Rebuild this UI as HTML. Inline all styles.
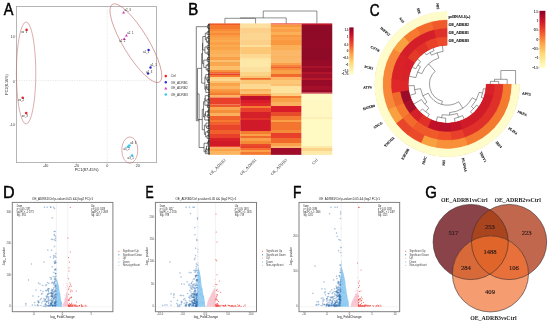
<!DOCTYPE html>
<html><head><meta charset="utf-8"><style>
html,body{margin:0;padding:0;background:#fff;}
svg{display:block;will-change:transform;filter:blur(0.3px);}
</style></head><body>
<svg width="550" height="324" viewBox="0 0 550 324">
<rect width="550" height="324" fill="#fff"/>
<text x="0" y="0" font-size="16.6" font-family='"Liberation Sans", sans-serif' fill="#000" stroke="#000" stroke-width="0.5" transform="translate(3.85 14.80) scale(0.87 1)">A</text>
<line x1="16.5" y1="80.5" x2="156.5" y2="80.5" stroke="#d0d0d0" stroke-width="0.5" stroke-dasharray="1.2,1.2"/>
<line x1="107.2" y1="6.5" x2="107.2" y2="162.6" stroke="#d0d0d0" stroke-width="0.5" stroke-dasharray="1.2,1.2"/>
<rect x="16.5" y="6.5" width="140.0" height="156.1" fill="none" stroke="#a4a4a4" stroke-width="0.8"/>
<line x1="15.3" y1="36.1" x2="16.5" y2="36.1" stroke="#999" stroke-width="0.4"/>
<text x="14.90" y="38.10" font-size="3.7" font-family='"Liberation Sans", sans-serif' text-anchor="end" fill="#444" font-weight="normal">10</text>
<line x1="15.3" y1="80.5" x2="16.5" y2="80.5" stroke="#999" stroke-width="0.4"/>
<text x="14.90" y="82.50" font-size="3.7" font-family='"Liberation Sans", sans-serif' text-anchor="end" fill="#444" font-weight="normal">0</text>
<line x1="15.3" y1="124.3" x2="16.5" y2="124.3" stroke="#999" stroke-width="0.4"/>
<text x="14.90" y="126.30" font-size="3.7" font-family='"Liberation Sans", sans-serif' text-anchor="end" fill="#444" font-weight="normal">-10</text>
<line x1="45.6" y1="162.6" x2="45.6" y2="163.79999999999998" stroke="#999" stroke-width="0.4"/>
<text x="45.60" y="167.00" font-size="3.7" font-family='"Liberation Sans", sans-serif' text-anchor="middle" fill="#333" font-weight="normal">-40</text>
<line x1="76.4" y1="162.6" x2="76.4" y2="163.79999999999998" stroke="#999" stroke-width="0.4"/>
<text x="76.40" y="167.00" font-size="3.7" font-family='"Liberation Sans", sans-serif' text-anchor="middle" fill="#333" font-weight="normal">-20</text>
<line x1="107.2" y1="162.6" x2="107.2" y2="163.79999999999998" stroke="#999" stroke-width="0.4"/>
<text x="107.20" y="167.00" font-size="3.7" font-family='"Liberation Sans", sans-serif' text-anchor="middle" fill="#333" font-weight="normal">0</text>
<line x1="137.8" y1="162.6" x2="137.8" y2="163.79999999999998" stroke="#999" stroke-width="0.4"/>
<text x="137.80" y="167.00" font-size="3.7" font-family='"Liberation Sans", sans-serif' text-anchor="middle" fill="#333" font-weight="normal">20</text>
<text x="86.70" y="171.40" font-size="4.0" font-family='"Liberation Sans", sans-serif' text-anchor="middle" fill="#222" font-weight="normal">PC1(87.45%)</text>
<text x="8.30" y="84.50" font-size="3.8" font-family='"Liberation Sans", sans-serif' text-anchor="middle" fill="#222" font-weight="normal" transform="rotate(-90 8.3 84.5)">PC2(8.16%)</text>
<ellipse cx="26.1" cy="73" rx="9.7" ry="51" fill="none" stroke="#bf6a6a" stroke-width="0.55"/>
<ellipse cx="0" cy="0" rx="45.5" ry="12.5" fill="none" stroke="#bf6a6a" stroke-width="0.55" transform="translate(135.9 43.2) rotate(58.7)"/>
<ellipse cx="129.8" cy="150.1" rx="8" ry="13.2" fill="none" stroke="#bf6a6a" stroke-width="0.55"/>
<circle cx="26.6" cy="29.9" r="1.3" fill="#f0262a"/>
<text x="21.30" y="33.00" font-size="2.8" font-family='"Liberation Sans", sans-serif' text-anchor="start" fill="#222" font-weight="normal">ov_1</text>
<circle cx="22.7" cy="97.7" r="1.3" fill="#f0262a"/>
<text x="18.10" y="101.20" font-size="2.8" font-family='"Liberation Sans", sans-serif' text-anchor="start" fill="#222" font-weight="normal">ov_2</text>
<circle cx="26.2" cy="113.1" r="1.3" fill="#f0262a"/>
<text x="21.70" y="116.60" font-size="2.8" font-family='"Liberation Sans", sans-serif' text-anchor="start" fill="#222" font-weight="normal">ov_3</text>
<path d="M123.6 10.9 L125.1 13.6 L122.1 13.6 Z" fill="#d43ab8"/>
<text x="124.50" y="11.30" font-size="2.8" font-family='"Liberation Sans", sans-serif' text-anchor="start" fill="#222" font-weight="normal">a2_3</text>
<path d="M126.4 33.9 L127.9 36.6 L124.9 36.6 Z" fill="#d43ab8"/>
<text x="127.20" y="34.20" font-size="2.8" font-family='"Liberation Sans", sans-serif' text-anchor="start" fill="#222" font-weight="normal">a2_1</text>
<path d="M124.2 37.3 L125.7 40.0 L122.7 40.0 Z" fill="#d43ab8"/>
<text x="119.20" y="42.00" font-size="2.8" font-family='"Liberation Sans", sans-serif' text-anchor="start" fill="#222" font-weight="normal">a2_2</text>
<circle cx="148.6" cy="50" r="1.2" fill="#2a2ad8"/>
<text x="143.00" y="52.50" font-size="2.8" font-family='"Liberation Sans", sans-serif' text-anchor="start" fill="#222" font-weight="normal">a1_2</text>
<circle cx="150.5" cy="67.5" r="1.2" fill="#2a2ad8"/>
<text x="150.50" y="66.00" font-size="2.8" font-family='"Liberation Sans", sans-serif' text-anchor="start" fill="#222" font-weight="normal">a1_1</text>
<circle cx="148" cy="73.6" r="1.2" fill="#2a2ad8"/>
<text x="146.00" y="72.50" font-size="2.8" font-family='"Liberation Sans", sans-serif' text-anchor="start" fill="#222" font-weight="normal">a1_3</text>
<circle cx="129.4" cy="145.5" r="1.25" fill="#30c8f0"/>
<text x="130.20" y="143.60" font-size="2.8" font-family='"Liberation Sans", sans-serif' text-anchor="start" fill="#222" font-weight="normal">a3_3</text>
<circle cx="128" cy="146.7" r="1.25" fill="#30c8f0"/>
<text x="123.50" y="149.50" font-size="2.8" font-family='"Liberation Sans", sans-serif' text-anchor="start" fill="#222" font-weight="normal">a3_2</text>
<circle cx="132" cy="155.6" r="1.25" fill="#30c8f0"/>
<text x="127.60" y="159.00" font-size="2.8" font-family='"Liberation Sans", sans-serif' text-anchor="start" fill="#222" font-weight="normal">a3_1</text>
<circle cx="165.8" cy="76.1" r="1.3" fill="#f0262a"/>
<circle cx="165.8" cy="82.3" r="1.2" fill="#2a2ad8"/>
<path d="M165.8 86.80000000000001 L167.3 89.5 L164.3 89.5 Z" fill="#d43ab8"/>
<circle cx="165.8" cy="94.4" r="1.25" fill="#30c8f0"/>
<text x="170.70" y="77.30" font-size="3.2" font-family='"Liberation Sans", sans-serif' text-anchor="start" fill="#333" font-weight="normal">Ctrl</text>
<text x="170.70" y="83.50" font-size="3.2" font-family='"Liberation Sans", sans-serif' text-anchor="start" fill="#333" font-weight="normal">OE_ADRB1</text>
<text x="170.70" y="89.40" font-size="3.2" font-family='"Liberation Sans", sans-serif' text-anchor="start" fill="#333" font-weight="normal">OE_ADRB2</text>
<text x="170.70" y="95.60" font-size="3.2" font-family='"Liberation Sans", sans-serif' text-anchor="start" fill="#333" font-weight="normal">OE_ADRB3</text>
<text x="0" y="0" font-size="16.6" font-family='"Liberation Sans", sans-serif' fill="#000" stroke="#000" stroke-width="0.5" transform="translate(188.20 15.30) scale(0.9 1)">B</text>
<rect x="209.60" y="23.40" width="30.70" height="1.65" fill="#f05a28"/>
<rect x="209.60" y="25.00" width="30.70" height="4.05" fill="#f57a30"/>
<rect x="209.60" y="29.00" width="30.70" height="2.05" fill="#f88a38"/>
<rect x="209.60" y="31.00" width="30.70" height="2.05" fill="#f99a42"/>
<rect x="209.60" y="33.00" width="30.70" height="2.05" fill="#f88a38"/>
<rect x="209.60" y="35.00" width="30.70" height="2.05" fill="#f99a42"/>
<rect x="209.60" y="37.00" width="30.70" height="3.05" fill="#f9a448"/>
<rect x="209.60" y="40.00" width="30.70" height="2.05" fill="#fbac50"/>
<rect x="209.60" y="42.00" width="30.70" height="3.05" fill="#f9a048"/>
<rect x="209.60" y="45.00" width="30.70" height="2.05" fill="#fbac50"/>
<rect x="209.60" y="47.00" width="30.70" height="3.05" fill="#f9a448"/>
<rect x="209.60" y="50.00" width="30.70" height="4.05" fill="#fbb058"/>
<rect x="209.60" y="54.00" width="30.70" height="3.05" fill="#fbb460"/>
<rect x="209.60" y="57.00" width="30.70" height="3.05" fill="#f9a048"/>
<rect x="209.60" y="60.00" width="30.70" height="2.05" fill="#fbc070"/>
<rect x="209.60" y="62.00" width="30.70" height="4.05" fill="#f9a850"/>
<rect x="209.60" y="66.00" width="30.70" height="4.05" fill="#fcbf6c"/>
<rect x="209.60" y="70.00" width="30.70" height="2.05" fill="#f7903c"/>
<rect x="209.60" y="72.00" width="30.70" height="1.55" fill="#f06a2a"/>
<rect x="209.60" y="73.50" width="30.70" height="1.55" fill="#e8402a"/>
<rect x="209.60" y="75.00" width="30.70" height="2.05" fill="#f5782e"/>
<rect x="209.60" y="77.00" width="30.70" height="2.05" fill="#fbd080"/>
<rect x="209.60" y="79.00" width="30.70" height="2.05" fill="#fdd890"/>
<rect x="209.60" y="81.00" width="30.70" height="2.05" fill="#fbc070"/>
<rect x="209.60" y="83.00" width="30.70" height="3.05" fill="#f9a448"/>
<rect x="209.60" y="86.00" width="30.70" height="3.05" fill="#fbb460"/>
<rect x="209.60" y="89.00" width="30.70" height="2.05" fill="#f99a45"/>
<rect x="209.60" y="91.00" width="30.70" height="2.05" fill="#f8903a"/>
<rect x="209.60" y="93.00" width="30.70" height="2.05" fill="#f47c32"/>
<rect x="209.60" y="95.00" width="30.70" height="2.55" fill="#fbb464"/>
<rect x="209.60" y="97.50" width="30.70" height="7.05" fill="#e8402a"/>
<rect x="209.60" y="104.50" width="30.70" height="2.55" fill="#ee5a2c"/>
<rect x="209.60" y="107.00" width="30.70" height="3.05" fill="#f9a550"/>
<rect x="209.60" y="110.00" width="30.70" height="3.05" fill="#f5903a"/>
<rect x="209.60" y="113.00" width="30.70" height="3.05" fill="#fbb060"/>
<rect x="209.60" y="116.00" width="30.70" height="4.05" fill="#f0602a"/>
<rect x="209.60" y="120.00" width="30.70" height="2.05" fill="#f57a30"/>
<rect x="209.60" y="122.00" width="30.70" height="3.05" fill="#f06030"/>
<rect x="209.60" y="125.00" width="30.70" height="5.05" fill="#e8452a"/>
<rect x="209.60" y="130.00" width="30.70" height="4.05" fill="#f0602c"/>
<rect x="209.60" y="134.00" width="30.70" height="4.05" fill="#e8402a"/>
<rect x="209.60" y="138.00" width="30.70" height="3.05" fill="#d82028"/>
<rect x="209.60" y="141.00" width="30.70" height="5.05" fill="#d01a28"/>
<rect x="209.60" y="146.00" width="30.70" height="1.55" fill="#e84a2c"/>
<rect x="209.60" y="147.50" width="30.70" height="1.55" fill="#fbb060"/>
<rect x="209.60" y="149.00" width="30.70" height="2.05" fill="#f9a048"/>
<rect x="209.60" y="151.00" width="30.70" height="3.85" fill="#fbb460"/>
<rect x="240.25" y="23.40" width="30.70" height="4.65" fill="#fde0a0"/>
<rect x="240.25" y="28.00" width="30.70" height="5.05" fill="#fcd08a"/>
<rect x="240.25" y="33.00" width="30.70" height="7.05" fill="#fcd690"/>
<rect x="240.25" y="40.00" width="30.70" height="5.05" fill="#fcd088"/>
<rect x="240.25" y="45.00" width="30.70" height="2.05" fill="#fde09c"/>
<rect x="240.25" y="47.00" width="30.70" height="7.05" fill="#fcc878"/>
<rect x="240.25" y="54.00" width="30.70" height="4.05" fill="#fdd890"/>
<rect x="240.25" y="58.00" width="30.70" height="2.05" fill="#fde4a0"/>
<rect x="240.25" y="60.00" width="30.70" height="7.05" fill="#fde8a8"/>
<rect x="240.25" y="67.00" width="30.70" height="5.05" fill="#fce0a0"/>
<rect x="240.25" y="72.00" width="30.70" height="4.05" fill="#fcd488"/>
<rect x="240.25" y="76.00" width="30.70" height="2.05" fill="#fbc070"/>
<rect x="240.25" y="78.00" width="30.70" height="1.05" fill="#f26a2a"/>
<rect x="240.25" y="79.00" width="30.70" height="1.05" fill="#f48040"/>
<rect x="240.25" y="80.00" width="30.70" height="4.05" fill="#fbc878"/>
<rect x="240.25" y="84.00" width="30.70" height="5.05" fill="#fcd890"/>
<rect x="240.25" y="89.00" width="30.70" height="2.05" fill="#fbb460"/>
<rect x="240.25" y="91.00" width="30.70" height="3.05" fill="#fbc070"/>
<rect x="240.25" y="94.00" width="30.70" height="2.05" fill="#f47c32"/>
<rect x="240.25" y="96.00" width="30.70" height="4.05" fill="#c0102a"/>
<rect x="240.25" y="100.00" width="30.70" height="3.05" fill="#d81c2a"/>
<rect x="240.25" y="103.00" width="30.70" height="3.05" fill="#e0282a"/>
<rect x="240.25" y="106.00" width="30.70" height="2.05" fill="#f47c32"/>
<rect x="240.25" y="108.00" width="30.70" height="4.05" fill="#e8402a"/>
<rect x="240.25" y="112.00" width="30.70" height="6.05" fill="#d42028"/>
<rect x="240.25" y="118.00" width="30.70" height="2.05" fill="#e03028"/>
<rect x="240.25" y="120.00" width="30.70" height="11.05" fill="#d01a2a"/>
<rect x="240.25" y="131.00" width="30.70" height="3.05" fill="#f47c30"/>
<rect x="240.25" y="134.00" width="30.70" height="2.05" fill="#f9a048"/>
<rect x="240.25" y="136.00" width="30.70" height="2.05" fill="#f06a2c"/>
<rect x="240.25" y="138.00" width="30.70" height="3.05" fill="#f9a048"/>
<rect x="240.25" y="141.00" width="30.70" height="3.05" fill="#f58a36"/>
<rect x="240.25" y="144.00" width="30.70" height="2.05" fill="#e84a2a"/>
<rect x="240.25" y="146.00" width="30.70" height="2.05" fill="#e8402a"/>
<rect x="240.25" y="148.00" width="30.70" height="2.05" fill="#f47030"/>
<rect x="240.25" y="150.00" width="30.70" height="2.05" fill="#fba048"/>
<rect x="240.25" y="152.00" width="30.70" height="2.85" fill="#f47830"/>
<rect x="270.90" y="23.40" width="30.70" height="1.15" fill="#e8302a"/>
<rect x="270.90" y="24.50" width="30.70" height="2.55" fill="#f8963e"/>
<rect x="270.90" y="27.00" width="30.70" height="2.05" fill="#fbaa50"/>
<rect x="270.90" y="29.00" width="30.70" height="3.05" fill="#f9a048"/>
<rect x="270.90" y="32.00" width="30.70" height="3.05" fill="#fbb058"/>
<rect x="270.90" y="35.00" width="30.70" height="2.05" fill="#f9983f"/>
<rect x="270.90" y="37.00" width="30.70" height="3.05" fill="#fba048"/>
<rect x="270.90" y="40.00" width="30.70" height="5.05" fill="#f9983f"/>
<rect x="270.90" y="45.00" width="30.70" height="5.05" fill="#fbb058"/>
<rect x="270.90" y="50.00" width="30.70" height="6.05" fill="#fbb868"/>
<rect x="270.90" y="56.00" width="30.70" height="2.05" fill="#fbb460"/>
<rect x="270.90" y="58.00" width="30.70" height="5.05" fill="#fbb868"/>
<rect x="270.90" y="63.00" width="30.70" height="2.05" fill="#f9a048"/>
<rect x="270.90" y="65.00" width="30.70" height="2.05" fill="#f58040"/>
<rect x="270.90" y="67.00" width="30.70" height="1.05" fill="#f06030"/>
<rect x="270.90" y="68.00" width="30.70" height="2.05" fill="#f68a3a"/>
<rect x="270.90" y="70.00" width="30.70" height="4.05" fill="#f8a048"/>
<rect x="270.90" y="74.00" width="30.70" height="1.05" fill="#f06a2a"/>
<rect x="270.90" y="75.00" width="30.70" height="2.05" fill="#f26a30"/>
<rect x="270.90" y="77.00" width="30.70" height="3.05" fill="#fbb464"/>
<rect x="270.90" y="80.00" width="30.70" height="4.05" fill="#fcc878"/>
<rect x="270.90" y="84.00" width="30.70" height="2.05" fill="#fcc070"/>
<rect x="270.90" y="86.00" width="30.70" height="7.05" fill="#fde39e"/>
<rect x="270.90" y="93.00" width="30.70" height="3.05" fill="#fcd080"/>
<rect x="270.90" y="96.00" width="30.70" height="2.05" fill="#f57a32"/>
<rect x="270.90" y="98.00" width="30.70" height="4.05" fill="#f8a048"/>
<rect x="270.90" y="102.00" width="30.70" height="4.05" fill="#fbb060"/>
<rect x="270.90" y="106.00" width="30.70" height="6.05" fill="#d81c2a"/>
<rect x="270.90" y="112.00" width="30.70" height="4.05" fill="#e84a2c"/>
<rect x="270.90" y="116.00" width="30.70" height="4.05" fill="#f47c32"/>
<rect x="270.90" y="120.00" width="30.70" height="2.05" fill="#f9a048"/>
<rect x="270.90" y="122.00" width="30.70" height="8.05" fill="#f47530"/>
<rect x="270.90" y="130.00" width="30.70" height="3.05" fill="#f38a3a"/>
<rect x="270.90" y="133.00" width="30.70" height="5.05" fill="#e8402a"/>
<rect x="270.90" y="138.00" width="30.70" height="5.05" fill="#f06a2c"/>
<rect x="270.90" y="143.00" width="30.70" height="3.05" fill="#f9a048"/>
<rect x="270.90" y="146.00" width="30.70" height="2.05" fill="#fcb870"/>
<rect x="270.90" y="148.00" width="30.70" height="6.85" fill="#a00d2b"/>
<rect x="301.55" y="23.40" width="30.70" height="1.65" fill="#c41528"/>
<rect x="301.55" y="25.00" width="30.70" height="15.05" fill="#8e0a27"/>
<rect x="301.55" y="40.00" width="30.70" height="8.05" fill="#920a28"/>
<rect x="301.55" y="48.00" width="30.70" height="12.05" fill="#8e0a27"/>
<rect x="301.55" y="60.00" width="30.70" height="6.05" fill="#960b28"/>
<rect x="301.55" y="66.00" width="30.70" height="2.05" fill="#a8122b"/>
<rect x="301.55" y="68.00" width="30.70" height="4.05" fill="#9a0b28"/>
<rect x="301.55" y="72.00" width="30.70" height="2.05" fill="#b0152c"/>
<rect x="301.55" y="74.00" width="30.70" height="4.05" fill="#a0102a"/>
<rect x="301.55" y="78.00" width="30.70" height="2.05" fill="#b8182c"/>
<rect x="301.55" y="80.00" width="30.70" height="6.05" fill="#980b28"/>
<rect x="301.55" y="86.00" width="30.70" height="4.05" fill="#a50f2a"/>
<rect x="301.55" y="90.00" width="30.70" height="2.55" fill="#980b28"/>
<rect x="301.55" y="92.50" width="30.70" height="1.25" fill="#c41a2c"/>
<rect x="301.55" y="93.70" width="30.70" height="6.35" fill="#fffbc8"/>
<rect x="301.55" y="100.00" width="30.70" height="16.55" fill="#fff8c2"/>
<rect x="301.55" y="116.50" width="30.70" height="2.55" fill="#fdf0b4"/>
<rect x="301.55" y="119.00" width="30.70" height="27.05" fill="#fff9c4"/>
<rect x="301.55" y="146.00" width="30.70" height="2.05" fill="#fde9a8"/>
<rect x="301.55" y="148.00" width="30.70" height="3.05" fill="#fcd48c"/>
<rect x="301.55" y="151.00" width="30.70" height="3.85" fill="#fde9a8"/>
<path d="M224.92 23.4 V18.3 H255.57 V23.4 M240.25 18.3 V17.9 M240.25 17.9 H286.23 V23.4 M263.24 17.9 V11 H316.88 V23.4" fill="none" stroke="#333" stroke-width="0.55"/>
<path d="M209.60 23.95 H209.02 V25.04 H209.60 M209.02 24.49 H208.47 V26.14 H209.60 M209.60 28.33 H209.14 V29.42 H209.60 M209.60 27.23 H208.43 V28.88 H209.14 M208.47 25.32 H207.45 V28.05 H208.43 M209.60 30.52 H209.05 V31.61 H209.60 M209.05 31.06 H208.16 V32.71 H209.60 M209.60 33.80 H209.14 V34.90 H209.60 M208.16 31.89 H207.06 V34.35 H209.14 M209.60 35.99 H208.95 V37.09 H209.60 M209.60 38.18 H209.10 V39.28 H209.60 M208.95 36.54 H207.80 V38.73 H209.10 M209.60 40.37 H209.01 V41.47 H209.60 M209.60 42.56 H209.10 V43.66 H209.60 M209.01 40.92 H207.73 V43.11 H209.10 M207.80 37.64 H206.37 V42.02 H207.73 M207.06 33.12 H205.31 V39.83 H206.37 M209.60 44.75 H209.07 V45.85 H209.60 M209.60 46.94 H209.09 V48.04 H209.60 M209.60 49.13 H208.94 V50.23 H209.60 M209.09 47.49 H207.69 V49.68 H208.94 M209.07 45.30 H207.21 V48.58 H207.69 M209.60 51.32 H209.05 V52.42 H209.60 M209.60 54.61 H209.03 V55.70 H209.60 M209.60 53.51 H208.63 V55.16 H209.03 M209.05 51.87 H207.24 V54.33 H208.63 M207.21 46.94 H204.95 V53.10 H207.24 M205.31 36.47 H202.84 V50.02 H204.95 M209.60 56.80 H209.01 V57.89 H209.60 M209.60 58.99 H209.04 V60.08 H209.60 M209.01 57.34 H207.61 V59.53 H209.04 M209.60 61.18 H208.99 V62.27 H209.60 M207.61 58.44 H207.26 V61.72 H208.99 M209.60 63.37 H208.91 V64.46 H209.60 M209.60 65.56 H209.05 V66.65 H209.60 M208.91 63.92 H207.74 V66.11 H209.05 M209.60 67.75 H209.11 V68.84 H209.60 M209.60 69.94 H208.96 V71.03 H209.60 M208.96 70.48 H208.59 V72.13 H209.60 M209.11 68.30 H207.63 V71.31 H208.59 M207.74 65.01 H206.13 V69.80 H207.63 M207.26 60.08 H203.73 V67.41 H206.13 M202.84 43.25 H202.49 V63.74 H203.73 M209.60 73.22 H208.94 V74.32 H209.60 M208.94 73.77 H208.51 V75.41 H209.60 M209.60 76.51 H208.93 V77.60 H209.60 M209.60 78.70 H209.10 V79.79 H209.60 M209.10 79.25 H208.54 V80.89 H209.60 M209.60 81.98 H209.00 V83.08 H209.60 M208.54 80.07 H207.61 V82.53 H209.00 M208.93 77.05 H207.23 V81.30 H207.61 M208.51 74.59 H205.82 V79.18 H207.23 M209.60 84.17 H208.92 V85.27 H209.60 M209.60 86.36 H209.00 V87.46 H209.60 M209.60 89.65 H208.93 V90.74 H209.60 M209.60 88.55 H208.26 V90.20 H208.93 M209.00 86.91 H207.04 V89.37 H208.26 M208.92 84.72 H206.23 V88.14 H207.04 M209.60 91.84 H209.12 V92.93 H209.60 M206.23 86.43 H205.76 V92.39 H209.12 M205.82 76.88 H204.86 V89.41 H205.76 M202.49 53.50 H201.66 V83.15 H204.86 M209.60 94.03 H209.12 V95.12 H209.60 M209.60 96.22 H209.06 V97.31 H209.60 M209.12 94.58 H208.21 V96.77 H209.06 M209.60 99.50 H209.06 V100.60 H209.60 M209.60 98.41 H208.47 V100.05 H209.06 M209.60 101.69 H209.12 V102.79 H209.60 M208.47 99.23 H207.07 V102.24 H209.12 M208.21 95.67 H205.21 V100.73 H207.07 M209.60 104.98 H209.06 V106.07 H209.60 M209.60 107.17 H209.08 V108.26 H209.60 M209.06 105.53 H207.62 V107.71 H209.08 M209.60 103.88 H207.27 V106.62 H207.62 M205.21 98.20 H204.86 V105.25 H207.27 M209.60 109.36 H208.91 V110.45 H209.60 M208.91 109.91 H208.22 V111.55 H209.60 M208.22 110.73 H207.72 V112.64 H209.60 M209.60 114.83 H209.11 V115.93 H209.60 M209.60 113.74 H208.26 V115.38 H209.11 M209.60 117.02 H209.07 V118.12 H209.60 M208.26 114.56 H207.65 V117.57 H209.07 M207.72 111.68 H205.49 V116.06 H207.65 M209.60 120.31 H208.95 V121.40 H209.60 M209.60 119.21 H208.24 V120.86 H208.95 M205.49 113.87 H204.73 V120.03 H208.24 M204.86 101.73 H203.56 V116.95 H204.73 M209.60 122.50 H209.14 V123.59 H209.60 M209.60 124.69 H208.92 V125.78 H209.60 M208.92 125.23 H208.43 V126.88 H209.60 M209.60 127.97 H208.92 V129.07 H209.60 M208.43 126.06 H206.94 V128.52 H208.92 M209.14 123.05 H206.03 V127.29 H206.94 M209.60 130.16 H209.10 V131.26 H209.60 M209.60 132.35 H209.00 V133.45 H209.60 M209.10 130.71 H207.57 V132.90 H209.00 M209.60 135.64 H209.13 V136.73 H209.60 M209.60 134.54 H208.32 V136.19 H209.13 M209.60 137.83 H208.93 V138.92 H209.60 M208.32 135.36 H207.13 V138.38 H208.93 M207.57 131.81 H205.58 V136.87 H207.13 M206.03 125.17 H204.38 V134.34 H205.58 M203.56 109.34 H202.25 V129.75 H204.38 M201.66 68.32 H197.50 V119.55 H202.25 M209.60 141.11 H208.97 V142.21 H209.60 M209.60 140.02 H208.57 V141.66 H208.97 M208.57 140.84 H208.13 V143.30 H209.60 M208.13 142.07 H207.72 V144.40 H209.60 M209.60 145.49 H208.91 V146.59 H209.60 M209.60 148.78 H209.01 V149.87 H209.60 M209.60 147.68 H208.59 V149.32 H209.01 M208.59 148.50 H208.22 V150.97 H209.60 M208.91 146.04 H206.46 V149.74 H208.22 M206.46 147.89 H206.11 V152.06 H209.60 M209.60 153.16 H209.04 V154.25 H209.60 M206.11 149.98 H205.40 V153.71 H209.04 M207.72 143.23 H204.06 V151.84 H205.40 M197.50 93.93 H199.10 V147.54 H204.06 M207.45 26.68 H196.30 V120.74 H199.10" fill="none" stroke="#000" stroke-width="0.5"/>
<rect x="208.30" y="23.70" width="1.3" height="130.80" fill="#1a1a1a" opacity="0.75"/>
<text x="226.12" y="160.20" font-size="4.2" font-family='"Liberation Serif", serif' text-anchor="end" fill="#333" font-weight="normal" transform="rotate(-45 226.12499999999997 160.2)">OE_ADRB2</text>
<text x="256.77" y="160.20" font-size="4.2" font-family='"Liberation Serif", serif' text-anchor="end" fill="#333" font-weight="normal" transform="rotate(-45 256.775 160.2)">OE_ADRB1</text>
<text x="287.43" y="160.20" font-size="4.2" font-family='"Liberation Serif", serif' text-anchor="end" fill="#333" font-weight="normal" transform="rotate(-45 287.425 160.2)">OE_ADRB3</text>
<text x="318.07" y="160.20" font-size="4.2" font-family='"Liberation Serif", serif' text-anchor="end" fill="#333" font-weight="normal" transform="rotate(-45 318.075 160.2)">Ctrl</text>
<defs><linearGradient id="gB" x1="0" y1="1" x2="0" y2="0"><stop offset="0" stop-color="#ffffcc"/><stop offset="0.25" stop-color="#fed976"/><stop offset="0.45" stop-color="#fd9d43"/><stop offset="0.65" stop-color="#f04a2a"/><stop offset="0.82" stop-color="#d0142a"/><stop offset="1" stop-color="#8a0026"/></linearGradient></defs>
<rect x="349.3" y="27.4" width="4.3" height="47.1" fill="url(#gB)"/>
<text x="348.40" y="31.10" font-size="3.2" font-family='"Liberation Serif", serif' text-anchor="end" fill="#111" font-weight="normal" stroke="#111" stroke-width="0.08">1.5</text>
<line x1="348.6" y1="30" x2="349.3" y2="30" stroke="#555" stroke-width="0.3"/>
<text x="348.40" y="38.30" font-size="3.2" font-family='"Liberation Serif", serif' text-anchor="end" fill="#111" font-weight="normal" stroke="#111" stroke-width="0.08">1</text>
<line x1="348.6" y1="37.2" x2="349.3" y2="37.2" stroke="#555" stroke-width="0.3"/>
<text x="348.40" y="45.50" font-size="3.2" font-family='"Liberation Serif", serif' text-anchor="end" fill="#111" font-weight="normal" stroke="#111" stroke-width="0.08">0.5</text>
<line x1="348.6" y1="44.4" x2="349.3" y2="44.4" stroke="#555" stroke-width="0.3"/>
<text x="348.40" y="52.10" font-size="3.2" font-family='"Liberation Serif", serif' text-anchor="end" fill="#111" font-weight="normal" stroke="#111" stroke-width="0.08">0</text>
<line x1="348.6" y1="51" x2="349.3" y2="51" stroke="#555" stroke-width="0.3"/>
<text x="348.40" y="58.90" font-size="3.2" font-family='"Liberation Serif", serif' text-anchor="end" fill="#111" font-weight="normal" stroke="#111" stroke-width="0.08">-0.5</text>
<line x1="348.6" y1="57.8" x2="349.3" y2="57.8" stroke="#555" stroke-width="0.3"/>
<text x="348.40" y="65.70" font-size="3.2" font-family='"Liberation Serif", serif' text-anchor="end" fill="#111" font-weight="normal" stroke="#111" stroke-width="0.08">-1</text>
<line x1="348.6" y1="64.6" x2="349.3" y2="64.6" stroke="#555" stroke-width="0.3"/>
<text x="348.40" y="71.80" font-size="3.2" font-family='"Liberation Serif", serif' text-anchor="end" fill="#111" font-weight="normal" stroke="#111" stroke-width="0.08">-1.5</text>
<line x1="348.6" y1="70.7" x2="349.3" y2="70.7" stroke="#555" stroke-width="0.3"/>
<text x="348.40" y="75.40" font-size="3.2" font-family='"Liberation Serif", serif' text-anchor="end" fill="#111" font-weight="normal" stroke="#111" stroke-width="0.08">-1.75</text>
<line x1="348.6" y1="74.3" x2="349.3" y2="74.3" stroke="#555" stroke-width="0.3"/>
<text x="0" y="0" font-size="16.6" font-family='"Liberation Sans", sans-serif' fill="#000" stroke="#000" stroke-width="0.5" transform="translate(369.70 15.50) scale(0.82 1)">C</text>
<path d="M446.82 11.80 A72.39999999999999 72.39999999999999 0 1 0 519.60 84.58 L486.30 84.40 A39.1 39.1 0 1 1 447.00 45.10 Z" fill="#e8602c"/>
<path d="M446.95 11.75 A72.44999999999999 72.44999999999999 0 1 0 519.65 84.45 L511.52 84.42 A64.32000000000001 64.32000000000001 0 1 1 446.98 19.88 Z" fill="#fffccc"/>
<path d="M446.98 20.18 A64.02 64.02 0 1 0 511.22 84.42 L503.10 84.40 A55.9 55.9 0 1 1 447.00 28.30 Z" fill="#f68a38"/>
<path d="M447.01 28.60 A55.6 55.6 0 1 0 502.80 84.39 L494.67 84.37 A47.47 47.47 0 1 1 447.03 36.73 Z" fill="#e23a2a"/>
<path d="M447.04 37.03 A47.17 47.17 0 1 0 494.37 84.36 L486.25 84.34 A39.05 39.05 0 1 1 447.06 45.15 Z" fill="#d82a28"/>
<path d="M447.20 11.60 A72.6 72.6 0 0 0 429.19 13.87 L431.28 22.04 A64.17 64.17 0 0 1 447.20 20.03 Z" fill="#fffccc" stroke="#fffccc" stroke-width="0.3"/>
<path d="M429.56 13.78 A72.6 72.6 0 0 0 412.48 20.44 L416.51 27.84 A64.17 64.17 0 0 1 431.61 21.95 Z" fill="#fffccc" stroke="#fffccc" stroke-width="0.3"/>
<path d="M412.81 20.26 A72.6 72.6 0 0 0 397.89 30.92 L403.62 37.10 A64.17 64.17 0 0 1 416.81 27.68 Z" fill="#fffccc" stroke="#fffccc" stroke-width="0.3"/>
<path d="M398.17 30.66 A72.6 72.6 0 0 0 386.32 44.65 L393.39 49.24 A64.17 64.17 0 0 1 403.86 36.87 Z" fill="#fffccc" stroke="#fffccc" stroke-width="0.3"/>
<path d="M386.53 44.33 A72.6 72.6 0 0 0 378.47 60.81 L386.45 63.52 A64.17 64.17 0 0 1 393.57 48.96 Z" fill="#fffccc" stroke="#fffccc" stroke-width="0.3"/>
<path d="M378.60 60.45 A72.6 72.6 0 0 0 374.83 78.39 L383.24 79.07 A64.17 64.17 0 0 1 386.56 63.21 Z" fill="#fffccc" stroke="#fffccc" stroke-width="0.3"/>
<path d="M374.86 78.02 A72.6 72.6 0 0 0 375.62 96.34 L383.93 94.93 A64.17 64.17 0 0 1 383.26 78.73 Z" fill="#fffccc" stroke="#fffccc" stroke-width="0.3"/>
<path d="M375.56 95.96 A72.6 72.6 0 0 0 380.79 113.54 L388.50 110.13 A64.17 64.17 0 0 1 383.88 94.60 Z" fill="#fffccc" stroke="#fffccc" stroke-width="0.3"/>
<path d="M380.64 113.19 A72.6 72.6 0 0 0 390.03 128.94 L396.66 123.75 A64.17 64.17 0 0 1 388.37 109.82 Z" fill="#fffccc" stroke="#fffccc" stroke-width="0.3"/>
<path d="M389.79 128.64 A72.6 72.6 0 0 0 402.76 141.61 L407.92 134.94 A64.17 64.17 0 0 1 396.46 123.48 Z" fill="#fffccc" stroke="#fffccc" stroke-width="0.3"/>
<path d="M402.46 141.37 A72.6 72.6 0 0 0 418.21 150.76 L421.58 143.03 A64.17 64.17 0 0 1 407.65 134.74 Z" fill="#fffccc" stroke="#fffccc" stroke-width="0.3"/>
<path d="M417.86 150.61 A72.6 72.6 0 0 0 435.44 155.84 L436.80 147.52 A64.17 64.17 0 0 1 421.27 142.90 Z" fill="#fffccc" stroke="#fffccc" stroke-width="0.3"/>
<path d="M435.06 155.78 A72.6 72.6 0 0 0 453.38 156.54 L452.67 148.14 A64.17 64.17 0 0 1 436.47 147.47 Z" fill="#fffccc" stroke="#fffccc" stroke-width="0.3"/>
<path d="M453.01 156.57 A72.6 72.6 0 0 0 470.95 152.80 L468.19 144.84 A64.17 64.17 0 0 1 452.33 148.16 Z" fill="#fffccc" stroke="#fffccc" stroke-width="0.3"/>
<path d="M470.59 152.93 A72.6 72.6 0 0 0 487.07 144.87 L482.44 137.83 A64.17 64.17 0 0 1 467.88 144.95 Z" fill="#fffccc" stroke="#fffccc" stroke-width="0.3"/>
<path d="M486.75 145.08 A72.6 72.6 0 0 0 500.74 133.23 L494.53 127.54 A64.17 64.17 0 0 1 482.16 138.01 Z" fill="#fffccc" stroke="#fffccc" stroke-width="0.3"/>
<path d="M500.48 133.51 A72.6 72.6 0 0 0 511.14 118.59 L503.72 114.59 A64.17 64.17 0 0 1 494.30 127.78 Z" fill="#fffccc" stroke="#fffccc" stroke-width="0.3"/>
<path d="M510.96 118.92 A72.6 72.6 0 0 0 517.62 101.84 L509.45 99.79 A64.17 64.17 0 0 1 503.56 114.89 Z" fill="#fffccc" stroke="#fffccc" stroke-width="0.3"/>
<path d="M517.53 102.21 A72.6 72.6 0 0 0 519.80 84.20 L511.37 84.20 A64.17 64.17 0 0 1 509.36 100.12 Z" fill="#fffccc" stroke="#fffccc" stroke-width="0.3"/>
<path d="M447.20 20.03 A64.17 64.17 0 0 0 431.28 22.04 L433.37 30.19 A55.75 55.75 0 0 1 447.20 28.45 Z" fill="#f05a2a" stroke="#f05a2a" stroke-width="0.3"/>
<path d="M431.61 21.95 A64.17 64.17 0 0 0 416.51 27.84 L420.54 35.24 A55.75 55.75 0 0 1 433.66 30.12 Z" fill="#f36a2c" stroke="#f36a2c" stroke-width="0.3"/>
<path d="M416.81 27.68 A64.17 64.17 0 0 0 403.62 37.10 L409.33 43.28 A55.75 55.75 0 0 1 420.79 35.10 Z" fill="#f57a30" stroke="#f57a30" stroke-width="0.3"/>
<path d="M403.86 36.87 A64.17 64.17 0 0 0 393.39 49.24 L400.45 53.83 A55.75 55.75 0 0 1 409.55 43.08 Z" fill="#f9a040" stroke="#f9a040" stroke-width="0.3"/>
<path d="M393.57 48.96 A64.17 64.17 0 0 0 386.45 63.52 L394.42 66.24 A55.75 55.75 0 0 1 400.61 53.59 Z" fill="#f7883a" stroke="#f7883a" stroke-width="0.3"/>
<path d="M386.56 63.21 A64.17 64.17 0 0 0 383.24 79.07 L391.63 79.74 A55.75 55.75 0 0 1 394.52 65.96 Z" fill="#f7883a" stroke="#f7883a" stroke-width="0.3"/>
<path d="M383.26 78.73 A64.17 64.17 0 0 0 383.93 94.93 L392.23 93.52 A55.75 55.75 0 0 1 391.65 79.45 Z" fill="#f7883a" stroke="#f7883a" stroke-width="0.3"/>
<path d="M383.88 94.60 A64.17 64.17 0 0 0 388.50 110.13 L396.20 106.73 A55.75 55.75 0 0 1 392.19 93.23 Z" fill="#f7883a" stroke="#f7883a" stroke-width="0.3"/>
<path d="M388.37 109.82 A64.17 64.17 0 0 0 396.66 123.75 L403.30 118.56 A55.75 55.75 0 0 1 396.09 106.46 Z" fill="#f9a040" stroke="#f9a040" stroke-width="0.3"/>
<path d="M396.46 123.48 A64.17 64.17 0 0 0 407.92 134.94 L413.07 128.28 A55.75 55.75 0 0 1 403.12 118.33 Z" fill="#e8452a" stroke="#e8452a" stroke-width="0.3"/>
<path d="M407.65 134.74 A64.17 64.17 0 0 0 421.58 143.03 L424.94 135.31 A55.75 55.75 0 0 1 412.84 128.10 Z" fill="#ea4a2a" stroke="#ea4a2a" stroke-width="0.3"/>
<path d="M421.27 142.90 A64.17 64.17 0 0 0 436.80 147.52 L438.17 139.21 A55.75 55.75 0 0 1 424.67 135.20 Z" fill="#f9a040" stroke="#f9a040" stroke-width="0.3"/>
<path d="M436.47 147.47 A64.17 64.17 0 0 0 452.67 148.14 L451.95 139.75 A55.75 55.75 0 0 1 437.88 139.17 Z" fill="#f8903a" stroke="#f8903a" stroke-width="0.3"/>
<path d="M452.33 148.16 A64.17 64.17 0 0 0 468.19 144.84 L465.44 136.88 A55.75 55.75 0 0 1 451.66 139.77 Z" fill="#f8903a" stroke="#f8903a" stroke-width="0.3"/>
<path d="M467.88 144.95 A64.17 64.17 0 0 0 482.44 137.83 L477.81 130.79 A55.75 55.75 0 0 1 465.16 136.98 Z" fill="#f47a30" stroke="#f47a30" stroke-width="0.3"/>
<path d="M482.16 138.01 A64.17 64.17 0 0 0 494.53 127.54 L488.32 121.85 A55.75 55.75 0 0 1 477.57 130.95 Z" fill="#f47a30" stroke="#f47a30" stroke-width="0.3"/>
<path d="M494.30 127.78 A64.17 64.17 0 0 0 503.72 114.59 L496.30 110.61 A55.75 55.75 0 0 1 488.12 122.07 Z" fill="#f47a30" stroke="#f47a30" stroke-width="0.3"/>
<path d="M503.56 114.89 A64.17 64.17 0 0 0 509.45 99.79 L501.28 97.74 A55.75 55.75 0 0 1 496.16 110.86 Z" fill="#f47a30" stroke="#f47a30" stroke-width="0.3"/>
<path d="M509.36 100.12 A64.17 64.17 0 0 0 511.37 84.20 L502.95 84.20 A55.75 55.75 0 0 1 501.21 98.03 Z" fill="#f47a30" stroke="#f47a30" stroke-width="0.3"/>
<path d="M447.20 28.45 A55.75 55.75 0 0 0 433.37 30.19 L435.46 38.36 A47.32 47.32 0 0 1 447.20 36.88 Z" fill="#e0302a" stroke="#e0302a" stroke-width="0.3"/>
<path d="M433.66 30.12 A55.75 55.75 0 0 0 420.54 35.24 L424.57 42.64 A47.32 47.32 0 0 1 435.70 38.30 Z" fill="#d41e2a" stroke="#d41e2a" stroke-width="0.3"/>
<path d="M420.79 35.10 A55.75 55.75 0 0 0 409.33 43.28 L415.06 49.47 A47.32 47.32 0 0 1 424.79 42.52 Z" fill="#d41e2a" stroke="#d41e2a" stroke-width="0.3"/>
<path d="M409.55 43.08 A55.75 55.75 0 0 0 400.45 53.83 L407.52 58.42 A47.32 47.32 0 0 1 415.24 49.30 Z" fill="#d41e2a" stroke="#d41e2a" stroke-width="0.3"/>
<path d="M400.61 53.59 A55.75 55.75 0 0 0 394.42 66.24 L402.40 68.95 A47.32 47.32 0 0 1 407.65 58.21 Z" fill="#d82228" stroke="#d82228" stroke-width="0.3"/>
<path d="M394.52 65.96 A55.75 55.75 0 0 0 391.63 79.74 L400.03 80.42 A47.32 47.32 0 0 1 402.48 68.72 Z" fill="#d82228" stroke="#d82228" stroke-width="0.3"/>
<path d="M391.65 79.45 A55.75 55.75 0 0 0 392.23 93.52 L400.55 92.11 A47.32 47.32 0 0 1 400.05 80.17 Z" fill="#e0282a" stroke="#e0282a" stroke-width="0.3"/>
<path d="M392.19 93.23 A55.75 55.75 0 0 0 396.20 106.73 L403.92 103.32 A47.32 47.32 0 0 1 400.51 91.87 Z" fill="#f06a2c" stroke="#f06a2c" stroke-width="0.3"/>
<path d="M396.09 106.46 A55.75 55.75 0 0 0 403.30 118.56 L409.93 113.36 A47.32 47.32 0 0 1 403.82 103.09 Z" fill="#f57a30" stroke="#f57a30" stroke-width="0.3"/>
<path d="M403.12 118.33 A55.75 55.75 0 0 0 413.07 128.28 L418.23 121.62 A47.32 47.32 0 0 1 409.78 113.17 Z" fill="#f26a2c" stroke="#f26a2c" stroke-width="0.3"/>
<path d="M412.84 128.10 A55.75 55.75 0 0 0 424.94 135.31 L428.31 127.58 A47.32 47.32 0 0 1 418.04 121.47 Z" fill="#f05a2a" stroke="#f05a2a" stroke-width="0.3"/>
<path d="M424.67 135.20 A55.75 55.75 0 0 0 438.17 139.21 L439.53 130.89 A47.32 47.32 0 0 1 428.08 127.48 Z" fill="#f05a2a" stroke="#f05a2a" stroke-width="0.3"/>
<path d="M437.88 139.17 A55.75 55.75 0 0 0 451.95 139.75 L451.23 131.35 A47.32 47.32 0 0 1 439.29 130.85 Z" fill="#f05028" stroke="#f05028" stroke-width="0.3"/>
<path d="M451.66 139.77 A55.75 55.75 0 0 0 465.44 136.88 L462.68 128.92 A47.32 47.32 0 0 1 450.98 131.37 Z" fill="#e8402a" stroke="#e8402a" stroke-width="0.3"/>
<path d="M465.16 136.98 A55.75 55.75 0 0 0 477.81 130.79 L473.19 123.75 A47.32 47.32 0 0 1 462.45 129.00 Z" fill="#e0302a" stroke="#e0302a" stroke-width="0.3"/>
<path d="M477.57 130.95 A55.75 55.75 0 0 0 488.32 121.85 L482.10 116.16 A47.32 47.32 0 0 1 472.98 123.88 Z" fill="#e0302a" stroke="#e0302a" stroke-width="0.3"/>
<path d="M488.12 122.07 A55.75 55.75 0 0 0 496.30 110.61 L488.88 106.61 A47.32 47.32 0 0 1 481.93 116.34 Z" fill="#e0302a" stroke="#e0302a" stroke-width="0.3"/>
<path d="M496.16 110.86 A55.75 55.75 0 0 0 501.28 97.74 L493.10 95.70 A47.32 47.32 0 0 1 488.76 106.83 Z" fill="#e0302a" stroke="#e0302a" stroke-width="0.3"/>
<path d="M501.21 98.03 A55.75 55.75 0 0 0 502.95 84.20 L494.52 84.20 A47.32 47.32 0 0 1 493.04 95.94 Z" fill="#e0302a" stroke="#e0302a" stroke-width="0.3"/>
<path d="M447.20 36.88 A47.32 47.32 0 0 0 435.46 38.36 L437.55 46.52 A38.9 38.9 0 0 1 447.20 45.30 Z" fill="#ec4a2a" stroke="#ec4a2a" stroke-width="0.3"/>
<path d="M435.70 38.30 A47.32 47.32 0 0 0 424.57 42.64 L428.60 50.04 A38.9 38.9 0 0 1 437.75 46.47 Z" fill="#e8402a" stroke="#e8402a" stroke-width="0.3"/>
<path d="M424.79 42.52 A47.32 47.32 0 0 0 415.06 49.47 L420.78 55.65 A38.9 38.9 0 0 1 428.78 49.94 Z" fill="#e03028" stroke="#e03028" stroke-width="0.3"/>
<path d="M415.24 49.30 A47.32 47.32 0 0 0 407.52 58.42 L414.58 63.01 A38.9 38.9 0 0 1 420.93 55.51 Z" fill="#e43a28" stroke="#e43a28" stroke-width="0.3"/>
<path d="M407.65 58.21 A47.32 47.32 0 0 0 402.40 68.95 L410.37 71.67 A38.9 38.9 0 0 1 414.69 62.84 Z" fill="#d81e2a" stroke="#d81e2a" stroke-width="0.3"/>
<path d="M402.48 68.72 A47.32 47.32 0 0 0 400.03 80.42 L408.42 81.09 A38.9 38.9 0 0 1 410.44 71.47 Z" fill="#d82428" stroke="#d82428" stroke-width="0.3"/>
<path d="M400.05 80.17 A47.32 47.32 0 0 0 400.55 92.11 L408.85 90.70 A38.9 38.9 0 0 1 408.44 80.89 Z" fill="#dc2628" stroke="#dc2628" stroke-width="0.3"/>
<path d="M400.51 91.87 A47.32 47.32 0 0 0 403.92 103.32 L411.62 99.92 A38.9 38.9 0 0 1 408.81 90.50 Z" fill="#9c0c2a" stroke="#9c0c2a" stroke-width="0.3"/>
<path d="M403.82 103.09 A47.32 47.32 0 0 0 409.93 113.36 L416.57 108.17 A38.9 38.9 0 0 1 411.54 99.73 Z" fill="#a80f2b" stroke="#a80f2b" stroke-width="0.3"/>
<path d="M409.78 113.17 A47.32 47.32 0 0 0 418.23 121.62 L423.39 114.96 A38.9 38.9 0 0 1 416.44 108.01 Z" fill="#d42028" stroke="#d42028" stroke-width="0.3"/>
<path d="M418.04 121.47 A47.32 47.32 0 0 0 428.31 127.58 L431.67 119.86 A38.9 38.9 0 0 1 423.23 114.83 Z" fill="#e03028" stroke="#e03028" stroke-width="0.3"/>
<path d="M428.08 127.48 A47.32 47.32 0 0 0 439.53 130.89 L440.90 122.59 A38.9 38.9 0 0 1 431.48 119.78 Z" fill="#c0102a" stroke="#c0102a" stroke-width="0.3"/>
<path d="M439.29 130.85 A47.32 47.32 0 0 0 451.23 131.35 L450.51 122.96 A38.9 38.9 0 0 1 440.70 122.55 Z" fill="#b80f2a" stroke="#b80f2a" stroke-width="0.3"/>
<path d="M450.98 131.37 A47.32 47.32 0 0 0 462.68 128.92 L459.93 120.96 A38.9 38.9 0 0 1 450.31 122.98 Z" fill="#c41428" stroke="#c41428" stroke-width="0.3"/>
<path d="M462.45 129.00 A47.32 47.32 0 0 0 473.19 123.75 L468.56 116.71 A38.9 38.9 0 0 1 459.73 121.03 Z" fill="#d01c28" stroke="#d01c28" stroke-width="0.3"/>
<path d="M472.98 123.88 A47.32 47.32 0 0 0 482.10 116.16 L475.89 110.47 A38.9 38.9 0 0 1 468.39 116.82 Z" fill="#d01c28" stroke="#d01c28" stroke-width="0.3"/>
<path d="M481.93 116.34 A47.32 47.32 0 0 0 488.88 106.61 L481.46 102.62 A38.9 38.9 0 0 1 475.75 110.62 Z" fill="#d01c28" stroke="#d01c28" stroke-width="0.3"/>
<path d="M488.76 106.83 A47.32 47.32 0 0 0 493.10 95.70 L484.93 93.65 A38.9 38.9 0 0 1 481.36 102.80 Z" fill="#d01c28" stroke="#d01c28" stroke-width="0.3"/>
<path d="M493.04 95.94 A47.32 47.32 0 0 0 494.52 84.20 L486.10 84.20 A38.9 38.9 0 0 1 484.88 93.85 Z" fill="#d82028" stroke="#d82028" stroke-width="0.3"/>
<text x="448.40" y="17.50" font-size="3.9" font-family='"Liberation Serif", serif' text-anchor="start" fill="#111" font-weight="bold" stroke="#111" stroke-width="0.12">pcDNA3.1(+)</text>
<text x="448.40" y="25.60" font-size="3.9" font-family='"Liberation Serif", serif' text-anchor="start" fill="#111" font-weight="bold" stroke="#111" stroke-width="0.12">OE_ADRB2</text>
<text x="448.40" y="34.00" font-size="3.9" font-family='"Liberation Serif", serif' text-anchor="start" fill="#111" font-weight="bold" stroke="#111" stroke-width="0.12">OE_ADRB1</text>
<text x="448.40" y="42.40" font-size="3.9" font-family='"Liberation Serif", serif' text-anchor="start" fill="#111" font-weight="bold" stroke="#111" stroke-width="0.12">OE_ADRB3</text>
<text x="437.86" y="9.28" font-size="3.5" font-family='"Liberation Serif", serif' text-anchor="end" fill="#111" font-weight="bold" transform="rotate(82.89473684210527 437.86120633916426 9.279796229853105)" dominant-baseline="central" stroke="#111" stroke-width="0.1">NIS</text>
<text x="419.76" y="13.86" font-size="3.5" font-family='"Liberation Serif", serif' text-anchor="end" fill="#111" font-weight="bold" transform="rotate(68.68421052631577 419.7551482224308 13.864872852128443)" dominant-baseline="central" stroke="#111" stroke-width="0.1">SIK</text>
<text x="403.33" y="22.75" font-size="3.5" font-family='"Liberation Serif", serif' text-anchor="end" fill="#111" font-weight="bold" transform="rotate(54.473684210526315 403.32870043715366 22.75442184610028)" dominant-baseline="central" stroke="#111" stroke-width="0.1">NIS</text>
<text x="389.59" y="35.40" font-size="3.5" font-family='"Liberation Serif", serif' text-anchor="end" fill="#111" font-weight="bold" transform="rotate(40.26315789473685 389.5871528509146 35.40440754149896)" dominant-baseline="central" stroke="#111" stroke-width="0.1">INPP5J</text>
<text x="379.37" y="51.04" font-size="3.5" font-family='"Liberation Serif", serif' text-anchor="end" fill="#111" font-weight="bold" transform="rotate(26.05263157894737 379.3714808671556 51.040657542023546)" dominant-baseline="central" stroke="#111" stroke-width="0.1">CYTB</text>
<text x="373.31" y="68.71" font-size="3.5" font-family='"Liberation Serif", serif' text-anchor="end" fill="#111" font-weight="bold" transform="rotate(11.84210526315789 373.3068781777847 68.70624166422962)" dominant-baseline="central" stroke="#111" stroke-width="0.1">PCK1</text>
<text x="371.76" y="87.32" font-size="3.5" font-family='"Liberation Serif", serif' text-anchor="end" fill="#111" font-weight="bold" transform="rotate(357.63157894736844 371.76449524175877 87.32003555578541)" dominant-baseline="central" stroke="#111" stroke-width="0.1">ATP6</text>
<text x="374.84" y="105.74" font-size="3.5" font-family='"Liberation Serif", serif' text-anchor="end" fill="#111" font-weight="bold" transform="rotate(343.42105263157896 374.8387250744019 105.74288493080746)" dominant-baseline="central" stroke="#111" stroke-width="0.1">HOXB8</text>
<text x="382.34" y="122.85" font-size="3.5" font-family='"Liberation Serif", serif' text-anchor="end" fill="#111" font-weight="bold" transform="rotate(329.2105263157895 382.3414264450737 122.8473212062649)" dominant-baseline="central" stroke="#111" stroke-width="0.1">SNCG</text>
<text x="393.81" y="137.59" font-size="3.5" font-family='"Liberation Serif", serif' text-anchor="end" fill="#111" font-weight="bold" transform="rotate(315.0 393.8134380204157 137.58656197958433)" dominant-baseline="central" stroke="#111" stroke-width="0.1">TMOD2</text>
<text x="408.55" y="149.06" font-size="3.5" font-family='"Liberation Serif", serif' text-anchor="end" fill="#111" font-weight="bold" transform="rotate(300.7894736842105 408.55267879373514 149.05857355492634)" dominant-baseline="central" stroke="#111" stroke-width="0.1">KIF26B</text>
<text x="425.66" y="156.56" font-size="3.5" font-family='"Liberation Serif", serif' text-anchor="end" fill="#111" font-weight="bold" transform="rotate(286.57894736842104 425.6571150691925 156.56127492559807)" dominant-baseline="central" stroke="#111" stroke-width="0.1">NMC</text>
<text x="444.08" y="159.64" font-size="3.5" font-family='"Liberation Serif", serif' text-anchor="end" fill="#111" font-weight="bold" transform="rotate(272.36842105263156 444.0799644442146 159.6355047582412)" dominant-baseline="central" stroke="#111" stroke-width="0.1">NIS</text>
<text x="462.69" y="158.09" font-size="3.5" font-family='"Liberation Serif", serif' text-anchor="start" fill="#111" font-weight="bold" transform="rotate(78.15789473684211 462.6937583357704 158.09312182221527)" dominant-baseline="central" stroke="#111" stroke-width="0.1">PLXNA4</text>
<text x="480.36" y="152.03" font-size="3.5" font-family='"Liberation Serif", serif' text-anchor="start" fill="#111" font-weight="bold" transform="rotate(63.947368421052644 480.3593424579764 152.0285191328444)" dominant-baseline="central" stroke="#111" stroke-width="0.1">TRPV1</text>
<text x="496.00" y="141.81" font-size="3.5" font-family='"Liberation Serif", serif' text-anchor="start" fill="#111" font-weight="bold" transform="rotate(49.73684210526314 495.99559245850105 141.8128471490854)" dominant-baseline="central" stroke="#111" stroke-width="0.1">IRF4</text>
<text x="508.65" y="128.07" font-size="3.5" font-family='"Liberation Serif", serif' text-anchor="start" fill="#111" font-weight="bold" transform="rotate(35.52631578947368 508.6455781538997 128.07129956284632)" dominant-baseline="central" stroke="#111" stroke-width="0.1">PLIN4</text>
<text x="517.54" y="111.64" font-size="3.5" font-family='"Liberation Serif", serif' text-anchor="start" fill="#111" font-weight="bold" transform="rotate(21.315789473684205 517.5351271478715 111.64485177756914)" dominant-baseline="central" stroke="#111" stroke-width="0.1">NREA</text>
<text x="522.12" y="93.54" font-size="3.5" font-family='"Liberation Serif", serif' text-anchor="start" fill="#111" font-weight="bold" transform="rotate(7.105263157894741 522.1202037701469 93.53879366083575)" dominant-baseline="central" stroke="#111" stroke-width="0.1">APC5</text>
<path d="M434.11 50.66 L433.06 47.96 M426.28 54.90 L424.60 52.54 M434.11 50.66 A36.0 36.0 0 0 0 426.28 54.90 M443.12 51.45 L442.39 45.60 M431.49 55.18 L430.07 52.54 M443.12 51.45 A33.0 33.0 0 0 0 431.49 55.18 M420.49 61.58 L417.52 59.06 M415.76 68.83 L412.25 67.12 M420.49 61.58 A35.0 35.0 0 0 0 415.76 68.83 M420.41 66.70 L417.90 65.06 M415.88 77.63 L409.13 76.22 M420.41 66.70 A32.0 32.0 0 0 0 415.88 77.63 M438.81 58.01 L437.13 52.77 M421.79 73.68 L417.64 71.95 M438.81 58.01 A27.5 27.5 0 0 0 421.79 73.68 M414.23 85.56 L408.33 85.81 M415.57 93.62 L409.92 95.30 M414.23 85.56 A33.0 33.0 0 0 0 415.57 93.62 M422.45 108.95 L419.69 111.71 M429.28 114.27 L427.29 117.62 M422.45 108.95 A35.0 35.0 0 0 0 429.28 114.27 M421.43 99.56 L413.78 104.11 M428.77 107.87 L425.70 111.82 M421.43 99.56 A30.0 30.0 0 0 0 428.77 107.87 M420.57 88.64 L414.65 89.63 M426.96 102.07 L424.71 104.06 M420.57 88.64 A27.0 27.0 0 0 0 426.96 102.07 M437.50 116.79 L436.10 121.48 M445.79 118.17 L445.59 123.07 M437.50 116.79 A34.0 34.0 0 0 0 445.79 118.17 M454.38 118.46 L455.18 122.27 M462.57 115.64 L464.28 119.15 M454.38 118.46 A35.0 35.0 0 0 0 462.57 115.64 M442.10 114.78 L441.60 117.74 M457.27 113.52 L458.56 117.30 M442.10 114.78 A31.0 31.0 0 0 0 457.27 113.52 M470.47 111.67 L472.34 113.88 M476.50 105.12 L478.86 106.80 M470.47 111.67 A36.0 36.0 0 0 0 476.50 105.12 M481.20 97.47 L483.44 98.34 M483.42 88.71 L485.80 89.01 M481.20 97.47 A36.5 36.5 0 0 0 483.42 88.71 M471.48 106.55 L473.69 108.58 M479.19 92.30 L482.58 93.16 M471.48 106.55 A33.0 33.0 0 0 0 479.19 92.30 M449.55 112.60 L449.76 115.09 M472.27 97.76 L476.22 99.91 M449.55 112.60 A28.5 28.5 0 0 0 472.27 97.76 M428.24 93.23 L422.82 95.81 M458.69 101.78 L462.79 108.06 M428.24 93.23 A21.0 21.0 0 0 0 458.69 101.78 M435.21 71.18 L428.57 63.97 M442.41 101.24 L441.52 104.42 M435.21 71.18 A17.7 17.7 0 0 0 442.41 101.24" fill="none" stroke="#222" stroke-width="0.45"/>
<path d="M498.74 84.2 V81.4 H490.31 V84.2 M494.52 81.4 V79.3 H507.16 V84.2 M500.84 79.3 V70.5 H515.59 V84.2" fill="none" stroke="#222" stroke-width="0.45"/>
<defs><linearGradient id="gC" x1="0" y1="1" x2="0" y2="0"><stop offset="0" stop-color="#ffffcc"/><stop offset="0.25" stop-color="#fed976"/><stop offset="0.45" stop-color="#fd9d43"/><stop offset="0.65" stop-color="#f04a2a"/><stop offset="0.82" stop-color="#d0142a"/><stop offset="1" stop-color="#8a0026"/></linearGradient></defs>
<rect x="539.5" y="10.8" width="5.9" height="57.2" fill="url(#gC)"/>
<text x="538.20" y="13.10" font-size="3.6" font-family='"Liberation Serif", serif' text-anchor="end" fill="#111" font-weight="normal" stroke="#111" stroke-width="0.08">1.5</text>
<line x1="538.5" y1="11.9" x2="539.5" y2="11.9" stroke="#555" stroke-width="0.3"/>
<text x="538.20" y="21.70" font-size="3.6" font-family='"Liberation Serif", serif' text-anchor="end" fill="#111" font-weight="normal" stroke="#111" stroke-width="0.08">1</text>
<line x1="538.5" y1="20.5" x2="539.5" y2="20.5" stroke="#555" stroke-width="0.3"/>
<text x="538.20" y="31.40" font-size="3.6" font-family='"Liberation Serif", serif' text-anchor="end" fill="#111" font-weight="normal" stroke="#111" stroke-width="0.08">0.5</text>
<line x1="538.5" y1="30.2" x2="539.5" y2="30.2" stroke="#555" stroke-width="0.3"/>
<text x="538.20" y="40.70" font-size="3.6" font-family='"Liberation Serif", serif' text-anchor="end" fill="#111" font-weight="normal" stroke="#111" stroke-width="0.08">0</text>
<line x1="538.5" y1="39.5" x2="539.5" y2="39.5" stroke="#555" stroke-width="0.3"/>
<text x="538.20" y="49.80" font-size="3.6" font-family='"Liberation Serif", serif' text-anchor="end" fill="#111" font-weight="normal" stroke="#111" stroke-width="0.08">-0.5</text>
<line x1="538.5" y1="48.6" x2="539.5" y2="48.6" stroke="#555" stroke-width="0.3"/>
<text x="538.20" y="59.10" font-size="3.6" font-family='"Liberation Serif", serif' text-anchor="end" fill="#111" font-weight="normal" stroke="#111" stroke-width="0.08">-1</text>
<line x1="538.5" y1="57.9" x2="539.5" y2="57.9" stroke="#555" stroke-width="0.3"/>
<text x="538.20" y="68.60" font-size="3.6" font-family='"Liberation Serif", serif' text-anchor="end" fill="#111" font-weight="normal" stroke="#111" stroke-width="0.08">-1.5</text>
<line x1="538.5" y1="67.4" x2="539.5" y2="67.4" stroke="#555" stroke-width="0.3"/>
<text x="0" y="0" font-size="16.6" font-family='"Liberation Sans", sans-serif' fill="#000" stroke="#000" stroke-width="0.5" transform="translate(3.10 197.50) scale(0.97 1)">D</text>
<text x="62.60" y="199.50" font-size="3.6" font-family='"Liberation Sans", sans-serif' text-anchor="middle" fill="#1a1a1a" font-weight="normal" textLength="61" lengthAdjust="spacingAndGlyphs">OE_ADRB1/Ctrl p-value&lt;0.05 &amp;&amp; |log2 FC|&gt;1</text>
<rect x="12.3" y="202.4" width="100.60000000000001" height="109.29999999999998" fill="none" stroke="#7a7a7a" stroke-width="0.95"/>
<line x1="56.4" y1="202.9" x2="56.4" y2="306.4" stroke="#d8d8d8" stroke-width="0.35"/>
<line x1="67.8" y1="202.9" x2="67.8" y2="306.4" stroke="#d8d8d8" stroke-width="0.35"/>
<line x1="12.8" y1="306.79999999999995" x2="112.4" y2="306.79999999999995" stroke="#e2e2e2" stroke-width="0.4"/>
<path d="M62.00 306.70 L55.50 306.70 L55.95 292.20 L56.70 278.00 L57.50 280.84 L58.21 283.68 L59.06 286.52 L59.22 289.36 L59.75 292.20 L60.29 295.04 L60.43 297.88 L61.14 300.72 L61.68 303.56 L62.23 306.40 Z" fill="#7cc0f0" opacity="0.78"/>
<path d="M62.80 306.70 L68.10 306.70 L67.95 298.70 L67.50 291.00 L66.41 292.54 L65.99 294.08 L65.75 295.62 L65.52 297.16 L64.89 298.70 L64.20 300.24 L64.30 301.78 L63.33 303.32 L62.79 304.86 L62.62 306.40 Z" fill="#f7b4c2" opacity="0.72"/>
<circle cx="56.73" cy="295.37" r="0.45" fill="#7cc0f0"/>
<circle cx="59.99" cy="298.99" r="0.45" fill="#7cc0f0"/>
<circle cx="61.96" cy="304.81" r="0.45" fill="#7cc0f0"/>
<circle cx="61.32" cy="302.12" r="0.45" fill="#7cc0f0"/>
<circle cx="56.94" cy="294.14" r="0.45" fill="#7cc0f0"/>
<circle cx="56.43" cy="288.62" r="0.45" fill="#7cc0f0"/>
<circle cx="57.32" cy="301.01" r="0.45" fill="#7cc0f0"/>
<circle cx="57.80" cy="305.43" r="0.45" fill="#7cc0f0"/>
<circle cx="57.45" cy="289.27" r="0.45" fill="#7cc0f0"/>
<circle cx="60.87" cy="303.12" r="0.45" fill="#7cc0f0"/>
<circle cx="57.06" cy="284.22" r="0.45" fill="#7cc0f0"/>
<circle cx="60.00" cy="303.72" r="0.45" fill="#7cc0f0"/>
<circle cx="59.82" cy="294.24" r="0.45" fill="#7cc0f0"/>
<circle cx="61.67" cy="303.06" r="0.45" fill="#7cc0f0"/>
<circle cx="57.42" cy="293.24" r="0.45" fill="#7cc0f0"/>
<circle cx="56.78" cy="285.73" r="0.45" fill="#7cc0f0"/>
<circle cx="60.76" cy="304.95" r="0.45" fill="#7cc0f0"/>
<circle cx="58.31" cy="300.62" r="0.45" fill="#7cc0f0"/>
<circle cx="60.37" cy="297.59" r="0.45" fill="#7cc0f0"/>
<circle cx="59.21" cy="293.72" r="0.45" fill="#7cc0f0"/>
<circle cx="59.80" cy="295.68" r="0.45" fill="#7cc0f0"/>
<circle cx="59.22" cy="306.36" r="0.45" fill="#7cc0f0"/>
<circle cx="56.60" cy="290.80" r="0.45" fill="#7cc0f0"/>
<circle cx="59.92" cy="304.46" r="0.45" fill="#7cc0f0"/>
<circle cx="56.88" cy="304.19" r="0.45" fill="#7cc0f0"/>
<circle cx="57.54" cy="294.21" r="0.45" fill="#7cc0f0"/>
<circle cx="56.47" cy="280.75" r="0.45" fill="#7cc0f0"/>
<circle cx="57.57" cy="300.51" r="0.45" fill="#7cc0f0"/>
<circle cx="60.44" cy="301.98" r="0.45" fill="#7cc0f0"/>
<circle cx="57.34" cy="303.14" r="0.45" fill="#7cc0f0"/>
<circle cx="56.91" cy="290.55" r="0.45" fill="#7cc0f0"/>
<circle cx="59.83" cy="300.21" r="0.45" fill="#7cc0f0"/>
<circle cx="56.72" cy="291.14" r="0.45" fill="#7cc0f0"/>
<circle cx="57.46" cy="289.95" r="0.45" fill="#7cc0f0"/>
<circle cx="61.64" cy="303.54" r="0.45" fill="#7cc0f0"/>
<circle cx="59.17" cy="294.35" r="0.45" fill="#7cc0f0"/>
<circle cx="57.18" cy="295.56" r="0.45" fill="#7cc0f0"/>
<circle cx="56.52" cy="275.78" r="0.45" fill="#7cc0f0"/>
<circle cx="56.71" cy="292.75" r="0.45" fill="#7cc0f0"/>
<circle cx="58.63" cy="288.66" r="0.45" fill="#7cc0f0"/>
<circle cx="60.58" cy="303.64" r="0.45" fill="#7cc0f0"/>
<circle cx="57.56" cy="294.65" r="0.45" fill="#7cc0f0"/>
<circle cx="56.91" cy="304.65" r="0.45" fill="#7cc0f0"/>
<circle cx="59.18" cy="300.56" r="0.45" fill="#7cc0f0"/>
<circle cx="58.56" cy="305.47" r="0.45" fill="#7cc0f0"/>
<circle cx="57.09" cy="285.24" r="0.45" fill="#7cc0f0"/>
<circle cx="57.74" cy="289.03" r="0.45" fill="#7cc0f0"/>
<circle cx="60.76" cy="301.84" r="0.45" fill="#7cc0f0"/>
<circle cx="61.14" cy="302.70" r="0.45" fill="#7cc0f0"/>
<circle cx="59.88" cy="298.16" r="0.45" fill="#7cc0f0"/>
<circle cx="60.83" cy="306.37" r="0.45" fill="#7cc0f0"/>
<circle cx="60.03" cy="296.27" r="0.45" fill="#7cc0f0"/>
<circle cx="59.35" cy="293.80" r="0.45" fill="#7cc0f0"/>
<circle cx="56.58" cy="270.28" r="0.45" fill="#7cc0f0"/>
<circle cx="56.58" cy="299.96" r="0.45" fill="#7cc0f0"/>
<circle cx="61.47" cy="302.94" r="0.45" fill="#7cc0f0"/>
<circle cx="57.85" cy="304.62" r="0.45" fill="#7cc0f0"/>
<circle cx="57.11" cy="282.07" r="0.45" fill="#7cc0f0"/>
<circle cx="57.06" cy="295.70" r="0.45" fill="#7cc0f0"/>
<circle cx="59.59" cy="298.98" r="0.45" fill="#7cc0f0"/>
<circle cx="67.66" cy="301.79" r="0.45" fill="#f7b4c2"/>
<circle cx="66.77" cy="300.46" r="0.45" fill="#f7b4c2"/>
<circle cx="67.52" cy="299.78" r="0.45" fill="#f7b4c2"/>
<circle cx="65.88" cy="287.50" r="0.45" fill="#f7b4c2"/>
<circle cx="67.59" cy="286.28" r="0.45" fill="#f7b4c2"/>
<circle cx="66.32" cy="299.77" r="0.45" fill="#f7b4c2"/>
<circle cx="67.55" cy="304.05" r="0.45" fill="#f7b4c2"/>
<circle cx="67.50" cy="276.16" r="0.45" fill="#f7b4c2"/>
<circle cx="64.87" cy="295.62" r="0.45" fill="#f7b4c2"/>
<circle cx="67.57" cy="286.87" r="0.45" fill="#f7b4c2"/>
<circle cx="67.58" cy="284.10" r="0.45" fill="#f7b4c2"/>
<circle cx="63.62" cy="284.11" r="0.45" fill="#f7b4c2"/>
<circle cx="67.11" cy="290.89" r="0.45" fill="#f7b4c2"/>
<circle cx="65.23" cy="303.97" r="0.45" fill="#f7b4c2"/>
<circle cx="65.93" cy="304.65" r="0.45" fill="#f7b4c2"/>
<circle cx="65.23" cy="298.14" r="0.45" fill="#f7b4c2"/>
<circle cx="66.34" cy="293.82" r="0.45" fill="#f7b4c2"/>
<circle cx="66.38" cy="283.62" r="0.45" fill="#f7b4c2"/>
<circle cx="66.74" cy="285.14" r="0.45" fill="#f7b4c2"/>
<circle cx="66.62" cy="294.58" r="0.45" fill="#f7b4c2"/>
<circle cx="66.97" cy="296.78" r="0.45" fill="#f7b4c2"/>
<circle cx="66.98" cy="289.91" r="0.45" fill="#f7b4c2"/>
<circle cx="66.97" cy="289.06" r="0.45" fill="#f7b4c2"/>
<circle cx="67.70" cy="277.90" r="0.45" fill="#f7b4c2"/>
<circle cx="66.62" cy="304.52" r="0.45" fill="#f7b4c2"/>
<circle cx="51.72" cy="289.33" r="0.45" fill="none" stroke="#336fae" stroke-width="0.32"/>
<circle cx="43.88" cy="298.60" r="0.45" fill="none" stroke="#336fae" stroke-width="0.32"/>
<circle cx="45.18" cy="304.71" r="0.45" fill="none" stroke="#336fae" stroke-width="0.32"/>
<circle cx="48.71" cy="305.42" r="0.45" fill="none" stroke="#336fae" stroke-width="0.32"/>
<circle cx="54.31" cy="297.67" r="0.45" fill="none" stroke="#336fae" stroke-width="0.32"/>
<circle cx="52.41" cy="290.94" r="0.45" fill="none" stroke="#336fae" stroke-width="0.32"/>
<circle cx="41.35" cy="293.98" r="0.45" fill="none" stroke="#336fae" stroke-width="0.32"/>
<circle cx="55.92" cy="302.14" r="0.45" fill="none" stroke="#336fae" stroke-width="0.32"/>
<circle cx="47.87" cy="301.36" r="0.45" fill="none" stroke="#336fae" stroke-width="0.32"/>
<circle cx="54.61" cy="302.99" r="0.45" fill="none" stroke="#336fae" stroke-width="0.32"/>
<circle cx="53.28" cy="276.52" r="0.45" fill="none" stroke="#336fae" stroke-width="0.32"/>
<circle cx="41.23" cy="298.57" r="0.45" fill="none" stroke="#336fae" stroke-width="0.32"/>
<circle cx="48.24" cy="300.89" r="0.45" fill="none" stroke="#336fae" stroke-width="0.32"/>
<circle cx="51.78" cy="303.06" r="0.45" fill="none" stroke="#336fae" stroke-width="0.32"/>
<circle cx="45.70" cy="285.47" r="0.45" fill="none" stroke="#336fae" stroke-width="0.32"/>
<circle cx="54.51" cy="279.48" r="0.45" fill="none" stroke="#336fae" stroke-width="0.32"/>
<circle cx="53.73" cy="294.95" r="0.45" fill="none" stroke="#336fae" stroke-width="0.32"/>
<circle cx="50.74" cy="303.98" r="0.45" fill="none" stroke="#336fae" stroke-width="0.32"/>
<circle cx="48.85" cy="283.30" r="0.45" fill="none" stroke="#336fae" stroke-width="0.32"/>
<circle cx="40.67" cy="290.40" r="0.45" fill="none" stroke="#336fae" stroke-width="0.32"/>
<circle cx="54.66" cy="301.78" r="0.45" fill="none" stroke="#336fae" stroke-width="0.32"/>
<circle cx="53.87" cy="298.37" r="0.45" fill="none" stroke="#336fae" stroke-width="0.32"/>
<circle cx="52.02" cy="302.81" r="0.45" fill="none" stroke="#336fae" stroke-width="0.32"/>
<circle cx="52.11" cy="293.61" r="0.45" fill="none" stroke="#336fae" stroke-width="0.32"/>
<circle cx="42.99" cy="301.10" r="0.45" fill="none" stroke="#336fae" stroke-width="0.32"/>
<circle cx="55.10" cy="255.96" r="0.45" fill="none" stroke="#336fae" stroke-width="0.32"/>
<circle cx="55.75" cy="304.84" r="0.45" fill="none" stroke="#336fae" stroke-width="0.32"/>
<circle cx="55.86" cy="280.23" r="0.45" fill="none" stroke="#336fae" stroke-width="0.32"/>
<circle cx="51.66" cy="290.51" r="0.45" fill="none" stroke="#336fae" stroke-width="0.32"/>
<circle cx="44.80" cy="301.22" r="0.45" fill="none" stroke="#336fae" stroke-width="0.32"/>
<circle cx="54.84" cy="305.56" r="0.45" fill="none" stroke="#336fae" stroke-width="0.32"/>
<circle cx="55.83" cy="298.28" r="0.45" fill="none" stroke="#336fae" stroke-width="0.32"/>
<circle cx="54.95" cy="283.85" r="0.45" fill="none" stroke="#336fae" stroke-width="0.32"/>
<circle cx="55.63" cy="303.92" r="0.45" fill="none" stroke="#336fae" stroke-width="0.32"/>
<circle cx="52.63" cy="293.50" r="0.45" fill="none" stroke="#336fae" stroke-width="0.32"/>
<circle cx="49.94" cy="293.47" r="0.45" fill="none" stroke="#336fae" stroke-width="0.32"/>
<circle cx="42.71" cy="285.38" r="0.45" fill="none" stroke="#336fae" stroke-width="0.32"/>
<circle cx="54.82" cy="291.50" r="0.45" fill="none" stroke="#336fae" stroke-width="0.32"/>
<circle cx="54.72" cy="297.81" r="0.45" fill="none" stroke="#336fae" stroke-width="0.32"/>
<circle cx="50.90" cy="305.67" r="0.45" fill="none" stroke="#336fae" stroke-width="0.32"/>
<circle cx="54.99" cy="290.27" r="0.45" fill="none" stroke="#336fae" stroke-width="0.32"/>
<circle cx="52.92" cy="301.86" r="0.45" fill="none" stroke="#336fae" stroke-width="0.32"/>
<circle cx="52.16" cy="290.98" r="0.45" fill="none" stroke="#336fae" stroke-width="0.32"/>
<circle cx="47.83" cy="293.98" r="0.45" fill="none" stroke="#336fae" stroke-width="0.32"/>
<circle cx="45.26" cy="299.60" r="0.45" fill="none" stroke="#336fae" stroke-width="0.32"/>
<circle cx="55.77" cy="276.45" r="0.45" fill="none" stroke="#336fae" stroke-width="0.32"/>
<circle cx="53.77" cy="272.36" r="0.45" fill="none" stroke="#336fae" stroke-width="0.32"/>
<circle cx="51.36" cy="304.07" r="0.45" fill="none" stroke="#336fae" stroke-width="0.32"/>
<circle cx="42.23" cy="293.62" r="0.45" fill="none" stroke="#336fae" stroke-width="0.32"/>
<circle cx="50.19" cy="299.94" r="0.45" fill="none" stroke="#336fae" stroke-width="0.32"/>
<circle cx="51.07" cy="279.58" r="0.45" fill="none" stroke="#336fae" stroke-width="0.32"/>
<circle cx="55.07" cy="270.00" r="0.45" fill="none" stroke="#336fae" stroke-width="0.32"/>
<circle cx="54.73" cy="292.74" r="0.45" fill="none" stroke="#336fae" stroke-width="0.32"/>
<circle cx="47.42" cy="289.93" r="0.45" fill="none" stroke="#336fae" stroke-width="0.32"/>
<circle cx="48.90" cy="293.08" r="0.45" fill="none" stroke="#336fae" stroke-width="0.32"/>
<circle cx="38.86" cy="302.83" r="0.45" fill="none" stroke="#336fae" stroke-width="0.32"/>
<circle cx="50.32" cy="256.98" r="0.45" fill="none" stroke="#336fae" stroke-width="0.32"/>
<circle cx="46.28" cy="296.25" r="0.45" fill="none" stroke="#336fae" stroke-width="0.32"/>
<circle cx="38.90" cy="301.01" r="0.45" fill="none" stroke="#336fae" stroke-width="0.32"/>
<circle cx="54.50" cy="281.79" r="0.45" fill="none" stroke="#336fae" stroke-width="0.32"/>
<circle cx="51.47" cy="304.73" r="0.45" fill="none" stroke="#336fae" stroke-width="0.32"/>
<circle cx="47.02" cy="295.89" r="0.45" fill="none" stroke="#336fae" stroke-width="0.32"/>
<circle cx="55.81" cy="297.51" r="0.45" fill="none" stroke="#336fae" stroke-width="0.32"/>
<circle cx="55.72" cy="285.26" r="0.45" fill="none" stroke="#336fae" stroke-width="0.32"/>
<circle cx="55.19" cy="285.85" r="0.45" fill="none" stroke="#336fae" stroke-width="0.32"/>
<circle cx="45.06" cy="300.74" r="0.45" fill="none" stroke="#336fae" stroke-width="0.32"/>
<circle cx="54.77" cy="303.92" r="0.45" fill="none" stroke="#336fae" stroke-width="0.32"/>
<circle cx="47.88" cy="296.79" r="0.45" fill="none" stroke="#336fae" stroke-width="0.32"/>
<circle cx="51.62" cy="283.08" r="0.45" fill="none" stroke="#336fae" stroke-width="0.32"/>
<circle cx="54.98" cy="269.67" r="0.45" fill="none" stroke="#336fae" stroke-width="0.32"/>
<circle cx="55.87" cy="268.86" r="0.45" fill="none" stroke="#336fae" stroke-width="0.32"/>
<circle cx="50.45" cy="302.70" r="0.45" fill="none" stroke="#336fae" stroke-width="0.32"/>
<circle cx="46.60" cy="301.55" r="0.45" fill="none" stroke="#336fae" stroke-width="0.32"/>
<circle cx="51.83" cy="293.17" r="0.45" fill="none" stroke="#336fae" stroke-width="0.32"/>
<circle cx="52.97" cy="282.79" r="0.45" fill="none" stroke="#336fae" stroke-width="0.32"/>
<circle cx="52.58" cy="301.17" r="0.45" fill="none" stroke="#336fae" stroke-width="0.32"/>
<circle cx="47.53" cy="282.66" r="0.45" fill="none" stroke="#336fae" stroke-width="0.32"/>
<circle cx="41.81" cy="302.90" r="0.45" fill="none" stroke="#336fae" stroke-width="0.32"/>
<circle cx="54.89" cy="262.95" r="0.45" fill="none" stroke="#336fae" stroke-width="0.32"/>
<circle cx="54.65" cy="295.25" r="0.45" fill="none" stroke="#336fae" stroke-width="0.32"/>
<circle cx="51.65" cy="296.28" r="0.45" fill="none" stroke="#336fae" stroke-width="0.32"/>
<circle cx="55.84" cy="294.27" r="0.45" fill="none" stroke="#336fae" stroke-width="0.32"/>
<circle cx="54.91" cy="262.56" r="0.45" fill="none" stroke="#336fae" stroke-width="0.32"/>
<circle cx="45.00" cy="299.45" r="0.45" fill="none" stroke="#336fae" stroke-width="0.32"/>
<circle cx="51.89" cy="295.54" r="0.45" fill="none" stroke="#336fae" stroke-width="0.32"/>
<circle cx="55.64" cy="291.24" r="0.45" fill="none" stroke="#336fae" stroke-width="0.32"/>
<circle cx="52.69" cy="296.21" r="0.45" fill="none" stroke="#336fae" stroke-width="0.32"/>
<circle cx="52.15" cy="266.82" r="0.45" fill="none" stroke="#336fae" stroke-width="0.32"/>
<circle cx="51.34" cy="301.91" r="0.45" fill="none" stroke="#336fae" stroke-width="0.32"/>
<circle cx="51.63" cy="304.12" r="0.45" fill="none" stroke="#336fae" stroke-width="0.32"/>
<circle cx="46.60" cy="284.83" r="0.45" fill="none" stroke="#336fae" stroke-width="0.32"/>
<circle cx="53.52" cy="297.77" r="0.45" fill="none" stroke="#336fae" stroke-width="0.32"/>
<circle cx="48.78" cy="303.16" r="0.45" fill="none" stroke="#336fae" stroke-width="0.32"/>
<circle cx="55.73" cy="273.64" r="0.45" fill="none" stroke="#336fae" stroke-width="0.32"/>
<circle cx="55.90" cy="287.06" r="0.45" fill="none" stroke="#336fae" stroke-width="0.32"/>
<circle cx="54.07" cy="303.12" r="0.45" fill="none" stroke="#336fae" stroke-width="0.32"/>
<circle cx="53.94" cy="291.40" r="0.45" fill="none" stroke="#336fae" stroke-width="0.32"/>
<circle cx="49.25" cy="300.36" r="0.45" fill="none" stroke="#336fae" stroke-width="0.32"/>
<circle cx="45.84" cy="304.43" r="0.45" fill="none" stroke="#336fae" stroke-width="0.32"/>
<circle cx="50.50" cy="304.18" r="0.45" fill="none" stroke="#336fae" stroke-width="0.32"/>
<circle cx="54.39" cy="302.22" r="0.45" fill="none" stroke="#336fae" stroke-width="0.32"/>
<circle cx="52.41" cy="296.43" r="0.45" fill="none" stroke="#336fae" stroke-width="0.32"/>
<circle cx="52.32" cy="299.96" r="0.45" fill="none" stroke="#336fae" stroke-width="0.32"/>
<circle cx="54.91" cy="296.45" r="0.45" fill="none" stroke="#336fae" stroke-width="0.32"/>
<circle cx="48.55" cy="302.97" r="0.45" fill="none" stroke="#336fae" stroke-width="0.32"/>
<circle cx="51.75" cy="293.18" r="0.45" fill="none" stroke="#336fae" stroke-width="0.32"/>
<circle cx="52.62" cy="282.17" r="0.45" fill="none" stroke="#336fae" stroke-width="0.32"/>
<circle cx="55.08" cy="281.70" r="0.45" fill="none" stroke="#336fae" stroke-width="0.32"/>
<circle cx="47.91" cy="289.06" r="0.45" fill="none" stroke="#336fae" stroke-width="0.32"/>
<circle cx="55.02" cy="276.91" r="0.45" fill="none" stroke="#336fae" stroke-width="0.32"/>
<circle cx="37.76" cy="301.11" r="0.45" fill="none" stroke="#336fae" stroke-width="0.32"/>
<circle cx="55.58" cy="278.70" r="0.45" fill="none" stroke="#336fae" stroke-width="0.32"/>
<circle cx="46.45" cy="302.41" r="0.45" fill="none" stroke="#336fae" stroke-width="0.32"/>
<circle cx="55.25" cy="302.07" r="0.45" fill="none" stroke="#336fae" stroke-width="0.32"/>
<circle cx="53.89" cy="283.67" r="0.45" fill="none" stroke="#336fae" stroke-width="0.32"/>
<circle cx="55.41" cy="286.45" r="0.45" fill="none" stroke="#336fae" stroke-width="0.32"/>
<circle cx="48.14" cy="299.41" r="0.45" fill="none" stroke="#336fae" stroke-width="0.32"/>
<circle cx="54.21" cy="305.58" r="0.45" fill="none" stroke="#336fae" stroke-width="0.32"/>
<circle cx="43.07" cy="291.58" r="0.45" fill="none" stroke="#336fae" stroke-width="0.32"/>
<circle cx="55.82" cy="262.97" r="0.45" fill="none" stroke="#336fae" stroke-width="0.32"/>
<circle cx="46.97" cy="297.06" r="0.45" fill="none" stroke="#336fae" stroke-width="0.32"/>
<circle cx="48.62" cy="297.14" r="0.45" fill="none" stroke="#336fae" stroke-width="0.32"/>
<circle cx="55.45" cy="303.20" r="0.45" fill="none" stroke="#336fae" stroke-width="0.32"/>
<circle cx="55.70" cy="304.41" r="0.45" fill="none" stroke="#336fae" stroke-width="0.32"/>
<circle cx="51.56" cy="295.85" r="0.45" fill="none" stroke="#336fae" stroke-width="0.32"/>
<circle cx="55.04" cy="295.37" r="0.45" fill="none" stroke="#336fae" stroke-width="0.32"/>
<circle cx="54.28" cy="303.27" r="0.45" fill="none" stroke="#336fae" stroke-width="0.32"/>
<circle cx="38.65" cy="283.06" r="0.45" fill="none" stroke="#336fae" stroke-width="0.32"/>
<circle cx="55.81" cy="273.36" r="0.45" fill="none" stroke="#336fae" stroke-width="0.32"/>
<circle cx="32.24" cy="305.01" r="0.45" fill="none" stroke="#336fae" stroke-width="0.32"/>
<circle cx="46.51" cy="298.11" r="0.45" fill="none" stroke="#336fae" stroke-width="0.32"/>
<circle cx="51.54" cy="300.89" r="0.45" fill="none" stroke="#336fae" stroke-width="0.32"/>
<circle cx="52.45" cy="296.82" r="0.45" fill="none" stroke="#336fae" stroke-width="0.32"/>
<circle cx="55.92" cy="294.41" r="0.45" fill="none" stroke="#336fae" stroke-width="0.32"/>
<circle cx="46.34" cy="290.83" r="0.45" fill="none" stroke="#336fae" stroke-width="0.32"/>
<circle cx="51.44" cy="303.32" r="0.45" fill="none" stroke="#336fae" stroke-width="0.32"/>
<circle cx="53.46" cy="289.13" r="0.45" fill="none" stroke="#336fae" stroke-width="0.32"/>
<circle cx="54.65" cy="303.11" r="0.45" fill="none" stroke="#336fae" stroke-width="0.32"/>
<circle cx="55.90" cy="296.89" r="0.45" fill="none" stroke="#336fae" stroke-width="0.32"/>
<circle cx="51.46" cy="278.07" r="0.45" fill="none" stroke="#336fae" stroke-width="0.32"/>
<circle cx="45.81" cy="290.68" r="0.45" fill="none" stroke="#336fae" stroke-width="0.32"/>
<circle cx="53.05" cy="293.49" r="0.45" fill="none" stroke="#336fae" stroke-width="0.32"/>
<circle cx="51.88" cy="294.45" r="0.45" fill="none" stroke="#336fae" stroke-width="0.32"/>
<circle cx="53.55" cy="255.51" r="0.45" fill="none" stroke="#336fae" stroke-width="0.32"/>
<circle cx="38.30" cy="302.10" r="0.45" fill="none" stroke="#336fae" stroke-width="0.32"/>
<circle cx="48.73" cy="288.88" r="0.45" fill="none" stroke="#336fae" stroke-width="0.32"/>
<circle cx="53.87" cy="284.90" r="0.45" fill="none" stroke="#336fae" stroke-width="0.32"/>
<circle cx="50.21" cy="277.67" r="0.45" fill="none" stroke="#336fae" stroke-width="0.32"/>
<circle cx="48.35" cy="291.08" r="0.45" fill="none" stroke="#336fae" stroke-width="0.32"/>
<circle cx="53.59" cy="287.83" r="0.45" fill="none" stroke="#336fae" stroke-width="0.32"/>
<circle cx="55.63" cy="289.90" r="0.45" fill="none" stroke="#336fae" stroke-width="0.32"/>
<circle cx="51.55" cy="300.62" r="0.45" fill="none" stroke="#336fae" stroke-width="0.32"/>
<circle cx="52.49" cy="305.67" r="0.45" fill="none" stroke="#336fae" stroke-width="0.32"/>
<circle cx="50.49" cy="293.18" r="0.45" fill="none" stroke="#336fae" stroke-width="0.32"/>
<circle cx="34.62" cy="302.53" r="0.45" fill="none" stroke="#336fae" stroke-width="0.32"/>
<circle cx="53.75" cy="292.20" r="0.45" fill="none" stroke="#336fae" stroke-width="0.32"/>
<circle cx="51.37" cy="292.43" r="0.45" fill="none" stroke="#336fae" stroke-width="0.32"/>
<circle cx="52.92" cy="296.36" r="0.45" fill="none" stroke="#336fae" stroke-width="0.32"/>
<circle cx="54.46" cy="208.58" r="0.45" fill="none" stroke="#336fae" stroke-width="0.32"/>
<circle cx="48.55" cy="290.82" r="0.45" fill="none" stroke="#336fae" stroke-width="0.32"/>
<circle cx="55.97" cy="257.24" r="0.45" fill="none" stroke="#336fae" stroke-width="0.32"/>
<circle cx="48.24" cy="293.95" r="0.45" fill="none" stroke="#336fae" stroke-width="0.32"/>
<circle cx="52.25" cy="302.12" r="0.45" fill="none" stroke="#336fae" stroke-width="0.32"/>
<circle cx="54.29" cy="305.16" r="0.45" fill="none" stroke="#336fae" stroke-width="0.32"/>
<circle cx="55.28" cy="299.96" r="0.45" fill="none" stroke="#336fae" stroke-width="0.32"/>
<circle cx="38.70" cy="302.22" r="0.45" fill="none" stroke="#336fae" stroke-width="0.32"/>
<circle cx="51.64" cy="295.90" r="0.45" fill="none" stroke="#336fae" stroke-width="0.32"/>
<circle cx="54.74" cy="263.45" r="0.45" fill="none" stroke="#336fae" stroke-width="0.32"/>
<circle cx="54.48" cy="239.84" r="0.45" fill="none" stroke="#336fae" stroke-width="0.32"/>
<circle cx="55.67" cy="285.24" r="0.45" fill="none" stroke="#336fae" stroke-width="0.32"/>
<circle cx="47.62" cy="294.51" r="0.45" fill="none" stroke="#336fae" stroke-width="0.32"/>
<circle cx="34.99" cy="305.23" r="0.45" fill="none" stroke="#336fae" stroke-width="0.32"/>
<circle cx="51.15" cy="303.64" r="0.45" fill="none" stroke="#336fae" stroke-width="0.32"/>
<circle cx="50.82" cy="303.50" r="0.45" fill="none" stroke="#336fae" stroke-width="0.32"/>
<circle cx="55.65" cy="294.09" r="0.45" fill="none" stroke="#336fae" stroke-width="0.32"/>
<circle cx="55.18" cy="269.77" r="0.45" fill="none" stroke="#336fae" stroke-width="0.32"/>
<circle cx="50.29" cy="296.52" r="0.45" fill="none" stroke="#336fae" stroke-width="0.32"/>
<circle cx="53.66" cy="300.16" r="0.45" fill="none" stroke="#336fae" stroke-width="0.32"/>
<circle cx="51.45" cy="292.60" r="0.45" fill="none" stroke="#336fae" stroke-width="0.32"/>
<circle cx="46.89" cy="301.67" r="0.45" fill="none" stroke="#336fae" stroke-width="0.32"/>
<circle cx="55.90" cy="301.45" r="0.45" fill="none" stroke="#336fae" stroke-width="0.32"/>
<circle cx="55.68" cy="302.31" r="0.45" fill="none" stroke="#336fae" stroke-width="0.32"/>
<circle cx="45.32" cy="303.69" r="0.45" fill="none" stroke="#336fae" stroke-width="0.32"/>
<circle cx="40.39" cy="299.67" r="0.45" fill="none" stroke="#336fae" stroke-width="0.32"/>
<circle cx="55.75" cy="288.69" r="0.45" fill="none" stroke="#336fae" stroke-width="0.32"/>
<circle cx="51.66" cy="250.13" r="0.45" fill="none" stroke="#336fae" stroke-width="0.32"/>
<circle cx="37.54" cy="304.85" r="0.45" fill="none" stroke="#336fae" stroke-width="0.32"/>
<circle cx="51.65" cy="298.84" r="0.45" fill="none" stroke="#336fae" stroke-width="0.32"/>
<circle cx="55.58" cy="260.93" r="0.45" fill="none" stroke="#336fae" stroke-width="0.32"/>
<circle cx="38.61" cy="296.61" r="0.45" fill="none" stroke="#336fae" stroke-width="0.32"/>
<circle cx="52.83" cy="289.89" r="0.45" fill="none" stroke="#336fae" stroke-width="0.32"/>
<circle cx="53.46" cy="258.00" r="0.45" fill="none" stroke="#336fae" stroke-width="0.32"/>
<circle cx="55.28" cy="294.33" r="0.45" fill="none" stroke="#336fae" stroke-width="0.32"/>
<circle cx="52.52" cy="293.66" r="0.45" fill="none" stroke="#336fae" stroke-width="0.32"/>
<circle cx="55.60" cy="302.98" r="0.45" fill="none" stroke="#336fae" stroke-width="0.32"/>
<circle cx="55.17" cy="296.49" r="0.45" fill="none" stroke="#336fae" stroke-width="0.32"/>
<circle cx="48.68" cy="298.55" r="0.45" fill="none" stroke="#336fae" stroke-width="0.32"/>
<circle cx="54.00" cy="298.26" r="0.45" fill="none" stroke="#336fae" stroke-width="0.32"/>
<circle cx="52.75" cy="294.98" r="0.45" fill="none" stroke="#336fae" stroke-width="0.32"/>
<circle cx="54.64" cy="235.39" r="0.45" fill="none" stroke="#336fae" stroke-width="0.32"/>
<circle cx="50.51" cy="206.92" r="0.45" fill="none" stroke="#336fae" stroke-width="0.32"/>
<circle cx="55.51" cy="240.65" r="0.45" fill="none" stroke="#336fae" stroke-width="0.32"/>
<circle cx="51.98" cy="297.92" r="0.45" fill="none" stroke="#336fae" stroke-width="0.32"/>
<circle cx="54.23" cy="234.61" r="0.45" fill="none" stroke="#336fae" stroke-width="0.32"/>
<circle cx="55.43" cy="279.71" r="0.45" fill="none" stroke="#336fae" stroke-width="0.32"/>
<circle cx="54.50" cy="246.42" r="0.45" fill="none" stroke="#336fae" stroke-width="0.32"/>
<circle cx="54.20" cy="256.86" r="0.45" fill="none" stroke="#336fae" stroke-width="0.32"/>
<circle cx="55.62" cy="238.37" r="0.45" fill="none" stroke="#336fae" stroke-width="0.32"/>
<circle cx="48.98" cy="288.76" r="0.45" fill="none" stroke="#336fae" stroke-width="0.32"/>
<circle cx="52.20" cy="217.91" r="0.45" fill="none" stroke="#336fae" stroke-width="0.32"/>
<circle cx="55.89" cy="301.86" r="0.45" fill="none" stroke="#336fae" stroke-width="0.32"/>
<circle cx="55.00" cy="287.06" r="0.45" fill="none" stroke="#336fae" stroke-width="0.32"/>
<circle cx="55.81" cy="253.40" r="0.45" fill="none" stroke="#336fae" stroke-width="0.32"/>
<circle cx="55.86" cy="262.17" r="0.45" fill="none" stroke="#336fae" stroke-width="0.32"/>
<circle cx="53.97" cy="299.48" r="0.45" fill="none" stroke="#336fae" stroke-width="0.32"/>
<circle cx="54.20" cy="261.23" r="0.45" fill="none" stroke="#336fae" stroke-width="0.32"/>
<circle cx="54.83" cy="278.48" r="0.45" fill="none" stroke="#336fae" stroke-width="0.32"/>
<circle cx="55.24" cy="291.59" r="0.45" fill="none" stroke="#336fae" stroke-width="0.32"/>
<circle cx="52.72" cy="239.39" r="0.45" fill="none" stroke="#336fae" stroke-width="0.32"/>
<circle cx="55.77" cy="300.13" r="0.45" fill="none" stroke="#336fae" stroke-width="0.32"/>
<circle cx="54.24" cy="231.54" r="0.45" fill="none" stroke="#336fae" stroke-width="0.32"/>
<circle cx="55.57" cy="236.51" r="0.45" fill="none" stroke="#336fae" stroke-width="0.32"/>
<circle cx="55.46" cy="273.79" r="0.45" fill="none" stroke="#336fae" stroke-width="0.32"/>
<circle cx="55.17" cy="231.45" r="0.45" fill="none" stroke="#336fae" stroke-width="0.32"/>
<circle cx="47.85" cy="250.01" r="0.45" fill="none" stroke="#336fae" stroke-width="0.32"/>
<circle cx="54.57" cy="282.62" r="0.45" fill="none" stroke="#336fae" stroke-width="0.32"/>
<circle cx="51.44" cy="239.24" r="0.45" fill="none" stroke="#336fae" stroke-width="0.32"/>
<circle cx="48.24" cy="306.02" r="0.41" fill="none" stroke="#336fae" stroke-width="0.32"/>
<circle cx="40.95" cy="305.35" r="0.41" fill="none" stroke="#336fae" stroke-width="0.32"/>
<circle cx="52.70" cy="306.22" r="0.41" fill="none" stroke="#336fae" stroke-width="0.32"/>
<circle cx="46.47" cy="305.99" r="0.41" fill="none" stroke="#336fae" stroke-width="0.32"/>
<circle cx="53.00" cy="305.70" r="0.41" fill="none" stroke="#336fae" stroke-width="0.32"/>
<circle cx="55.43" cy="306.05" r="0.41" fill="none" stroke="#336fae" stroke-width="0.32"/>
<circle cx="52.97" cy="305.11" r="0.41" fill="none" stroke="#336fae" stroke-width="0.32"/>
<circle cx="49.33" cy="306.02" r="0.41" fill="none" stroke="#336fae" stroke-width="0.32"/>
<circle cx="53.83" cy="305.03" r="0.41" fill="none" stroke="#336fae" stroke-width="0.32"/>
<circle cx="54.97" cy="305.91" r="0.41" fill="none" stroke="#336fae" stroke-width="0.32"/>
<circle cx="46.92" cy="305.27" r="0.41" fill="none" stroke="#336fae" stroke-width="0.32"/>
<circle cx="53.00" cy="306.07" r="0.41" fill="none" stroke="#336fae" stroke-width="0.32"/>
<circle cx="53.04" cy="305.27" r="0.41" fill="none" stroke="#336fae" stroke-width="0.32"/>
<circle cx="37.39" cy="305.35" r="0.41" fill="none" stroke="#336fae" stroke-width="0.32"/>
<circle cx="47.73" cy="305.90" r="0.41" fill="none" stroke="#336fae" stroke-width="0.32"/>
<circle cx="53.49" cy="305.67" r="0.41" fill="none" stroke="#336fae" stroke-width="0.32"/>
<circle cx="52.25" cy="305.57" r="0.41" fill="none" stroke="#336fae" stroke-width="0.32"/>
<circle cx="38.49" cy="305.64" r="0.41" fill="none" stroke="#336fae" stroke-width="0.32"/>
<circle cx="55.91" cy="305.55" r="0.41" fill="none" stroke="#336fae" stroke-width="0.32"/>
<circle cx="50.32" cy="305.76" r="0.41" fill="none" stroke="#336fae" stroke-width="0.32"/>
<circle cx="48.94" cy="305.86" r="0.41" fill="none" stroke="#336fae" stroke-width="0.32"/>
<circle cx="52.07" cy="305.31" r="0.41" fill="none" stroke="#336fae" stroke-width="0.32"/>
<circle cx="52.73" cy="305.33" r="0.41" fill="none" stroke="#336fae" stroke-width="0.32"/>
<circle cx="50.02" cy="305.41" r="0.41" fill="none" stroke="#336fae" stroke-width="0.32"/>
<circle cx="49.24" cy="305.04" r="0.41" fill="none" stroke="#336fae" stroke-width="0.32"/>
<circle cx="50.64" cy="305.90" r="0.41" fill="none" stroke="#336fae" stroke-width="0.32"/>
<circle cx="45.27" cy="306.25" r="0.41" fill="none" stroke="#336fae" stroke-width="0.32"/>
<circle cx="44.79" cy="306.08" r="0.41" fill="none" stroke="#336fae" stroke-width="0.32"/>
<circle cx="43.23" cy="306.13" r="0.41" fill="none" stroke="#336fae" stroke-width="0.32"/>
<circle cx="54.90" cy="306.09" r="0.41" fill="none" stroke="#336fae" stroke-width="0.32"/>
<circle cx="31.40" cy="264.00" r="0.45" fill="none" stroke="#336fae" stroke-width="0.32"/>
<circle cx="25.90" cy="303.50" r="0.45" fill="none" stroke="#336fae" stroke-width="0.32"/>
<circle cx="25.90" cy="305.00" r="0.45" fill="none" stroke="#336fae" stroke-width="0.32"/>
<circle cx="28.50" cy="280.00" r="0.45" fill="none" stroke="#336fae" stroke-width="0.32"/>
<circle cx="33.00" cy="296.00" r="0.45" fill="none" stroke="#336fae" stroke-width="0.32"/>
<circle cx="36.00" cy="290.00" r="0.45" fill="none" stroke="#336fae" stroke-width="0.32"/>
<circle cx="40.00" cy="284.00" r="0.45" fill="none" stroke="#336fae" stroke-width="0.32"/>
<circle cx="44.00" cy="262.00" r="0.45" fill="none" stroke="#336fae" stroke-width="0.32"/>
<circle cx="71.42" cy="297.08" r="0.5" fill="#f0443c"/>
<circle cx="68.42" cy="304.83" r="0.5" fill="#f0443c"/>
<circle cx="72.12" cy="291.08" r="0.5" fill="#f0443c"/>
<circle cx="70.75" cy="304.82" r="0.5" fill="#f0443c"/>
<circle cx="71.62" cy="304.09" r="0.5" fill="#f0443c"/>
<circle cx="68.74" cy="294.26" r="0.5" fill="#f0443c"/>
<circle cx="71.73" cy="303.06" r="0.5" fill="#f0443c"/>
<circle cx="71.25" cy="297.67" r="0.5" fill="#f0443c"/>
<circle cx="69.13" cy="300.27" r="0.5" fill="#f0443c"/>
<circle cx="69.09" cy="267.77" r="0.5" fill="#f0443c"/>
<circle cx="69.85" cy="298.30" r="0.5" fill="#f0443c"/>
<circle cx="70.35" cy="291.73" r="0.5" fill="#f0443c"/>
<circle cx="68.71" cy="278.63" r="0.5" fill="#f0443c"/>
<circle cx="69.77" cy="286.51" r="0.5" fill="#f0443c"/>
<circle cx="70.36" cy="284.63" r="0.5" fill="#f0443c"/>
<circle cx="71.28" cy="286.02" r="0.5" fill="#f0443c"/>
<circle cx="69.02" cy="270.91" r="0.5" fill="#f0443c"/>
<circle cx="70.81" cy="297.62" r="0.5" fill="#f0443c"/>
<circle cx="69.03" cy="287.94" r="0.5" fill="#f0443c"/>
<circle cx="68.55" cy="299.79" r="0.5" fill="#f0443c"/>
<circle cx="76.20" cy="290.90" r="0.5" fill="#f0443c"/>
<circle cx="68.62" cy="300.61" r="0.5" fill="#f0443c"/>
<circle cx="69.55" cy="303.28" r="0.5" fill="#f0443c"/>
<circle cx="76.49" cy="301.99" r="0.5" fill="#f0443c"/>
<circle cx="69.14" cy="305.13" r="0.5" fill="#f0443c"/>
<circle cx="70.83" cy="304.46" r="0.5" fill="#f0443c"/>
<circle cx="68.52" cy="289.31" r="0.5" fill="#f0443c"/>
<circle cx="69.77" cy="305.09" r="0.5" fill="#f0443c"/>
<circle cx="76.24" cy="306.22" r="0.45" fill="#f0443c"/>
<circle cx="68.75" cy="306.28" r="0.45" fill="#f0443c"/>
<circle cx="69.47" cy="306.28" r="0.45" fill="#f0443c"/>
<circle cx="79.36" cy="305.83" r="0.45" fill="#f0443c"/>
<circle cx="76.47" cy="306.32" r="0.45" fill="#f0443c"/>
<circle cx="70.69" cy="305.90" r="0.45" fill="#f0443c"/>
<circle cx="69.34" cy="306.37" r="0.45" fill="#f0443c"/>
<circle cx="75.46" cy="305.71" r="0.45" fill="#f0443c"/>
<circle cx="81.95" cy="305.78" r="0.45" fill="#f0443c"/>
<circle cx="83.89" cy="306.32" r="0.45" fill="#f0443c"/>
<circle cx="84.66" cy="305.85" r="0.45" fill="#f0443c"/>
<circle cx="85.91" cy="305.56" r="0.45" fill="#f0443c"/>
<circle cx="74.12" cy="306.35" r="0.45" fill="#f0443c"/>
<circle cx="85.63" cy="306.15" r="0.45" fill="#f0443c"/>
<circle cx="81.53" cy="305.67" r="0.45" fill="#f0443c"/>
<circle cx="74.79" cy="305.75" r="0.45" fill="#f0443c"/>
<circle cx="70.60" cy="305.23" r="0.45" fill="#f0443c"/>
<circle cx="70.11" cy="306.33" r="0.45" fill="#f0443c"/>
<circle cx="68.21" cy="305.64" r="0.45" fill="#f0443c"/>
<circle cx="81.41" cy="306.27" r="0.45" fill="#f0443c"/>
<circle cx="79.27" cy="306.03" r="0.45" fill="#f0443c"/>
<circle cx="69.18" cy="306.11" r="0.45" fill="#f0443c"/>
<circle cx="71.30" cy="306.30" r="0.45" fill="#f0443c"/>
<circle cx="74.79" cy="304.79" r="0.45" fill="#f0443c"/>
<circle cx="77.43" cy="305.77" r="0.45" fill="#f0443c"/>
<circle cx="75.18" cy="306.37" r="0.45" fill="#f0443c"/>
<circle cx="69.12" cy="306.39" r="0.45" fill="#f0443c"/>
<circle cx="82.07" cy="306.36" r="0.45" fill="#f0443c"/>
<circle cx="82.74" cy="306.25" r="0.45" fill="#f0443c"/>
<circle cx="70.54" cy="306.10" r="0.45" fill="#f0443c"/>
<circle cx="79.35" cy="305.65" r="0.45" fill="#f0443c"/>
<circle cx="73.85" cy="305.88" r="0.45" fill="#f0443c"/>
<circle cx="85.87" cy="305.05" r="0.45" fill="#f0443c"/>
<circle cx="71.02" cy="305.58" r="0.45" fill="#f0443c"/>
<circle cx="81.21" cy="304.85" r="0.45" fill="#f0443c"/>
<circle cx="68.61" cy="305.51" r="0.45" fill="#f0443c"/>
<circle cx="82.20" cy="306.14" r="0.45" fill="#f0443c"/>
<circle cx="74.99" cy="305.43" r="0.45" fill="#f0443c"/>
<circle cx="69.19" cy="306.06" r="0.45" fill="#f0443c"/>
<circle cx="71.13" cy="305.80" r="0.45" fill="#f0443c"/>
<circle cx="68.51" cy="306.09" r="0.45" fill="#f0443c"/>
<circle cx="79.31" cy="305.56" r="0.45" fill="#f0443c"/>
<circle cx="71.90" cy="306.25" r="0.45" fill="#f0443c"/>
<circle cx="72.49" cy="306.05" r="0.45" fill="#f0443c"/>
<circle cx="73.72" cy="304.93" r="0.45" fill="#f0443c"/>
<circle cx="77.83" cy="306.09" r="0.45" fill="#f0443c"/>
<circle cx="68.22" cy="305.50" r="0.45" fill="#f0443c"/>
<circle cx="70.10" cy="305.52" r="0.45" fill="#f0443c"/>
<circle cx="75.80" cy="306.29" r="0.45" fill="#f0443c"/>
<circle cx="86.95" cy="306.37" r="0.45" fill="#f0443c"/>
<circle cx="81.48" cy="306.10" r="0.45" fill="#f0443c"/>
<circle cx="70.83" cy="305.33" r="0.45" fill="#f0443c"/>
<circle cx="72.17" cy="305.75" r="0.45" fill="#f0443c"/>
<circle cx="71.54" cy="306.23" r="0.45" fill="#f0443c"/>
<circle cx="72.45" cy="306.09" r="0.45" fill="#f0443c"/>
<circle cx="69.65" cy="305.87" r="0.45" fill="#f0443c"/>
<circle cx="79.72" cy="305.48" r="0.45" fill="#f0443c"/>
<circle cx="75.77" cy="304.71" r="0.45" fill="#f0443c"/>
<circle cx="79.53" cy="305.66" r="0.45" fill="#f0443c"/>
<circle cx="68.62" cy="305.09" r="0.45" fill="#f0443c"/>
<circle cx="69.03" cy="305.40" r="0.45" fill="#f0443c"/>
<circle cx="79.14" cy="305.73" r="0.45" fill="#f0443c"/>
<circle cx="69.42" cy="305.15" r="0.45" fill="#f0443c"/>
<circle cx="76.43" cy="305.52" r="0.45" fill="#f0443c"/>
<circle cx="68.60" cy="306.33" r="0.45" fill="#f0443c"/>
<circle cx="68.87" cy="305.94" r="0.45" fill="#f0443c"/>
<circle cx="72.71" cy="304.78" r="0.45" fill="#f0443c"/>
<circle cx="73.07" cy="305.61" r="0.45" fill="#f0443c"/>
<circle cx="74.70" cy="305.58" r="0.45" fill="#f0443c"/>
<circle cx="82.06" cy="305.31" r="0.45" fill="#f0443c"/>
<circle cx="72.34" cy="306.00" r="0.45" fill="#f0443c"/>
<circle cx="68.22" cy="305.68" r="0.45" fill="#f0443c"/>
<circle cx="72.60" cy="305.70" r="0.45" fill="#f0443c"/>
<circle cx="81.22" cy="304.24" r="0.45" fill="#f0443c"/>
<circle cx="77.98" cy="306.28" r="0.45" fill="#f0443c"/>
<circle cx="70.00" cy="283.00" r="0.5" fill="#f0443c"/>
<circle cx="71.00" cy="290.00" r="0.5" fill="#f0443c"/>
<circle cx="69.50" cy="299.00" r="0.5" fill="#f0443c"/>
<circle cx="67.90" cy="238.00" r="0.5" fill="#f0443c"/>
<circle cx="70.30" cy="252.00" r="0.5" fill="#f0443c"/>
<circle cx="68.50" cy="257.50" r="0.5" fill="#f0443c"/>
<circle cx="69.50" cy="262.00" r="0.5" fill="#f0443c"/>
<circle cx="44.40" cy="207.20" r="0.50" fill="none" stroke="#336fae" stroke-width="0.32"/>
<circle cx="47.20" cy="207.20" r="0.50" fill="none" stroke="#336fae" stroke-width="0.32"/>
<circle cx="50.90" cy="207.20" r="0.50" fill="none" stroke="#336fae" stroke-width="0.32"/>
<circle cx="53.70" cy="207.20" r="0.50" fill="none" stroke="#336fae" stroke-width="0.32"/>
<circle cx="70.30" cy="207.20" r="0.55" fill="#f0443c"/>
<text x="16.70" y="206.50" font-size="2.7" font-family='"Liberation Sans", sans-serif' text-anchor="start" fill="#222" font-weight="normal" textLength="5.4" lengthAdjust="spacingAndGlyphs">Down</text>
<text x="16.70" y="209.53" font-size="2.7" font-family='"Liberation Sans", sans-serif' text-anchor="start" fill="#222" font-weight="normal" textLength="13.6" lengthAdjust="spacingAndGlyphs">p &lt; 0.05: 2197</text>
<text x="16.70" y="212.56" font-size="2.7" font-family='"Liberation Sans", sans-serif' text-anchor="start" fill="#222" font-weight="normal" textLength="17.0" lengthAdjust="spacingAndGlyphs">log2FC &lt; -1: 2773</text>
<text x="16.70" y="215.59" font-size="2.7" font-family='"Liberation Sans", sans-serif' text-anchor="start" fill="#222" font-weight="normal" textLength="9.4" lengthAdjust="spacingAndGlyphs">Sig.: 1951</text>
<text x="91.20" y="206.50" font-size="2.7" font-family='"Liberation Sans", sans-serif' text-anchor="start" fill="#222" font-weight="normal" textLength="3.3" lengthAdjust="spacingAndGlyphs">Up</text>
<text x="91.20" y="209.53" font-size="2.7" font-family='"Liberation Sans", sans-serif' text-anchor="start" fill="#222" font-weight="normal" textLength="13.8" lengthAdjust="spacingAndGlyphs">p &lt; 0.05: 1828</text>
<text x="91.20" y="212.56" font-size="2.7" font-family='"Liberation Sans", sans-serif' text-anchor="start" fill="#222" font-weight="normal" textLength="16.8" lengthAdjust="spacingAndGlyphs">log2FC &gt; 1: 2669</text>
<text x="91.20" y="215.59" font-size="2.7" font-family='"Liberation Sans", sans-serif' text-anchor="start" fill="#222" font-weight="normal" textLength="9.4" lengthAdjust="spacingAndGlyphs">Sig.: 1417</text>
<line x1="11.3" y1="212.0" x2="12.3" y2="212.0" stroke="#888" stroke-width="0.35"/>
<text x="10.80" y="212.90" font-size="2.6" font-family='"Liberation Sans", sans-serif' text-anchor="end" fill="#444" font-weight="normal">300</text>
<line x1="11.3" y1="243.3" x2="12.3" y2="243.3" stroke="#888" stroke-width="0.35"/>
<text x="10.80" y="244.20" font-size="2.6" font-family='"Liberation Sans", sans-serif' text-anchor="end" fill="#444" font-weight="normal">200</text>
<line x1="11.3" y1="274.6" x2="12.3" y2="274.6" stroke="#888" stroke-width="0.35"/>
<text x="10.80" y="275.50" font-size="2.6" font-family='"Liberation Sans", sans-serif' text-anchor="end" fill="#444" font-weight="normal">100</text>
<line x1="11.3" y1="306.2" x2="12.3" y2="306.2" stroke="#888" stroke-width="0.35"/>
<text x="10.80" y="307.10" font-size="2.6" font-family='"Liberation Sans", sans-serif' text-anchor="end" fill="#444" font-weight="normal">0</text>
<line x1="33.9" y1="311.7" x2="33.9" y2="312.7" stroke="#888" stroke-width="0.35"/>
<text x="33.90" y="315.30" font-size="2.6" font-family='"Liberation Sans", sans-serif' text-anchor="middle" fill="#444" font-weight="normal">-5</text>
<line x1="62.4" y1="311.7" x2="62.4" y2="312.7" stroke="#888" stroke-width="0.35"/>
<text x="62.40" y="315.30" font-size="2.6" font-family='"Liberation Sans", sans-serif' text-anchor="middle" fill="#444" font-weight="normal">0</text>
<line x1="91.3" y1="311.7" x2="91.3" y2="312.7" stroke="#888" stroke-width="0.35"/>
<text x="91.30" y="315.30" font-size="2.6" font-family='"Liberation Sans", sans-serif' text-anchor="middle" fill="#444" font-weight="normal">5</text>
<text x="62.60" y="318.40" font-size="3.3" font-family='"Liberation Sans", sans-serif' text-anchor="middle" fill="#222" font-weight="normal">log<tspan font-size="2.1" dy="0.7">2</tspan><tspan dy="-0.7"> FoldChange</tspan></text>
<text x="4.90" y="256.35" font-size="3.2" font-family='"Liberation Sans", sans-serif' text-anchor="middle" fill="#222" font-weight="normal" transform="rotate(-90 4.9 256.35)">-log<tspan font-size="2.1" dy="0.7">10</tspan><tspan dy="-0.7"> p-value</tspan></text>
<circle cx="118.90" cy="251.30" r="0.55" fill="#f0443c"/>
<text x="122.70" y="252.20" font-size="2.6" font-family='"Liberation Sans", sans-serif' text-anchor="start" fill="#444" font-weight="normal">Significant Up</text>
<circle cx="118.90" cy="254.83" r="0.55" fill="#336fae"/>
<text x="122.70" y="255.73" font-size="2.6" font-family='"Liberation Sans", sans-serif' text-anchor="start" fill="#444" font-weight="normal">Significant Down</text>
<circle cx="118.90" cy="258.36" r="0.55" fill="#f7b4c2"/>
<text x="122.70" y="259.26" font-size="2.6" font-family='"Liberation Sans", sans-serif' text-anchor="start" fill="#444" font-weight="normal">Up</text>
<circle cx="118.90" cy="261.89" r="0.55" fill="#7cc0f0"/>
<text x="122.70" y="262.79" font-size="2.6" font-family='"Liberation Sans", sans-serif' text-anchor="start" fill="#444" font-weight="normal">Down</text>
<circle cx="118.90" cy="265.42" r="0.55" fill="#cccccc"/>
<text x="122.70" y="266.32" font-size="2.6" font-family='"Liberation Sans", sans-serif' text-anchor="start" fill="#444" font-weight="normal">Non-significant</text>
<text x="0" y="0" font-size="16.6" font-family='"Liberation Sans", sans-serif' fill="#000" stroke="#000" stroke-width="0.5" transform="translate(145.40 197.50) scale(0.74 1)">E</text>
<text x="205.95" y="199.50" font-size="3.6" font-family='"Liberation Sans", sans-serif' text-anchor="middle" fill="#1a1a1a" font-weight="normal" textLength="61" lengthAdjust="spacingAndGlyphs">OE_ADRB2/Ctrl p-value&lt;0.05 &amp;&amp; |log2 FC|&gt;1</text>
<rect x="155.4" y="202.4" width="101.1" height="109.29999999999998" fill="none" stroke="#7a7a7a" stroke-width="0.95"/>
<line x1="197.8" y1="202.9" x2="197.8" y2="306.4" stroke="#d8d8d8" stroke-width="0.35"/>
<line x1="215.4" y1="202.9" x2="215.4" y2="306.4" stroke="#d8d8d8" stroke-width="0.35"/>
<line x1="155.9" y1="306.79999999999995" x2="256.0" y2="306.79999999999995" stroke="#e2e2e2" stroke-width="0.4"/>
<path d="M205.20 306.70 L196.60 306.70 L197.20 286.20 L198.10 266.00 L199.20 270.04 L200.19 274.08 L200.94 278.12 L201.23 282.16 L201.79 286.20 L202.72 290.24 L203.26 294.28 L204.29 298.32 L204.78 302.36 L205.28 306.40 Z" fill="#7cc0f0" opacity="0.78"/>
<path d="M206.00 306.70 L215.70 306.70 L215.55 296.70 L215.10 287.00 L213.98 288.94 L212.92 290.88 L211.65 292.82 L210.96 294.76 L209.78 296.70 L208.73 298.64 L208.14 300.58 L207.34 302.52 L207.08 304.46 L206.15 306.40 Z" fill="#f7b4c2" opacity="0.72"/>
<circle cx="198.08" cy="275.86" r="0.45" fill="#7cc0f0"/>
<circle cx="200.24" cy="294.71" r="0.45" fill="#7cc0f0"/>
<circle cx="197.97" cy="281.09" r="0.45" fill="#7cc0f0"/>
<circle cx="198.05" cy="265.24" r="0.45" fill="#7cc0f0"/>
<circle cx="198.46" cy="276.19" r="0.45" fill="#7cc0f0"/>
<circle cx="199.76" cy="291.10" r="0.45" fill="#7cc0f0"/>
<circle cx="198.25" cy="304.04" r="0.45" fill="#7cc0f0"/>
<circle cx="204.30" cy="302.80" r="0.45" fill="#7cc0f0"/>
<circle cx="203.65" cy="296.71" r="0.45" fill="#7cc0f0"/>
<circle cx="205.08" cy="305.86" r="0.45" fill="#7cc0f0"/>
<circle cx="198.39" cy="288.68" r="0.45" fill="#7cc0f0"/>
<circle cx="199.32" cy="291.26" r="0.45" fill="#7cc0f0"/>
<circle cx="201.94" cy="296.80" r="0.45" fill="#7cc0f0"/>
<circle cx="198.11" cy="297.22" r="0.45" fill="#7cc0f0"/>
<circle cx="199.42" cy="286.99" r="0.45" fill="#7cc0f0"/>
<circle cx="198.16" cy="270.44" r="0.45" fill="#7cc0f0"/>
<circle cx="199.25" cy="285.57" r="0.45" fill="#7cc0f0"/>
<circle cx="197.95" cy="292.06" r="0.45" fill="#7cc0f0"/>
<circle cx="203.79" cy="297.78" r="0.45" fill="#7cc0f0"/>
<circle cx="198.00" cy="248.88" r="0.45" fill="#7cc0f0"/>
<circle cx="201.44" cy="293.32" r="0.45" fill="#7cc0f0"/>
<circle cx="200.90" cy="289.83" r="0.45" fill="#7cc0f0"/>
<circle cx="199.77" cy="294.12" r="0.45" fill="#7cc0f0"/>
<circle cx="200.74" cy="295.73" r="0.45" fill="#7cc0f0"/>
<circle cx="197.97" cy="296.75" r="0.45" fill="#7cc0f0"/>
<circle cx="200.35" cy="282.08" r="0.45" fill="#7cc0f0"/>
<circle cx="198.49" cy="282.06" r="0.45" fill="#7cc0f0"/>
<circle cx="200.19" cy="294.98" r="0.45" fill="#7cc0f0"/>
<circle cx="198.02" cy="277.23" r="0.45" fill="#7cc0f0"/>
<circle cx="199.47" cy="281.73" r="0.45" fill="#7cc0f0"/>
<circle cx="197.98" cy="291.42" r="0.45" fill="#7cc0f0"/>
<circle cx="198.31" cy="275.56" r="0.45" fill="#7cc0f0"/>
<circle cx="198.03" cy="288.76" r="0.45" fill="#7cc0f0"/>
<circle cx="199.05" cy="280.15" r="0.45" fill="#7cc0f0"/>
<circle cx="201.09" cy="301.77" r="0.45" fill="#7cc0f0"/>
<circle cx="202.04" cy="288.92" r="0.45" fill="#7cc0f0"/>
<circle cx="197.85" cy="251.28" r="0.45" fill="#7cc0f0"/>
<circle cx="203.83" cy="299.80" r="0.45" fill="#7cc0f0"/>
<circle cx="202.27" cy="296.94" r="0.45" fill="#7cc0f0"/>
<circle cx="203.00" cy="295.56" r="0.45" fill="#7cc0f0"/>
<circle cx="201.20" cy="288.85" r="0.45" fill="#7cc0f0"/>
<circle cx="200.42" cy="305.66" r="0.45" fill="#7cc0f0"/>
<circle cx="198.11" cy="306.25" r="0.45" fill="#7cc0f0"/>
<circle cx="202.28" cy="303.48" r="0.45" fill="#7cc0f0"/>
<circle cx="197.95" cy="226.70" r="0.45" fill="#7cc0f0"/>
<circle cx="197.95" cy="298.27" r="0.45" fill="#7cc0f0"/>
<circle cx="201.53" cy="289.21" r="0.45" fill="#7cc0f0"/>
<circle cx="198.45" cy="271.28" r="0.45" fill="#7cc0f0"/>
<circle cx="201.20" cy="302.91" r="0.45" fill="#7cc0f0"/>
<circle cx="199.43" cy="279.43" r="0.45" fill="#7cc0f0"/>
<circle cx="204.04" cy="302.12" r="0.45" fill="#7cc0f0"/>
<circle cx="197.85" cy="252.77" r="0.45" fill="#7cc0f0"/>
<circle cx="199.35" cy="294.81" r="0.45" fill="#7cc0f0"/>
<circle cx="198.08" cy="262.76" r="0.45" fill="#7cc0f0"/>
<circle cx="198.65" cy="272.27" r="0.45" fill="#7cc0f0"/>
<circle cx="199.33" cy="303.14" r="0.45" fill="#7cc0f0"/>
<circle cx="202.64" cy="302.68" r="0.45" fill="#7cc0f0"/>
<circle cx="200.98" cy="289.76" r="0.45" fill="#7cc0f0"/>
<circle cx="198.53" cy="275.04" r="0.45" fill="#7cc0f0"/>
<circle cx="198.09" cy="272.27" r="0.45" fill="#7cc0f0"/>
<circle cx="197.97" cy="249.50" r="0.45" fill="#7cc0f0"/>
<circle cx="199.72" cy="281.90" r="0.45" fill="#7cc0f0"/>
<circle cx="198.03" cy="256.62" r="0.45" fill="#7cc0f0"/>
<circle cx="198.85" cy="279.00" r="0.45" fill="#7cc0f0"/>
<circle cx="198.04" cy="265.81" r="0.45" fill="#7cc0f0"/>
<circle cx="199.50" cy="281.19" r="0.45" fill="#7cc0f0"/>
<circle cx="201.80" cy="294.15" r="0.45" fill="#7cc0f0"/>
<circle cx="200.30" cy="288.97" r="0.45" fill="#7cc0f0"/>
<circle cx="198.78" cy="271.63" r="0.45" fill="#7cc0f0"/>
<circle cx="203.44" cy="302.65" r="0.45" fill="#7cc0f0"/>
<circle cx="214.97" cy="282.87" r="0.45" fill="#f7b4c2"/>
<circle cx="214.35" cy="291.11" r="0.45" fill="#f7b4c2"/>
<circle cx="214.26" cy="301.06" r="0.45" fill="#f7b4c2"/>
<circle cx="214.17" cy="305.92" r="0.45" fill="#f7b4c2"/>
<circle cx="213.77" cy="294.56" r="0.45" fill="#f7b4c2"/>
<circle cx="214.99" cy="301.62" r="0.45" fill="#f7b4c2"/>
<circle cx="213.69" cy="296.10" r="0.45" fill="#f7b4c2"/>
<circle cx="213.64" cy="304.85" r="0.45" fill="#f7b4c2"/>
<circle cx="214.94" cy="291.12" r="0.45" fill="#f7b4c2"/>
<circle cx="215.14" cy="286.55" r="0.45" fill="#f7b4c2"/>
<circle cx="215.14" cy="296.10" r="0.45" fill="#f7b4c2"/>
<circle cx="214.45" cy="298.49" r="0.45" fill="#f7b4c2"/>
<circle cx="214.33" cy="305.26" r="0.45" fill="#f7b4c2"/>
<circle cx="215.35" cy="304.36" r="0.45" fill="#f7b4c2"/>
<circle cx="214.65" cy="297.36" r="0.45" fill="#f7b4c2"/>
<circle cx="214.18" cy="300.81" r="0.45" fill="#f7b4c2"/>
<circle cx="212.76" cy="299.16" r="0.45" fill="#f7b4c2"/>
<circle cx="215.39" cy="279.38" r="0.45" fill="#f7b4c2"/>
<circle cx="214.26" cy="296.19" r="0.45" fill="#f7b4c2"/>
<circle cx="213.97" cy="280.06" r="0.45" fill="#f7b4c2"/>
<circle cx="214.07" cy="306.38" r="0.45" fill="#f7b4c2"/>
<circle cx="213.61" cy="286.23" r="0.45" fill="#f7b4c2"/>
<circle cx="213.92" cy="303.34" r="0.45" fill="#f7b4c2"/>
<circle cx="214.20" cy="305.16" r="0.45" fill="#f7b4c2"/>
<circle cx="213.83" cy="294.47" r="0.45" fill="#f7b4c2"/>
<circle cx="215.14" cy="284.55" r="0.45" fill="#f7b4c2"/>
<circle cx="214.39" cy="299.57" r="0.45" fill="#f7b4c2"/>
<circle cx="214.35" cy="304.69" r="0.45" fill="#f7b4c2"/>
<circle cx="215.40" cy="289.88" r="0.45" fill="#f7b4c2"/>
<circle cx="214.79" cy="303.08" r="0.45" fill="#f7b4c2"/>
<circle cx="192.53" cy="302.98" r="0.45" fill="none" stroke="#336fae" stroke-width="0.32"/>
<circle cx="197.11" cy="302.60" r="0.45" fill="none" stroke="#336fae" stroke-width="0.32"/>
<circle cx="196.05" cy="287.86" r="0.45" fill="none" stroke="#336fae" stroke-width="0.32"/>
<circle cx="195.36" cy="275.48" r="0.45" fill="none" stroke="#336fae" stroke-width="0.32"/>
<circle cx="185.39" cy="300.37" r="0.45" fill="none" stroke="#336fae" stroke-width="0.32"/>
<circle cx="196.24" cy="280.72" r="0.45" fill="none" stroke="#336fae" stroke-width="0.32"/>
<circle cx="190.86" cy="304.32" r="0.45" fill="none" stroke="#336fae" stroke-width="0.32"/>
<circle cx="193.96" cy="285.41" r="0.45" fill="none" stroke="#336fae" stroke-width="0.32"/>
<circle cx="195.19" cy="288.89" r="0.45" fill="none" stroke="#336fae" stroke-width="0.32"/>
<circle cx="195.85" cy="295.20" r="0.45" fill="none" stroke="#336fae" stroke-width="0.32"/>
<circle cx="194.64" cy="300.04" r="0.45" fill="none" stroke="#336fae" stroke-width="0.32"/>
<circle cx="194.43" cy="300.45" r="0.45" fill="none" stroke="#336fae" stroke-width="0.32"/>
<circle cx="196.66" cy="287.66" r="0.45" fill="none" stroke="#336fae" stroke-width="0.32"/>
<circle cx="195.57" cy="303.27" r="0.45" fill="none" stroke="#336fae" stroke-width="0.32"/>
<circle cx="196.22" cy="266.76" r="0.45" fill="none" stroke="#336fae" stroke-width="0.32"/>
<circle cx="185.65" cy="305.20" r="0.45" fill="none" stroke="#336fae" stroke-width="0.32"/>
<circle cx="191.69" cy="283.01" r="0.45" fill="none" stroke="#336fae" stroke-width="0.32"/>
<circle cx="189.58" cy="300.90" r="0.45" fill="none" stroke="#336fae" stroke-width="0.32"/>
<circle cx="196.51" cy="301.78" r="0.45" fill="none" stroke="#336fae" stroke-width="0.32"/>
<circle cx="191.28" cy="283.71" r="0.45" fill="none" stroke="#336fae" stroke-width="0.32"/>
<circle cx="184.21" cy="303.18" r="0.45" fill="none" stroke="#336fae" stroke-width="0.32"/>
<circle cx="194.98" cy="305.53" r="0.45" fill="none" stroke="#336fae" stroke-width="0.32"/>
<circle cx="196.17" cy="305.66" r="0.45" fill="none" stroke="#336fae" stroke-width="0.32"/>
<circle cx="189.45" cy="303.84" r="0.45" fill="none" stroke="#336fae" stroke-width="0.32"/>
<circle cx="196.13" cy="301.92" r="0.45" fill="none" stroke="#336fae" stroke-width="0.32"/>
<circle cx="195.05" cy="303.56" r="0.45" fill="none" stroke="#336fae" stroke-width="0.32"/>
<circle cx="194.17" cy="283.96" r="0.45" fill="none" stroke="#336fae" stroke-width="0.32"/>
<circle cx="189.97" cy="304.61" r="0.45" fill="none" stroke="#336fae" stroke-width="0.32"/>
<circle cx="194.20" cy="297.33" r="0.45" fill="none" stroke="#336fae" stroke-width="0.32"/>
<circle cx="191.70" cy="297.53" r="0.45" fill="none" stroke="#336fae" stroke-width="0.32"/>
<circle cx="194.56" cy="288.02" r="0.45" fill="none" stroke="#336fae" stroke-width="0.32"/>
<circle cx="194.25" cy="294.67" r="0.45" fill="none" stroke="#336fae" stroke-width="0.32"/>
<circle cx="194.94" cy="294.72" r="0.45" fill="none" stroke="#336fae" stroke-width="0.32"/>
<circle cx="193.22" cy="299.89" r="0.45" fill="none" stroke="#336fae" stroke-width="0.32"/>
<circle cx="195.90" cy="291.96" r="0.45" fill="none" stroke="#336fae" stroke-width="0.32"/>
<circle cx="195.71" cy="277.27" r="0.45" fill="none" stroke="#336fae" stroke-width="0.32"/>
<circle cx="193.26" cy="284.48" r="0.45" fill="none" stroke="#336fae" stroke-width="0.32"/>
<circle cx="195.53" cy="271.29" r="0.45" fill="none" stroke="#336fae" stroke-width="0.32"/>
<circle cx="194.42" cy="299.67" r="0.45" fill="none" stroke="#336fae" stroke-width="0.32"/>
<circle cx="190.23" cy="295.49" r="0.45" fill="none" stroke="#336fae" stroke-width="0.32"/>
<circle cx="196.89" cy="285.67" r="0.45" fill="none" stroke="#336fae" stroke-width="0.32"/>
<circle cx="196.66" cy="305.09" r="0.45" fill="none" stroke="#336fae" stroke-width="0.32"/>
<circle cx="197.02" cy="304.83" r="0.45" fill="none" stroke="#336fae" stroke-width="0.32"/>
<circle cx="195.51" cy="305.71" r="0.45" fill="none" stroke="#336fae" stroke-width="0.32"/>
<circle cx="189.99" cy="304.48" r="0.45" fill="none" stroke="#336fae" stroke-width="0.32"/>
<circle cx="180.27" cy="295.26" r="0.45" fill="none" stroke="#336fae" stroke-width="0.32"/>
<circle cx="195.20" cy="270.18" r="0.45" fill="none" stroke="#336fae" stroke-width="0.32"/>
<circle cx="197.35" cy="272.86" r="0.45" fill="none" stroke="#336fae" stroke-width="0.32"/>
<circle cx="181.27" cy="302.95" r="0.45" fill="none" stroke="#336fae" stroke-width="0.32"/>
<circle cx="196.11" cy="298.69" r="0.45" fill="none" stroke="#336fae" stroke-width="0.32"/>
<circle cx="195.00" cy="290.22" r="0.45" fill="none" stroke="#336fae" stroke-width="0.32"/>
<circle cx="195.37" cy="297.17" r="0.45" fill="none" stroke="#336fae" stroke-width="0.32"/>
<circle cx="196.84" cy="302.75" r="0.45" fill="none" stroke="#336fae" stroke-width="0.32"/>
<circle cx="181.78" cy="295.51" r="0.45" fill="none" stroke="#336fae" stroke-width="0.32"/>
<circle cx="195.08" cy="258.16" r="0.45" fill="none" stroke="#336fae" stroke-width="0.32"/>
<circle cx="196.37" cy="275.94" r="0.45" fill="none" stroke="#336fae" stroke-width="0.32"/>
<circle cx="181.88" cy="301.90" r="0.45" fill="none" stroke="#336fae" stroke-width="0.32"/>
<circle cx="191.71" cy="295.70" r="0.45" fill="none" stroke="#336fae" stroke-width="0.32"/>
<circle cx="195.69" cy="305.66" r="0.45" fill="none" stroke="#336fae" stroke-width="0.32"/>
<circle cx="190.11" cy="298.54" r="0.45" fill="none" stroke="#336fae" stroke-width="0.32"/>
<circle cx="191.98" cy="286.54" r="0.45" fill="none" stroke="#336fae" stroke-width="0.32"/>
<circle cx="194.54" cy="301.23" r="0.45" fill="none" stroke="#336fae" stroke-width="0.32"/>
<circle cx="181.65" cy="283.94" r="0.45" fill="none" stroke="#336fae" stroke-width="0.32"/>
<circle cx="196.20" cy="298.49" r="0.45" fill="none" stroke="#336fae" stroke-width="0.32"/>
<circle cx="193.53" cy="295.01" r="0.45" fill="none" stroke="#336fae" stroke-width="0.32"/>
<circle cx="195.86" cy="300.85" r="0.45" fill="none" stroke="#336fae" stroke-width="0.32"/>
<circle cx="191.88" cy="300.44" r="0.45" fill="none" stroke="#336fae" stroke-width="0.32"/>
<circle cx="192.43" cy="304.31" r="0.45" fill="none" stroke="#336fae" stroke-width="0.32"/>
<circle cx="194.98" cy="272.26" r="0.45" fill="none" stroke="#336fae" stroke-width="0.32"/>
<circle cx="194.07" cy="302.60" r="0.45" fill="none" stroke="#336fae" stroke-width="0.32"/>
<circle cx="188.81" cy="304.61" r="0.45" fill="none" stroke="#336fae" stroke-width="0.32"/>
<circle cx="196.45" cy="294.79" r="0.45" fill="none" stroke="#336fae" stroke-width="0.32"/>
<circle cx="192.56" cy="297.05" r="0.45" fill="none" stroke="#336fae" stroke-width="0.32"/>
<circle cx="194.91" cy="296.31" r="0.45" fill="none" stroke="#336fae" stroke-width="0.32"/>
<circle cx="194.77" cy="301.71" r="0.45" fill="none" stroke="#336fae" stroke-width="0.32"/>
<circle cx="196.76" cy="239.48" r="0.45" fill="none" stroke="#336fae" stroke-width="0.32"/>
<circle cx="194.02" cy="298.11" r="0.45" fill="none" stroke="#336fae" stroke-width="0.32"/>
<circle cx="194.19" cy="303.71" r="0.45" fill="none" stroke="#336fae" stroke-width="0.32"/>
<circle cx="194.97" cy="303.27" r="0.45" fill="none" stroke="#336fae" stroke-width="0.32"/>
<circle cx="194.87" cy="300.76" r="0.45" fill="none" stroke="#336fae" stroke-width="0.32"/>
<circle cx="196.63" cy="275.16" r="0.45" fill="none" stroke="#336fae" stroke-width="0.32"/>
<circle cx="191.01" cy="301.35" r="0.45" fill="none" stroke="#336fae" stroke-width="0.32"/>
<circle cx="193.20" cy="300.22" r="0.45" fill="none" stroke="#336fae" stroke-width="0.32"/>
<circle cx="197.02" cy="294.31" r="0.45" fill="none" stroke="#336fae" stroke-width="0.32"/>
<circle cx="196.88" cy="293.53" r="0.45" fill="none" stroke="#336fae" stroke-width="0.32"/>
<circle cx="187.21" cy="302.63" r="0.45" fill="none" stroke="#336fae" stroke-width="0.32"/>
<circle cx="195.61" cy="255.53" r="0.45" fill="none" stroke="#336fae" stroke-width="0.32"/>
<circle cx="193.77" cy="303.72" r="0.45" fill="none" stroke="#336fae" stroke-width="0.32"/>
<circle cx="186.23" cy="302.14" r="0.45" fill="none" stroke="#336fae" stroke-width="0.32"/>
<circle cx="196.05" cy="302.87" r="0.45" fill="none" stroke="#336fae" stroke-width="0.32"/>
<circle cx="192.34" cy="294.60" r="0.45" fill="none" stroke="#336fae" stroke-width="0.32"/>
<circle cx="194.02" cy="295.98" r="0.45" fill="none" stroke="#336fae" stroke-width="0.32"/>
<circle cx="196.42" cy="270.57" r="0.45" fill="none" stroke="#336fae" stroke-width="0.32"/>
<circle cx="196.30" cy="275.32" r="0.45" fill="none" stroke="#336fae" stroke-width="0.32"/>
<circle cx="194.90" cy="298.90" r="0.45" fill="none" stroke="#336fae" stroke-width="0.32"/>
<circle cx="190.99" cy="291.96" r="0.45" fill="none" stroke="#336fae" stroke-width="0.32"/>
<circle cx="192.80" cy="302.79" r="0.45" fill="none" stroke="#336fae" stroke-width="0.32"/>
<circle cx="194.24" cy="291.51" r="0.45" fill="none" stroke="#336fae" stroke-width="0.32"/>
<circle cx="192.73" cy="293.83" r="0.45" fill="none" stroke="#336fae" stroke-width="0.32"/>
<circle cx="195.38" cy="291.99" r="0.45" fill="none" stroke="#336fae" stroke-width="0.32"/>
<circle cx="197.25" cy="301.76" r="0.45" fill="none" stroke="#336fae" stroke-width="0.32"/>
<circle cx="192.58" cy="281.44" r="0.45" fill="none" stroke="#336fae" stroke-width="0.32"/>
<circle cx="177.53" cy="300.35" r="0.45" fill="none" stroke="#336fae" stroke-width="0.32"/>
<circle cx="196.92" cy="280.15" r="0.45" fill="none" stroke="#336fae" stroke-width="0.32"/>
<circle cx="195.37" cy="285.83" r="0.45" fill="none" stroke="#336fae" stroke-width="0.32"/>
<circle cx="195.60" cy="301.64" r="0.45" fill="none" stroke="#336fae" stroke-width="0.32"/>
<circle cx="197.09" cy="299.91" r="0.45" fill="none" stroke="#336fae" stroke-width="0.32"/>
<circle cx="196.59" cy="305.23" r="0.45" fill="none" stroke="#336fae" stroke-width="0.32"/>
<circle cx="196.36" cy="301.75" r="0.45" fill="none" stroke="#336fae" stroke-width="0.32"/>
<circle cx="186.00" cy="304.37" r="0.45" fill="none" stroke="#336fae" stroke-width="0.32"/>
<circle cx="193.46" cy="300.54" r="0.45" fill="none" stroke="#336fae" stroke-width="0.32"/>
<circle cx="183.51" cy="295.67" r="0.45" fill="none" stroke="#336fae" stroke-width="0.32"/>
<circle cx="195.76" cy="304.06" r="0.45" fill="none" stroke="#336fae" stroke-width="0.32"/>
<circle cx="189.05" cy="284.10" r="0.45" fill="none" stroke="#336fae" stroke-width="0.32"/>
<circle cx="195.64" cy="276.20" r="0.45" fill="none" stroke="#336fae" stroke-width="0.32"/>
<circle cx="196.17" cy="300.76" r="0.45" fill="none" stroke="#336fae" stroke-width="0.32"/>
<circle cx="193.39" cy="279.18" r="0.45" fill="none" stroke="#336fae" stroke-width="0.32"/>
<circle cx="189.05" cy="296.96" r="0.45" fill="none" stroke="#336fae" stroke-width="0.32"/>
<circle cx="192.73" cy="302.47" r="0.45" fill="none" stroke="#336fae" stroke-width="0.32"/>
<circle cx="197.07" cy="279.68" r="0.45" fill="none" stroke="#336fae" stroke-width="0.32"/>
<circle cx="196.36" cy="295.21" r="0.45" fill="none" stroke="#336fae" stroke-width="0.32"/>
<circle cx="190.61" cy="285.75" r="0.45" fill="none" stroke="#336fae" stroke-width="0.32"/>
<circle cx="194.56" cy="294.41" r="0.45" fill="none" stroke="#336fae" stroke-width="0.32"/>
<circle cx="192.93" cy="305.56" r="0.45" fill="none" stroke="#336fae" stroke-width="0.32"/>
<circle cx="194.39" cy="300.89" r="0.45" fill="none" stroke="#336fae" stroke-width="0.32"/>
<circle cx="181.03" cy="304.91" r="0.45" fill="none" stroke="#336fae" stroke-width="0.32"/>
<circle cx="192.92" cy="297.66" r="0.45" fill="none" stroke="#336fae" stroke-width="0.32"/>
<circle cx="189.09" cy="285.44" r="0.45" fill="none" stroke="#336fae" stroke-width="0.32"/>
<circle cx="193.21" cy="297.01" r="0.45" fill="none" stroke="#336fae" stroke-width="0.32"/>
<circle cx="195.71" cy="285.10" r="0.45" fill="none" stroke="#336fae" stroke-width="0.32"/>
<circle cx="197.33" cy="280.38" r="0.45" fill="none" stroke="#336fae" stroke-width="0.32"/>
<circle cx="194.34" cy="288.27" r="0.45" fill="none" stroke="#336fae" stroke-width="0.32"/>
<circle cx="173.91" cy="295.07" r="0.45" fill="none" stroke="#336fae" stroke-width="0.32"/>
<circle cx="194.15" cy="303.06" r="0.45" fill="none" stroke="#336fae" stroke-width="0.32"/>
<circle cx="191.84" cy="288.08" r="0.45" fill="none" stroke="#336fae" stroke-width="0.32"/>
<circle cx="189.26" cy="297.61" r="0.45" fill="none" stroke="#336fae" stroke-width="0.32"/>
<circle cx="187.63" cy="293.33" r="0.45" fill="none" stroke="#336fae" stroke-width="0.32"/>
<circle cx="195.17" cy="294.22" r="0.45" fill="none" stroke="#336fae" stroke-width="0.32"/>
<circle cx="196.88" cy="302.07" r="0.45" fill="none" stroke="#336fae" stroke-width="0.32"/>
<circle cx="197.12" cy="304.35" r="0.45" fill="none" stroke="#336fae" stroke-width="0.32"/>
<circle cx="197.16" cy="264.86" r="0.45" fill="none" stroke="#336fae" stroke-width="0.32"/>
<circle cx="196.66" cy="295.62" r="0.45" fill="none" stroke="#336fae" stroke-width="0.32"/>
<circle cx="196.18" cy="268.47" r="0.45" fill="none" stroke="#336fae" stroke-width="0.32"/>
<circle cx="186.38" cy="303.65" r="0.45" fill="none" stroke="#336fae" stroke-width="0.32"/>
<circle cx="184.14" cy="284.12" r="0.45" fill="none" stroke="#336fae" stroke-width="0.32"/>
<circle cx="194.21" cy="303.01" r="0.45" fill="none" stroke="#336fae" stroke-width="0.32"/>
<circle cx="195.78" cy="293.88" r="0.45" fill="none" stroke="#336fae" stroke-width="0.32"/>
<circle cx="191.04" cy="296.52" r="0.45" fill="none" stroke="#336fae" stroke-width="0.32"/>
<circle cx="189.77" cy="290.45" r="0.45" fill="none" stroke="#336fae" stroke-width="0.32"/>
<circle cx="195.92" cy="290.48" r="0.45" fill="none" stroke="#336fae" stroke-width="0.32"/>
<circle cx="194.92" cy="290.27" r="0.45" fill="none" stroke="#336fae" stroke-width="0.32"/>
<circle cx="197.27" cy="303.75" r="0.45" fill="none" stroke="#336fae" stroke-width="0.32"/>
<circle cx="195.16" cy="295.07" r="0.45" fill="none" stroke="#336fae" stroke-width="0.32"/>
<circle cx="193.06" cy="304.71" r="0.45" fill="none" stroke="#336fae" stroke-width="0.32"/>
<circle cx="195.14" cy="299.89" r="0.45" fill="none" stroke="#336fae" stroke-width="0.32"/>
<circle cx="193.32" cy="296.59" r="0.45" fill="none" stroke="#336fae" stroke-width="0.32"/>
<circle cx="173.83" cy="297.48" r="0.45" fill="none" stroke="#336fae" stroke-width="0.32"/>
<circle cx="196.38" cy="279.88" r="0.45" fill="none" stroke="#336fae" stroke-width="0.32"/>
<circle cx="196.14" cy="283.14" r="0.45" fill="none" stroke="#336fae" stroke-width="0.32"/>
<circle cx="197.27" cy="275.33" r="0.45" fill="none" stroke="#336fae" stroke-width="0.32"/>
<circle cx="181.30" cy="301.58" r="0.45" fill="none" stroke="#336fae" stroke-width="0.32"/>
<circle cx="191.42" cy="293.86" r="0.45" fill="none" stroke="#336fae" stroke-width="0.32"/>
<circle cx="196.59" cy="303.28" r="0.45" fill="none" stroke="#336fae" stroke-width="0.32"/>
<circle cx="197.29" cy="270.41" r="0.45" fill="none" stroke="#336fae" stroke-width="0.32"/>
<circle cx="193.85" cy="303.67" r="0.45" fill="none" stroke="#336fae" stroke-width="0.32"/>
<circle cx="192.98" cy="286.95" r="0.45" fill="none" stroke="#336fae" stroke-width="0.32"/>
<circle cx="194.98" cy="234.71" r="0.45" fill="none" stroke="#336fae" stroke-width="0.32"/>
<circle cx="183.61" cy="299.46" r="0.45" fill="none" stroke="#336fae" stroke-width="0.32"/>
<circle cx="197.08" cy="301.60" r="0.45" fill="none" stroke="#336fae" stroke-width="0.32"/>
<circle cx="193.99" cy="270.48" r="0.45" fill="none" stroke="#336fae" stroke-width="0.32"/>
<circle cx="194.20" cy="293.90" r="0.45" fill="none" stroke="#336fae" stroke-width="0.32"/>
<circle cx="195.86" cy="303.29" r="0.45" fill="none" stroke="#336fae" stroke-width="0.32"/>
<circle cx="196.76" cy="305.03" r="0.45" fill="none" stroke="#336fae" stroke-width="0.32"/>
<circle cx="184.79" cy="298.61" r="0.45" fill="none" stroke="#336fae" stroke-width="0.32"/>
<circle cx="195.72" cy="276.13" r="0.45" fill="none" stroke="#336fae" stroke-width="0.32"/>
<circle cx="194.36" cy="293.46" r="0.45" fill="none" stroke="#336fae" stroke-width="0.32"/>
<circle cx="192.22" cy="289.30" r="0.45" fill="none" stroke="#336fae" stroke-width="0.32"/>
<circle cx="194.41" cy="259.62" r="0.45" fill="none" stroke="#336fae" stroke-width="0.32"/>
<circle cx="193.11" cy="293.31" r="0.45" fill="none" stroke="#336fae" stroke-width="0.32"/>
<circle cx="193.38" cy="303.76" r="0.45" fill="none" stroke="#336fae" stroke-width="0.32"/>
<circle cx="196.45" cy="299.26" r="0.45" fill="none" stroke="#336fae" stroke-width="0.32"/>
<circle cx="194.09" cy="303.32" r="0.45" fill="none" stroke="#336fae" stroke-width="0.32"/>
<circle cx="191.24" cy="303.67" r="0.45" fill="none" stroke="#336fae" stroke-width="0.32"/>
<circle cx="171.06" cy="301.42" r="0.45" fill="none" stroke="#336fae" stroke-width="0.32"/>
<circle cx="193.93" cy="293.10" r="0.45" fill="none" stroke="#336fae" stroke-width="0.32"/>
<circle cx="194.57" cy="299.53" r="0.45" fill="none" stroke="#336fae" stroke-width="0.32"/>
<circle cx="176.83" cy="303.34" r="0.45" fill="none" stroke="#336fae" stroke-width="0.32"/>
<circle cx="194.55" cy="278.81" r="0.45" fill="none" stroke="#336fae" stroke-width="0.32"/>
<circle cx="196.63" cy="294.23" r="0.45" fill="none" stroke="#336fae" stroke-width="0.32"/>
<circle cx="196.42" cy="297.20" r="0.45" fill="none" stroke="#336fae" stroke-width="0.32"/>
<circle cx="192.11" cy="301.48" r="0.45" fill="none" stroke="#336fae" stroke-width="0.32"/>
<circle cx="195.73" cy="303.74" r="0.45" fill="none" stroke="#336fae" stroke-width="0.32"/>
<circle cx="194.40" cy="291.35" r="0.45" fill="none" stroke="#336fae" stroke-width="0.32"/>
<circle cx="196.86" cy="281.50" r="0.45" fill="none" stroke="#336fae" stroke-width="0.32"/>
<circle cx="179.42" cy="304.78" r="0.45" fill="none" stroke="#336fae" stroke-width="0.32"/>
<circle cx="191.36" cy="295.46" r="0.45" fill="none" stroke="#336fae" stroke-width="0.32"/>
<circle cx="196.55" cy="296.84" r="0.45" fill="none" stroke="#336fae" stroke-width="0.32"/>
<circle cx="196.31" cy="263.85" r="0.45" fill="none" stroke="#336fae" stroke-width="0.32"/>
<circle cx="196.96" cy="279.36" r="0.45" fill="none" stroke="#336fae" stroke-width="0.32"/>
<circle cx="192.55" cy="302.25" r="0.45" fill="none" stroke="#336fae" stroke-width="0.32"/>
<circle cx="191.12" cy="288.86" r="0.45" fill="none" stroke="#336fae" stroke-width="0.32"/>
<circle cx="197.14" cy="287.85" r="0.45" fill="none" stroke="#336fae" stroke-width="0.32"/>
<circle cx="196.38" cy="294.86" r="0.45" fill="none" stroke="#336fae" stroke-width="0.32"/>
<circle cx="190.66" cy="213.66" r="0.45" fill="none" stroke="#336fae" stroke-width="0.32"/>
<circle cx="195.62" cy="248.19" r="0.45" fill="none" stroke="#336fae" stroke-width="0.32"/>
<circle cx="191.70" cy="301.77" r="0.45" fill="none" stroke="#336fae" stroke-width="0.32"/>
<circle cx="196.69" cy="297.20" r="0.45" fill="none" stroke="#336fae" stroke-width="0.32"/>
<circle cx="191.05" cy="272.78" r="0.45" fill="none" stroke="#336fae" stroke-width="0.32"/>
<circle cx="197.19" cy="293.53" r="0.45" fill="none" stroke="#336fae" stroke-width="0.32"/>
<circle cx="197.37" cy="219.02" r="0.45" fill="none" stroke="#336fae" stroke-width="0.32"/>
<circle cx="196.91" cy="240.66" r="0.45" fill="none" stroke="#336fae" stroke-width="0.32"/>
<circle cx="196.66" cy="284.81" r="0.45" fill="none" stroke="#336fae" stroke-width="0.32"/>
<circle cx="189.26" cy="272.42" r="0.45" fill="none" stroke="#336fae" stroke-width="0.32"/>
<circle cx="194.94" cy="227.68" r="0.45" fill="none" stroke="#336fae" stroke-width="0.32"/>
<circle cx="196.78" cy="299.41" r="0.45" fill="none" stroke="#336fae" stroke-width="0.32"/>
<circle cx="192.34" cy="285.11" r="0.45" fill="none" stroke="#336fae" stroke-width="0.32"/>
<circle cx="197.32" cy="217.88" r="0.45" fill="none" stroke="#336fae" stroke-width="0.32"/>
<circle cx="187.09" cy="281.87" r="0.45" fill="none" stroke="#336fae" stroke-width="0.32"/>
<circle cx="197.13" cy="295.64" r="0.45" fill="none" stroke="#336fae" stroke-width="0.32"/>
<circle cx="190.36" cy="287.46" r="0.45" fill="none" stroke="#336fae" stroke-width="0.32"/>
<circle cx="193.31" cy="287.67" r="0.45" fill="none" stroke="#336fae" stroke-width="0.32"/>
<circle cx="193.97" cy="297.63" r="0.45" fill="none" stroke="#336fae" stroke-width="0.32"/>
<circle cx="188.89" cy="305.34" r="0.41" fill="none" stroke="#336fae" stroke-width="0.32"/>
<circle cx="196.14" cy="304.55" r="0.41" fill="none" stroke="#336fae" stroke-width="0.32"/>
<circle cx="162.77" cy="305.38" r="0.41" fill="none" stroke="#336fae" stroke-width="0.32"/>
<circle cx="170.98" cy="305.18" r="0.41" fill="none" stroke="#336fae" stroke-width="0.32"/>
<circle cx="189.22" cy="305.96" r="0.41" fill="none" stroke="#336fae" stroke-width="0.32"/>
<circle cx="188.41" cy="304.63" r="0.41" fill="none" stroke="#336fae" stroke-width="0.32"/>
<circle cx="196.46" cy="304.86" r="0.41" fill="none" stroke="#336fae" stroke-width="0.32"/>
<circle cx="196.24" cy="306.39" r="0.41" fill="none" stroke="#336fae" stroke-width="0.32"/>
<circle cx="196.05" cy="306.34" r="0.41" fill="none" stroke="#336fae" stroke-width="0.32"/>
<circle cx="193.34" cy="304.33" r="0.41" fill="none" stroke="#336fae" stroke-width="0.32"/>
<circle cx="186.27" cy="304.78" r="0.41" fill="none" stroke="#336fae" stroke-width="0.32"/>
<circle cx="186.17" cy="305.95" r="0.41" fill="none" stroke="#336fae" stroke-width="0.32"/>
<circle cx="191.12" cy="305.16" r="0.41" fill="none" stroke="#336fae" stroke-width="0.32"/>
<circle cx="195.36" cy="306.03" r="0.41" fill="none" stroke="#336fae" stroke-width="0.32"/>
<circle cx="191.59" cy="306.06" r="0.41" fill="none" stroke="#336fae" stroke-width="0.32"/>
<circle cx="178.73" cy="305.94" r="0.41" fill="none" stroke="#336fae" stroke-width="0.32"/>
<circle cx="196.58" cy="304.72" r="0.41" fill="none" stroke="#336fae" stroke-width="0.32"/>
<circle cx="193.23" cy="305.70" r="0.41" fill="none" stroke="#336fae" stroke-width="0.32"/>
<circle cx="196.83" cy="306.12" r="0.41" fill="none" stroke="#336fae" stroke-width="0.32"/>
<circle cx="189.47" cy="305.84" r="0.41" fill="none" stroke="#336fae" stroke-width="0.32"/>
<circle cx="188.61" cy="305.91" r="0.41" fill="none" stroke="#336fae" stroke-width="0.32"/>
<circle cx="195.58" cy="305.86" r="0.41" fill="none" stroke="#336fae" stroke-width="0.32"/>
<circle cx="194.23" cy="306.15" r="0.41" fill="none" stroke="#336fae" stroke-width="0.32"/>
<circle cx="185.04" cy="305.48" r="0.41" fill="none" stroke="#336fae" stroke-width="0.32"/>
<circle cx="195.99" cy="306.39" r="0.41" fill="none" stroke="#336fae" stroke-width="0.32"/>
<circle cx="185.56" cy="306.20" r="0.41" fill="none" stroke="#336fae" stroke-width="0.32"/>
<circle cx="193.01" cy="305.63" r="0.41" fill="none" stroke="#336fae" stroke-width="0.32"/>
<circle cx="186.77" cy="305.81" r="0.41" fill="none" stroke="#336fae" stroke-width="0.32"/>
<circle cx="196.93" cy="306.09" r="0.41" fill="none" stroke="#336fae" stroke-width="0.32"/>
<circle cx="177.66" cy="304.85" r="0.41" fill="none" stroke="#336fae" stroke-width="0.32"/>
<circle cx="190.05" cy="303.88" r="0.41" fill="none" stroke="#336fae" stroke-width="0.32"/>
<circle cx="189.08" cy="305.04" r="0.41" fill="none" stroke="#336fae" stroke-width="0.32"/>
<circle cx="196.49" cy="305.97" r="0.41" fill="none" stroke="#336fae" stroke-width="0.32"/>
<circle cx="177.75" cy="306.26" r="0.41" fill="none" stroke="#336fae" stroke-width="0.32"/>
<circle cx="196.18" cy="305.91" r="0.41" fill="none" stroke="#336fae" stroke-width="0.32"/>
<circle cx="193.23" cy="305.32" r="0.41" fill="none" stroke="#336fae" stroke-width="0.32"/>
<circle cx="189.79" cy="306.08" r="0.41" fill="none" stroke="#336fae" stroke-width="0.32"/>
<circle cx="179.62" cy="306.15" r="0.41" fill="none" stroke="#336fae" stroke-width="0.32"/>
<circle cx="192.90" cy="306.20" r="0.41" fill="none" stroke="#336fae" stroke-width="0.32"/>
<circle cx="170.00" cy="262.00" r="0.45" fill="none" stroke="#336fae" stroke-width="0.32"/>
<circle cx="171.00" cy="294.00" r="0.45" fill="none" stroke="#336fae" stroke-width="0.32"/>
<circle cx="174.00" cy="294.00" r="0.45" fill="none" stroke="#336fae" stroke-width="0.32"/>
<circle cx="180.00" cy="273.00" r="0.45" fill="none" stroke="#336fae" stroke-width="0.32"/>
<circle cx="181.00" cy="277.00" r="0.45" fill="none" stroke="#336fae" stroke-width="0.32"/>
<circle cx="167.00" cy="305.00" r="0.45" fill="none" stroke="#336fae" stroke-width="0.32"/>
<circle cx="165.00" cy="305.00" r="0.45" fill="none" stroke="#336fae" stroke-width="0.32"/>
<circle cx="216.46" cy="290.50" r="0.5" fill="#f0443c"/>
<circle cx="216.09" cy="298.63" r="0.5" fill="#f0443c"/>
<circle cx="217.31" cy="303.64" r="0.5" fill="#f0443c"/>
<circle cx="216.21" cy="299.65" r="0.5" fill="#f0443c"/>
<circle cx="217.10" cy="304.00" r="0.5" fill="#f0443c"/>
<circle cx="215.94" cy="304.47" r="0.5" fill="#f0443c"/>
<circle cx="215.90" cy="298.73" r="0.5" fill="#f0443c"/>
<circle cx="218.08" cy="291.19" r="0.5" fill="#f0443c"/>
<circle cx="220.70" cy="292.33" r="0.5" fill="#f0443c"/>
<circle cx="217.00" cy="303.80" r="0.5" fill="#f0443c"/>
<circle cx="215.95" cy="299.89" r="0.5" fill="#f0443c"/>
<circle cx="215.85" cy="284.15" r="0.5" fill="#f0443c"/>
<circle cx="216.70" cy="260.86" r="0.5" fill="#f0443c"/>
<circle cx="215.85" cy="259.71" r="0.5" fill="#f0443c"/>
<circle cx="219.30" cy="281.11" r="0.5" fill="#f0443c"/>
<circle cx="217.07" cy="289.20" r="0.5" fill="#f0443c"/>
<circle cx="216.93" cy="294.28" r="0.5" fill="#f0443c"/>
<circle cx="216.87" cy="284.65" r="0.5" fill="#f0443c"/>
<circle cx="216.77" cy="297.06" r="0.5" fill="#f0443c"/>
<circle cx="217.35" cy="294.89" r="0.5" fill="#f0443c"/>
<circle cx="216.99" cy="274.75" r="0.5" fill="#f0443c"/>
<circle cx="218.45" cy="301.39" r="0.5" fill="#f0443c"/>
<circle cx="218.73" cy="305.43" r="0.45" fill="#f0443c"/>
<circle cx="233.81" cy="306.29" r="0.45" fill="#f0443c"/>
<circle cx="216.25" cy="306.09" r="0.45" fill="#f0443c"/>
<circle cx="229.75" cy="306.00" r="0.45" fill="#f0443c"/>
<circle cx="217.57" cy="304.86" r="0.45" fill="#f0443c"/>
<circle cx="223.50" cy="305.79" r="0.45" fill="#f0443c"/>
<circle cx="218.53" cy="305.73" r="0.45" fill="#f0443c"/>
<circle cx="223.77" cy="305.93" r="0.45" fill="#f0443c"/>
<circle cx="217.70" cy="306.10" r="0.45" fill="#f0443c"/>
<circle cx="245.09" cy="305.73" r="0.45" fill="#f0443c"/>
<circle cx="225.59" cy="305.65" r="0.45" fill="#f0443c"/>
<circle cx="245.03" cy="304.74" r="0.45" fill="#f0443c"/>
<circle cx="215.86" cy="306.06" r="0.45" fill="#f0443c"/>
<circle cx="243.38" cy="306.24" r="0.45" fill="#f0443c"/>
<circle cx="236.32" cy="306.35" r="0.45" fill="#f0443c"/>
<circle cx="227.76" cy="305.13" r="0.45" fill="#f0443c"/>
<circle cx="224.23" cy="305.78" r="0.45" fill="#f0443c"/>
<circle cx="231.13" cy="305.77" r="0.45" fill="#f0443c"/>
<circle cx="232.56" cy="305.26" r="0.45" fill="#f0443c"/>
<circle cx="232.95" cy="306.36" r="0.45" fill="#f0443c"/>
<circle cx="239.66" cy="305.43" r="0.45" fill="#f0443c"/>
<circle cx="217.17" cy="306.18" r="0.45" fill="#f0443c"/>
<circle cx="218.01" cy="306.17" r="0.45" fill="#f0443c"/>
<circle cx="241.18" cy="306.22" r="0.45" fill="#f0443c"/>
<circle cx="216.86" cy="305.57" r="0.45" fill="#f0443c"/>
<circle cx="215.91" cy="305.66" r="0.45" fill="#f0443c"/>
<circle cx="224.07" cy="306.16" r="0.45" fill="#f0443c"/>
<circle cx="217.66" cy="305.65" r="0.45" fill="#f0443c"/>
<circle cx="216.13" cy="306.04" r="0.45" fill="#f0443c"/>
<circle cx="231.59" cy="306.28" r="0.45" fill="#f0443c"/>
<circle cx="230.41" cy="306.21" r="0.45" fill="#f0443c"/>
<circle cx="232.22" cy="305.40" r="0.45" fill="#f0443c"/>
<circle cx="218.23" cy="306.34" r="0.45" fill="#f0443c"/>
<circle cx="218.23" cy="304.58" r="0.45" fill="#f0443c"/>
<circle cx="225.34" cy="305.07" r="0.45" fill="#f0443c"/>
<circle cx="239.24" cy="306.01" r="0.45" fill="#f0443c"/>
<circle cx="235.29" cy="305.70" r="0.45" fill="#f0443c"/>
<circle cx="216.46" cy="305.69" r="0.45" fill="#f0443c"/>
<circle cx="228.14" cy="305.17" r="0.45" fill="#f0443c"/>
<circle cx="222.07" cy="305.85" r="0.45" fill="#f0443c"/>
<circle cx="216.84" cy="305.28" r="0.45" fill="#f0443c"/>
<circle cx="225.59" cy="305.39" r="0.45" fill="#f0443c"/>
<circle cx="231.55" cy="305.87" r="0.45" fill="#f0443c"/>
<circle cx="219.40" cy="306.20" r="0.45" fill="#f0443c"/>
<circle cx="225.21" cy="304.99" r="0.45" fill="#f0443c"/>
<circle cx="220.92" cy="305.09" r="0.45" fill="#f0443c"/>
<circle cx="215.80" cy="306.34" r="0.45" fill="#f0443c"/>
<circle cx="229.61" cy="305.46" r="0.45" fill="#f0443c"/>
<circle cx="237.41" cy="304.58" r="0.45" fill="#f0443c"/>
<circle cx="239.17" cy="305.30" r="0.45" fill="#f0443c"/>
<circle cx="226.16" cy="305.99" r="0.45" fill="#f0443c"/>
<circle cx="217.22" cy="305.85" r="0.45" fill="#f0443c"/>
<circle cx="215.82" cy="304.77" r="0.45" fill="#f0443c"/>
<circle cx="224.05" cy="305.99" r="0.45" fill="#f0443c"/>
<circle cx="229.11" cy="305.19" r="0.45" fill="#f0443c"/>
<circle cx="216.55" cy="306.22" r="0.45" fill="#f0443c"/>
<circle cx="234.90" cy="305.92" r="0.45" fill="#f0443c"/>
<circle cx="229.86" cy="305.45" r="0.45" fill="#f0443c"/>
<circle cx="238.84" cy="306.02" r="0.45" fill="#f0443c"/>
<circle cx="237.44" cy="306.07" r="0.45" fill="#f0443c"/>
<circle cx="222.02" cy="305.08" r="0.45" fill="#f0443c"/>
<circle cx="244.72" cy="305.84" r="0.45" fill="#f0443c"/>
<circle cx="216.60" cy="305.73" r="0.45" fill="#f0443c"/>
<circle cx="238.80" cy="306.20" r="0.45" fill="#f0443c"/>
<circle cx="222.66" cy="305.20" r="0.45" fill="#f0443c"/>
<circle cx="223.26" cy="305.64" r="0.45" fill="#f0443c"/>
<circle cx="235.27" cy="306.23" r="0.45" fill="#f0443c"/>
<circle cx="220.10" cy="306.04" r="0.45" fill="#f0443c"/>
<circle cx="217.03" cy="306.00" r="0.45" fill="#f0443c"/>
<circle cx="220.19" cy="305.70" r="0.45" fill="#f0443c"/>
<circle cx="233.43" cy="305.96" r="0.45" fill="#f0443c"/>
<circle cx="232.42" cy="306.36" r="0.45" fill="#f0443c"/>
<circle cx="218.63" cy="306.06" r="0.45" fill="#f0443c"/>
<circle cx="235.49" cy="305.12" r="0.45" fill="#f0443c"/>
<circle cx="228.46" cy="305.28" r="0.45" fill="#f0443c"/>
<circle cx="216.69" cy="305.31" r="0.45" fill="#f0443c"/>
<circle cx="228.35" cy="305.79" r="0.45" fill="#f0443c"/>
<circle cx="225.09" cy="306.24" r="0.45" fill="#f0443c"/>
<circle cx="231.83" cy="305.97" r="0.45" fill="#f0443c"/>
<circle cx="223.18" cy="305.84" r="0.45" fill="#f0443c"/>
<circle cx="240.97" cy="306.30" r="0.45" fill="#f0443c"/>
<circle cx="231.98" cy="305.92" r="0.45" fill="#f0443c"/>
<circle cx="239.02" cy="305.04" r="0.45" fill="#f0443c"/>
<circle cx="219.38" cy="305.39" r="0.45" fill="#f0443c"/>
<circle cx="219.93" cy="305.99" r="0.45" fill="#f0443c"/>
<circle cx="216.90" cy="305.94" r="0.45" fill="#f0443c"/>
<circle cx="217.21" cy="305.30" r="0.45" fill="#f0443c"/>
<circle cx="218.05" cy="305.40" r="0.45" fill="#f0443c"/>
<circle cx="234.40" cy="306.04" r="0.45" fill="#f0443c"/>
<circle cx="215.82" cy="305.35" r="0.45" fill="#f0443c"/>
<circle cx="216.00" cy="214.00" r="0.5" fill="#f0443c"/>
<circle cx="216.20" cy="232.00" r="0.5" fill="#f0443c"/>
<circle cx="217.00" cy="242.00" r="0.5" fill="#f0443c"/>
<circle cx="216.50" cy="296.00" r="0.5" fill="#f0443c"/>
<circle cx="217.50" cy="300.00" r="0.5" fill="#f0443c"/>
<circle cx="186.10" cy="207.20" r="0.50" fill="none" stroke="#336fae" stroke-width="0.32"/>
<circle cx="189.60" cy="207.20" r="0.50" fill="none" stroke="#336fae" stroke-width="0.32"/>
<circle cx="193.00" cy="207.20" r="0.50" fill="none" stroke="#336fae" stroke-width="0.32"/>
<circle cx="194.20" cy="207.20" r="0.50" fill="none" stroke="#336fae" stroke-width="0.32"/>
<text x="159.80" y="206.50" font-size="2.7" font-family='"Liberation Sans", sans-serif' text-anchor="start" fill="#222" font-weight="normal" textLength="5.4" lengthAdjust="spacingAndGlyphs">Down</text>
<text x="159.80" y="209.53" font-size="2.7" font-family='"Liberation Sans", sans-serif' text-anchor="start" fill="#222" font-weight="normal" textLength="13.6" lengthAdjust="spacingAndGlyphs">p &lt; 0.05: 1627</text>
<text x="159.80" y="212.56" font-size="2.7" font-family='"Liberation Sans", sans-serif' text-anchor="start" fill="#222" font-weight="normal" textLength="17.0" lengthAdjust="spacingAndGlyphs">log2FC &lt; -1: 2555</text>
<text x="159.80" y="215.59" font-size="2.7" font-family='"Liberation Sans", sans-serif' text-anchor="start" fill="#222" font-weight="normal" textLength="9.4" lengthAdjust="spacingAndGlyphs">Sig.: 978</text>
<text x="234.80" y="206.50" font-size="2.7" font-family='"Liberation Sans", sans-serif' text-anchor="start" fill="#222" font-weight="normal" textLength="3.3" lengthAdjust="spacingAndGlyphs">Up</text>
<text x="234.80" y="209.53" font-size="2.7" font-family='"Liberation Sans", sans-serif' text-anchor="start" fill="#222" font-weight="normal" textLength="13.8" lengthAdjust="spacingAndGlyphs">p &lt; 0.05: 1691</text>
<text x="234.80" y="212.56" font-size="2.7" font-family='"Liberation Sans", sans-serif' text-anchor="start" fill="#222" font-weight="normal" textLength="16.8" lengthAdjust="spacingAndGlyphs">log2FC &gt; 1: 2635</text>
<text x="234.80" y="215.59" font-size="2.7" font-family='"Liberation Sans", sans-serif' text-anchor="start" fill="#222" font-weight="normal" textLength="9.4" lengthAdjust="spacingAndGlyphs">Sig.: 719</text>
<line x1="154.4" y1="216.7" x2="155.4" y2="216.7" stroke="#888" stroke-width="0.35"/>
<text x="153.90" y="217.60" font-size="2.6" font-family='"Liberation Sans", sans-serif' text-anchor="end" fill="#444" font-weight="normal">200</text>
<line x1="154.4" y1="239.1" x2="155.4" y2="239.1" stroke="#888" stroke-width="0.35"/>
<text x="153.90" y="240.00" font-size="2.6" font-family='"Liberation Sans", sans-serif' text-anchor="end" fill="#444" font-weight="normal">150</text>
<line x1="154.4" y1="261.5" x2="155.4" y2="261.5" stroke="#888" stroke-width="0.35"/>
<text x="153.90" y="262.40" font-size="2.6" font-family='"Liberation Sans", sans-serif' text-anchor="end" fill="#444" font-weight="normal">100</text>
<line x1="154.4" y1="284" x2="155.4" y2="284" stroke="#888" stroke-width="0.35"/>
<text x="153.90" y="284.90" font-size="2.6" font-family='"Liberation Sans", sans-serif' text-anchor="end" fill="#444" font-weight="normal">50</text>
<line x1="154.4" y1="306.5" x2="155.4" y2="306.5" stroke="#888" stroke-width="0.35"/>
<text x="153.90" y="307.40" font-size="2.6" font-family='"Liberation Sans", sans-serif' text-anchor="end" fill="#444" font-weight="normal">0</text>
<line x1="160.2" y1="311.7" x2="160.2" y2="312.7" stroke="#888" stroke-width="0.35"/>
<text x="160.20" y="315.30" font-size="2.6" font-family='"Liberation Sans", sans-serif' text-anchor="middle" fill="#444" font-weight="normal">-10.0</text>
<line x1="182.8" y1="311.7" x2="182.8" y2="312.7" stroke="#888" stroke-width="0.35"/>
<text x="182.80" y="315.30" font-size="2.6" font-family='"Liberation Sans", sans-serif' text-anchor="middle" fill="#444" font-weight="normal">-5.0</text>
<line x1="205.4" y1="311.7" x2="205.4" y2="312.7" stroke="#888" stroke-width="0.35"/>
<text x="205.40" y="315.30" font-size="2.6" font-family='"Liberation Sans", sans-serif' text-anchor="middle" fill="#444" font-weight="normal">0.0</text>
<line x1="228.1" y1="311.7" x2="228.1" y2="312.7" stroke="#888" stroke-width="0.35"/>
<text x="228.10" y="315.30" font-size="2.6" font-family='"Liberation Sans", sans-serif' text-anchor="middle" fill="#444" font-weight="normal">5.0</text>
<line x1="251" y1="311.7" x2="251" y2="312.7" stroke="#888" stroke-width="0.35"/>
<text x="251.00" y="315.30" font-size="2.6" font-family='"Liberation Sans", sans-serif' text-anchor="middle" fill="#444" font-weight="normal">10.0</text>
<text x="205.95" y="318.40" font-size="3.3" font-family='"Liberation Sans", sans-serif' text-anchor="middle" fill="#222" font-weight="normal">log<tspan font-size="2.1" dy="0.7">2</tspan><tspan dy="-0.7"> FoldChange</tspan></text>
<text x="148.00" y="256.35" font-size="3.2" font-family='"Liberation Sans", sans-serif' text-anchor="middle" fill="#222" font-weight="normal" transform="rotate(-90 148.0 256.35)">-log<tspan font-size="2.1" dy="0.7">10</tspan><tspan dy="-0.7"> p-value</tspan></text>
<circle cx="262.50" cy="251.30" r="0.55" fill="#f0443c"/>
<text x="266.30" y="252.20" font-size="2.6" font-family='"Liberation Sans", sans-serif' text-anchor="start" fill="#444" font-weight="normal">Significant Up</text>
<circle cx="262.50" cy="254.83" r="0.55" fill="#336fae"/>
<text x="266.30" y="255.73" font-size="2.6" font-family='"Liberation Sans", sans-serif' text-anchor="start" fill="#444" font-weight="normal">Significant Down</text>
<circle cx="262.50" cy="258.36" r="0.55" fill="#f7b4c2"/>
<text x="266.30" y="259.26" font-size="2.6" font-family='"Liberation Sans", sans-serif' text-anchor="start" fill="#444" font-weight="normal">Up</text>
<circle cx="262.50" cy="261.89" r="0.55" fill="#7cc0f0"/>
<text x="266.30" y="262.79" font-size="2.6" font-family='"Liberation Sans", sans-serif' text-anchor="start" fill="#444" font-weight="normal">Down</text>
<circle cx="262.50" cy="265.42" r="0.55" fill="#cccccc"/>
<text x="266.30" y="266.32" font-size="2.6" font-family='"Liberation Sans", sans-serif' text-anchor="start" fill="#444" font-weight="normal">Non-significant</text>
<text x="0" y="0" font-size="16.6" font-family='"Liberation Sans", sans-serif' fill="#000" stroke="#000" stroke-width="0.5" transform="translate(293.10 197.50) scale(0.83 1)">F</text>
<text x="349.35" y="199.50" font-size="3.6" font-family='"Liberation Sans", sans-serif' text-anchor="middle" fill="#1a1a1a" font-weight="normal" textLength="61" lengthAdjust="spacingAndGlyphs">OE_ADRB3/Ctrl p-value&lt;0.05 &amp;&amp; |log2 FC|&gt;1</text>
<rect x="299.0" y="202.4" width="100.69999999999999" height="109.29999999999998" fill="none" stroke="#7a7a7a" stroke-width="0.95"/>
<line x1="341.2" y1="202.9" x2="341.2" y2="306.4" stroke="#d8d8d8" stroke-width="0.35"/>
<line x1="358.0" y1="202.9" x2="358.0" y2="306.4" stroke="#d8d8d8" stroke-width="0.35"/>
<line x1="299.5" y1="306.79999999999995" x2="399.2" y2="306.79999999999995" stroke="#e2e2e2" stroke-width="0.4"/>
<path d="M349.20 306.70 L338.20 306.70 L339.70 286.20 L341.50 266.00 L342.53 270.04 L343.77 274.08 L344.59 278.12 L345.48 282.16 L345.67 286.20 L346.40 290.24 L347.01 294.28 L347.72 298.32 L348.76 302.36 L348.90 306.40 Z" fill="#7cc0f0" opacity="0.78"/>
<path d="M350.00 306.70 L359.00 306.70 L358.50 299.20 L357.70 292.00 L356.74 293.44 L355.35 294.88 L354.60 296.32 L353.91 297.76 L352.90 299.20 L352.29 300.64 L351.80 302.08 L351.21 303.52 L350.92 304.96 L350.39 306.40 Z" fill="#f7b4c2" opacity="0.72"/>
<circle cx="342.75" cy="291.28" r="0.45" fill="#7cc0f0"/>
<circle cx="344.55" cy="303.39" r="0.45" fill="#7cc0f0"/>
<circle cx="341.27" cy="290.48" r="0.45" fill="#7cc0f0"/>
<circle cx="342.03" cy="280.47" r="0.45" fill="#7cc0f0"/>
<circle cx="343.42" cy="279.21" r="0.45" fill="#7cc0f0"/>
<circle cx="341.96" cy="270.55" r="0.45" fill="#7cc0f0"/>
<circle cx="345.83" cy="289.45" r="0.45" fill="#7cc0f0"/>
<circle cx="342.49" cy="273.83" r="0.45" fill="#7cc0f0"/>
<circle cx="345.10" cy="304.58" r="0.45" fill="#7cc0f0"/>
<circle cx="341.43" cy="263.16" r="0.45" fill="#7cc0f0"/>
<circle cx="342.62" cy="284.74" r="0.45" fill="#7cc0f0"/>
<circle cx="343.99" cy="297.17" r="0.45" fill="#7cc0f0"/>
<circle cx="347.35" cy="302.07" r="0.45" fill="#7cc0f0"/>
<circle cx="346.21" cy="296.18" r="0.45" fill="#7cc0f0"/>
<circle cx="341.95" cy="272.49" r="0.45" fill="#7cc0f0"/>
<circle cx="347.01" cy="303.34" r="0.45" fill="#7cc0f0"/>
<circle cx="342.89" cy="284.29" r="0.45" fill="#7cc0f0"/>
<circle cx="341.76" cy="281.37" r="0.45" fill="#7cc0f0"/>
<circle cx="342.91" cy="298.47" r="0.45" fill="#7cc0f0"/>
<circle cx="342.59" cy="280.56" r="0.45" fill="#7cc0f0"/>
<circle cx="341.82" cy="288.82" r="0.45" fill="#7cc0f0"/>
<circle cx="343.92" cy="292.67" r="0.45" fill="#7cc0f0"/>
<circle cx="342.77" cy="304.91" r="0.45" fill="#7cc0f0"/>
<circle cx="343.04" cy="290.18" r="0.45" fill="#7cc0f0"/>
<circle cx="343.48" cy="277.51" r="0.45" fill="#7cc0f0"/>
<circle cx="343.31" cy="292.07" r="0.45" fill="#7cc0f0"/>
<circle cx="341.47" cy="296.36" r="0.45" fill="#7cc0f0"/>
<circle cx="341.24" cy="255.72" r="0.45" fill="#7cc0f0"/>
<circle cx="344.62" cy="291.76" r="0.45" fill="#7cc0f0"/>
<circle cx="341.25" cy="266.60" r="0.45" fill="#7cc0f0"/>
<circle cx="341.59" cy="268.11" r="0.45" fill="#7cc0f0"/>
<circle cx="344.08" cy="283.26" r="0.45" fill="#7cc0f0"/>
<circle cx="343.36" cy="293.74" r="0.45" fill="#7cc0f0"/>
<circle cx="341.41" cy="264.72" r="0.45" fill="#7cc0f0"/>
<circle cx="341.43" cy="267.80" r="0.45" fill="#7cc0f0"/>
<circle cx="341.42" cy="261.49" r="0.45" fill="#7cc0f0"/>
<circle cx="345.19" cy="299.06" r="0.45" fill="#7cc0f0"/>
<circle cx="342.49" cy="276.49" r="0.45" fill="#7cc0f0"/>
<circle cx="342.45" cy="283.67" r="0.45" fill="#7cc0f0"/>
<circle cx="341.98" cy="278.69" r="0.45" fill="#7cc0f0"/>
<circle cx="341.74" cy="289.14" r="0.45" fill="#7cc0f0"/>
<circle cx="341.74" cy="277.42" r="0.45" fill="#7cc0f0"/>
<circle cx="342.52" cy="277.45" r="0.45" fill="#7cc0f0"/>
<circle cx="344.25" cy="292.97" r="0.45" fill="#7cc0f0"/>
<circle cx="342.43" cy="283.20" r="0.45" fill="#7cc0f0"/>
<circle cx="341.87" cy="300.62" r="0.45" fill="#7cc0f0"/>
<circle cx="341.24" cy="228.34" r="0.45" fill="#7cc0f0"/>
<circle cx="343.64" cy="304.94" r="0.45" fill="#7cc0f0"/>
<circle cx="341.79" cy="302.84" r="0.45" fill="#7cc0f0"/>
<circle cx="342.24" cy="276.64" r="0.45" fill="#7cc0f0"/>
<circle cx="341.21" cy="278.19" r="0.45" fill="#7cc0f0"/>
<circle cx="341.83" cy="275.09" r="0.45" fill="#7cc0f0"/>
<circle cx="341.36" cy="247.63" r="0.45" fill="#7cc0f0"/>
<circle cx="345.06" cy="305.13" r="0.45" fill="#7cc0f0"/>
<circle cx="341.41" cy="297.37" r="0.45" fill="#7cc0f0"/>
<circle cx="343.71" cy="290.10" r="0.45" fill="#7cc0f0"/>
<circle cx="341.72" cy="275.63" r="0.45" fill="#7cc0f0"/>
<circle cx="344.18" cy="286.98" r="0.45" fill="#7cc0f0"/>
<circle cx="344.91" cy="296.37" r="0.45" fill="#7cc0f0"/>
<circle cx="343.15" cy="292.44" r="0.45" fill="#7cc0f0"/>
<circle cx="342.88" cy="305.74" r="0.45" fill="#7cc0f0"/>
<circle cx="342.81" cy="288.12" r="0.45" fill="#7cc0f0"/>
<circle cx="341.54" cy="284.67" r="0.45" fill="#7cc0f0"/>
<circle cx="346.73" cy="301.09" r="0.45" fill="#7cc0f0"/>
<circle cx="347.44" cy="304.77" r="0.45" fill="#7cc0f0"/>
<circle cx="342.75" cy="305.22" r="0.45" fill="#7cc0f0"/>
<circle cx="342.05" cy="278.35" r="0.45" fill="#7cc0f0"/>
<circle cx="343.43" cy="302.99" r="0.45" fill="#7cc0f0"/>
<circle cx="346.47" cy="295.33" r="0.45" fill="#7cc0f0"/>
<circle cx="342.03" cy="301.61" r="0.45" fill="#7cc0f0"/>
<circle cx="357.60" cy="290.96" r="0.45" fill="#f7b4c2"/>
<circle cx="356.43" cy="290.32" r="0.45" fill="#f7b4c2"/>
<circle cx="355.72" cy="294.32" r="0.45" fill="#f7b4c2"/>
<circle cx="357.83" cy="299.96" r="0.45" fill="#f7b4c2"/>
<circle cx="357.97" cy="296.62" r="0.45" fill="#f7b4c2"/>
<circle cx="357.50" cy="301.41" r="0.45" fill="#f7b4c2"/>
<circle cx="357.85" cy="294.02" r="0.45" fill="#f7b4c2"/>
<circle cx="356.21" cy="293.30" r="0.45" fill="#f7b4c2"/>
<circle cx="356.14" cy="301.74" r="0.45" fill="#f7b4c2"/>
<circle cx="355.57" cy="291.22" r="0.45" fill="#f7b4c2"/>
<circle cx="357.66" cy="277.47" r="0.45" fill="#f7b4c2"/>
<circle cx="357.43" cy="290.65" r="0.45" fill="#f7b4c2"/>
<circle cx="356.42" cy="288.39" r="0.45" fill="#f7b4c2"/>
<circle cx="357.64" cy="301.27" r="0.45" fill="#f7b4c2"/>
<circle cx="356.87" cy="295.97" r="0.45" fill="#f7b4c2"/>
<circle cx="356.63" cy="300.28" r="0.45" fill="#f7b4c2"/>
<circle cx="355.08" cy="296.26" r="0.45" fill="#f7b4c2"/>
<circle cx="357.51" cy="304.76" r="0.45" fill="#f7b4c2"/>
<circle cx="357.90" cy="303.35" r="0.45" fill="#f7b4c2"/>
<circle cx="357.43" cy="305.51" r="0.45" fill="#f7b4c2"/>
<circle cx="355.65" cy="300.91" r="0.45" fill="#f7b4c2"/>
<circle cx="357.99" cy="282.82" r="0.45" fill="#f7b4c2"/>
<circle cx="357.23" cy="290.32" r="0.45" fill="#f7b4c2"/>
<circle cx="356.35" cy="296.14" r="0.45" fill="#f7b4c2"/>
<circle cx="356.03" cy="300.88" r="0.45" fill="#f7b4c2"/>
<circle cx="357.35" cy="297.80" r="0.45" fill="#f7b4c2"/>
<circle cx="357.97" cy="291.77" r="0.45" fill="#f7b4c2"/>
<circle cx="355.91" cy="303.87" r="0.45" fill="#f7b4c2"/>
<circle cx="357.97" cy="305.34" r="0.45" fill="#f7b4c2"/>
<circle cx="357.83" cy="296.53" r="0.45" fill="#f7b4c2"/>
<circle cx="323.09" cy="301.35" r="0.45" fill="none" stroke="#336fae" stroke-width="0.32"/>
<circle cx="328.27" cy="302.67" r="0.45" fill="none" stroke="#336fae" stroke-width="0.32"/>
<circle cx="338.78" cy="284.63" r="0.45" fill="none" stroke="#336fae" stroke-width="0.32"/>
<circle cx="338.50" cy="250.72" r="0.45" fill="none" stroke="#336fae" stroke-width="0.32"/>
<circle cx="339.00" cy="298.51" r="0.45" fill="none" stroke="#336fae" stroke-width="0.32"/>
<circle cx="326.81" cy="298.99" r="0.45" fill="none" stroke="#336fae" stroke-width="0.32"/>
<circle cx="339.56" cy="297.32" r="0.45" fill="none" stroke="#336fae" stroke-width="0.32"/>
<circle cx="336.74" cy="300.61" r="0.45" fill="none" stroke="#336fae" stroke-width="0.32"/>
<circle cx="335.07" cy="303.47" r="0.45" fill="none" stroke="#336fae" stroke-width="0.32"/>
<circle cx="328.68" cy="305.42" r="0.45" fill="none" stroke="#336fae" stroke-width="0.32"/>
<circle cx="340.07" cy="303.63" r="0.45" fill="none" stroke="#336fae" stroke-width="0.32"/>
<circle cx="338.76" cy="296.00" r="0.45" fill="none" stroke="#336fae" stroke-width="0.32"/>
<circle cx="338.52" cy="281.94" r="0.45" fill="none" stroke="#336fae" stroke-width="0.32"/>
<circle cx="330.34" cy="297.68" r="0.45" fill="none" stroke="#336fae" stroke-width="0.32"/>
<circle cx="331.66" cy="303.14" r="0.45" fill="none" stroke="#336fae" stroke-width="0.32"/>
<circle cx="337.85" cy="294.26" r="0.45" fill="none" stroke="#336fae" stroke-width="0.32"/>
<circle cx="340.76" cy="270.50" r="0.45" fill="none" stroke="#336fae" stroke-width="0.32"/>
<circle cx="340.24" cy="283.95" r="0.45" fill="none" stroke="#336fae" stroke-width="0.32"/>
<circle cx="340.15" cy="285.62" r="0.45" fill="none" stroke="#336fae" stroke-width="0.32"/>
<circle cx="335.94" cy="305.19" r="0.45" fill="none" stroke="#336fae" stroke-width="0.32"/>
<circle cx="340.04" cy="277.12" r="0.45" fill="none" stroke="#336fae" stroke-width="0.32"/>
<circle cx="335.24" cy="298.45" r="0.45" fill="none" stroke="#336fae" stroke-width="0.32"/>
<circle cx="335.80" cy="302.72" r="0.45" fill="none" stroke="#336fae" stroke-width="0.32"/>
<circle cx="336.57" cy="305.69" r="0.45" fill="none" stroke="#336fae" stroke-width="0.32"/>
<circle cx="338.89" cy="290.08" r="0.45" fill="none" stroke="#336fae" stroke-width="0.32"/>
<circle cx="340.45" cy="303.06" r="0.45" fill="none" stroke="#336fae" stroke-width="0.32"/>
<circle cx="338.02" cy="292.51" r="0.45" fill="none" stroke="#336fae" stroke-width="0.32"/>
<circle cx="337.00" cy="278.75" r="0.45" fill="none" stroke="#336fae" stroke-width="0.32"/>
<circle cx="323.82" cy="304.63" r="0.45" fill="none" stroke="#336fae" stroke-width="0.32"/>
<circle cx="336.71" cy="276.19" r="0.45" fill="none" stroke="#336fae" stroke-width="0.32"/>
<circle cx="336.23" cy="286.18" r="0.45" fill="none" stroke="#336fae" stroke-width="0.32"/>
<circle cx="335.44" cy="291.74" r="0.45" fill="none" stroke="#336fae" stroke-width="0.32"/>
<circle cx="339.15" cy="295.95" r="0.45" fill="none" stroke="#336fae" stroke-width="0.32"/>
<circle cx="331.93" cy="304.22" r="0.45" fill="none" stroke="#336fae" stroke-width="0.32"/>
<circle cx="340.48" cy="295.80" r="0.45" fill="none" stroke="#336fae" stroke-width="0.32"/>
<circle cx="335.80" cy="294.49" r="0.45" fill="none" stroke="#336fae" stroke-width="0.32"/>
<circle cx="332.07" cy="297.90" r="0.45" fill="none" stroke="#336fae" stroke-width="0.32"/>
<circle cx="339.14" cy="282.76" r="0.45" fill="none" stroke="#336fae" stroke-width="0.32"/>
<circle cx="337.93" cy="287.22" r="0.45" fill="none" stroke="#336fae" stroke-width="0.32"/>
<circle cx="337.80" cy="296.45" r="0.45" fill="none" stroke="#336fae" stroke-width="0.32"/>
<circle cx="339.40" cy="276.01" r="0.45" fill="none" stroke="#336fae" stroke-width="0.32"/>
<circle cx="340.06" cy="272.24" r="0.45" fill="none" stroke="#336fae" stroke-width="0.32"/>
<circle cx="328.24" cy="293.50" r="0.45" fill="none" stroke="#336fae" stroke-width="0.32"/>
<circle cx="338.40" cy="293.11" r="0.45" fill="none" stroke="#336fae" stroke-width="0.32"/>
<circle cx="336.27" cy="304.91" r="0.45" fill="none" stroke="#336fae" stroke-width="0.32"/>
<circle cx="330.43" cy="299.90" r="0.45" fill="none" stroke="#336fae" stroke-width="0.32"/>
<circle cx="321.87" cy="288.89" r="0.45" fill="none" stroke="#336fae" stroke-width="0.32"/>
<circle cx="337.60" cy="299.26" r="0.45" fill="none" stroke="#336fae" stroke-width="0.32"/>
<circle cx="332.97" cy="296.65" r="0.45" fill="none" stroke="#336fae" stroke-width="0.32"/>
<circle cx="339.11" cy="304.88" r="0.45" fill="none" stroke="#336fae" stroke-width="0.32"/>
<circle cx="338.12" cy="304.06" r="0.45" fill="none" stroke="#336fae" stroke-width="0.32"/>
<circle cx="318.45" cy="301.87" r="0.45" fill="none" stroke="#336fae" stroke-width="0.32"/>
<circle cx="322.66" cy="303.23" r="0.45" fill="none" stroke="#336fae" stroke-width="0.32"/>
<circle cx="339.32" cy="301.95" r="0.45" fill="none" stroke="#336fae" stroke-width="0.32"/>
<circle cx="340.65" cy="265.43" r="0.45" fill="none" stroke="#336fae" stroke-width="0.32"/>
<circle cx="339.85" cy="304.48" r="0.45" fill="none" stroke="#336fae" stroke-width="0.32"/>
<circle cx="337.39" cy="305.04" r="0.45" fill="none" stroke="#336fae" stroke-width="0.32"/>
<circle cx="339.64" cy="303.17" r="0.45" fill="none" stroke="#336fae" stroke-width="0.32"/>
<circle cx="332.33" cy="305.63" r="0.45" fill="none" stroke="#336fae" stroke-width="0.32"/>
<circle cx="338.95" cy="305.24" r="0.45" fill="none" stroke="#336fae" stroke-width="0.32"/>
<circle cx="328.66" cy="296.61" r="0.45" fill="none" stroke="#336fae" stroke-width="0.32"/>
<circle cx="334.36" cy="293.93" r="0.45" fill="none" stroke="#336fae" stroke-width="0.32"/>
<circle cx="332.83" cy="292.51" r="0.45" fill="none" stroke="#336fae" stroke-width="0.32"/>
<circle cx="340.17" cy="284.66" r="0.45" fill="none" stroke="#336fae" stroke-width="0.32"/>
<circle cx="334.01" cy="305.19" r="0.45" fill="none" stroke="#336fae" stroke-width="0.32"/>
<circle cx="336.51" cy="297.74" r="0.45" fill="none" stroke="#336fae" stroke-width="0.32"/>
<circle cx="339.95" cy="289.02" r="0.45" fill="none" stroke="#336fae" stroke-width="0.32"/>
<circle cx="338.04" cy="292.30" r="0.45" fill="none" stroke="#336fae" stroke-width="0.32"/>
<circle cx="339.08" cy="299.76" r="0.45" fill="none" stroke="#336fae" stroke-width="0.32"/>
<circle cx="335.16" cy="302.16" r="0.45" fill="none" stroke="#336fae" stroke-width="0.32"/>
<circle cx="327.30" cy="296.90" r="0.45" fill="none" stroke="#336fae" stroke-width="0.32"/>
<circle cx="332.59" cy="302.18" r="0.45" fill="none" stroke="#336fae" stroke-width="0.32"/>
<circle cx="333.49" cy="304.68" r="0.45" fill="none" stroke="#336fae" stroke-width="0.32"/>
<circle cx="327.56" cy="303.87" r="0.45" fill="none" stroke="#336fae" stroke-width="0.32"/>
<circle cx="340.33" cy="268.78" r="0.45" fill="none" stroke="#336fae" stroke-width="0.32"/>
<circle cx="339.75" cy="287.60" r="0.45" fill="none" stroke="#336fae" stroke-width="0.32"/>
<circle cx="340.10" cy="301.78" r="0.45" fill="none" stroke="#336fae" stroke-width="0.32"/>
<circle cx="340.13" cy="299.38" r="0.45" fill="none" stroke="#336fae" stroke-width="0.32"/>
<circle cx="336.54" cy="292.37" r="0.45" fill="none" stroke="#336fae" stroke-width="0.32"/>
<circle cx="333.19" cy="299.79" r="0.45" fill="none" stroke="#336fae" stroke-width="0.32"/>
<circle cx="338.13" cy="302.87" r="0.45" fill="none" stroke="#336fae" stroke-width="0.32"/>
<circle cx="340.79" cy="300.82" r="0.45" fill="none" stroke="#336fae" stroke-width="0.32"/>
<circle cx="340.50" cy="281.78" r="0.45" fill="none" stroke="#336fae" stroke-width="0.32"/>
<circle cx="329.75" cy="304.62" r="0.45" fill="none" stroke="#336fae" stroke-width="0.32"/>
<circle cx="338.35" cy="287.00" r="0.45" fill="none" stroke="#336fae" stroke-width="0.32"/>
<circle cx="339.88" cy="299.77" r="0.45" fill="none" stroke="#336fae" stroke-width="0.32"/>
<circle cx="335.58" cy="305.79" r="0.45" fill="none" stroke="#336fae" stroke-width="0.32"/>
<circle cx="339.72" cy="302.72" r="0.45" fill="none" stroke="#336fae" stroke-width="0.32"/>
<circle cx="340.74" cy="279.78" r="0.45" fill="none" stroke="#336fae" stroke-width="0.32"/>
<circle cx="332.01" cy="300.84" r="0.45" fill="none" stroke="#336fae" stroke-width="0.32"/>
<circle cx="340.27" cy="290.66" r="0.45" fill="none" stroke="#336fae" stroke-width="0.32"/>
<circle cx="336.88" cy="290.86" r="0.45" fill="none" stroke="#336fae" stroke-width="0.32"/>
<circle cx="325.40" cy="294.84" r="0.45" fill="none" stroke="#336fae" stroke-width="0.32"/>
<circle cx="336.87" cy="288.14" r="0.45" fill="none" stroke="#336fae" stroke-width="0.32"/>
<circle cx="337.73" cy="289.61" r="0.45" fill="none" stroke="#336fae" stroke-width="0.32"/>
<circle cx="331.11" cy="296.96" r="0.45" fill="none" stroke="#336fae" stroke-width="0.32"/>
<circle cx="338.24" cy="295.15" r="0.45" fill="none" stroke="#336fae" stroke-width="0.32"/>
<circle cx="329.79" cy="305.57" r="0.45" fill="none" stroke="#336fae" stroke-width="0.32"/>
<circle cx="337.23" cy="301.22" r="0.45" fill="none" stroke="#336fae" stroke-width="0.32"/>
<circle cx="335.53" cy="302.06" r="0.45" fill="none" stroke="#336fae" stroke-width="0.32"/>
<circle cx="329.66" cy="300.15" r="0.45" fill="none" stroke="#336fae" stroke-width="0.32"/>
<circle cx="336.28" cy="295.86" r="0.45" fill="none" stroke="#336fae" stroke-width="0.32"/>
<circle cx="338.23" cy="288.96" r="0.45" fill="none" stroke="#336fae" stroke-width="0.32"/>
<circle cx="332.81" cy="297.33" r="0.45" fill="none" stroke="#336fae" stroke-width="0.32"/>
<circle cx="334.18" cy="291.67" r="0.45" fill="none" stroke="#336fae" stroke-width="0.32"/>
<circle cx="338.16" cy="281.38" r="0.45" fill="none" stroke="#336fae" stroke-width="0.32"/>
<circle cx="339.61" cy="296.87" r="0.45" fill="none" stroke="#336fae" stroke-width="0.32"/>
<circle cx="337.03" cy="302.76" r="0.45" fill="none" stroke="#336fae" stroke-width="0.32"/>
<circle cx="327.27" cy="298.19" r="0.45" fill="none" stroke="#336fae" stroke-width="0.32"/>
<circle cx="337.78" cy="305.32" r="0.45" fill="none" stroke="#336fae" stroke-width="0.32"/>
<circle cx="337.88" cy="290.95" r="0.45" fill="none" stroke="#336fae" stroke-width="0.32"/>
<circle cx="340.14" cy="285.01" r="0.45" fill="none" stroke="#336fae" stroke-width="0.32"/>
<circle cx="338.25" cy="289.55" r="0.45" fill="none" stroke="#336fae" stroke-width="0.32"/>
<circle cx="340.47" cy="296.56" r="0.45" fill="none" stroke="#336fae" stroke-width="0.32"/>
<circle cx="330.73" cy="300.12" r="0.45" fill="none" stroke="#336fae" stroke-width="0.32"/>
<circle cx="336.83" cy="291.16" r="0.45" fill="none" stroke="#336fae" stroke-width="0.32"/>
<circle cx="340.56" cy="299.74" r="0.45" fill="none" stroke="#336fae" stroke-width="0.32"/>
<circle cx="337.84" cy="292.56" r="0.45" fill="none" stroke="#336fae" stroke-width="0.32"/>
<circle cx="336.21" cy="291.61" r="0.45" fill="none" stroke="#336fae" stroke-width="0.32"/>
<circle cx="327.92" cy="300.13" r="0.45" fill="none" stroke="#336fae" stroke-width="0.32"/>
<circle cx="318.90" cy="304.24" r="0.45" fill="none" stroke="#336fae" stroke-width="0.32"/>
<circle cx="316.65" cy="304.81" r="0.45" fill="none" stroke="#336fae" stroke-width="0.32"/>
<circle cx="337.50" cy="296.06" r="0.45" fill="none" stroke="#336fae" stroke-width="0.32"/>
<circle cx="339.14" cy="275.54" r="0.45" fill="none" stroke="#336fae" stroke-width="0.32"/>
<circle cx="340.44" cy="297.97" r="0.45" fill="none" stroke="#336fae" stroke-width="0.32"/>
<circle cx="336.41" cy="288.19" r="0.45" fill="none" stroke="#336fae" stroke-width="0.32"/>
<circle cx="340.00" cy="302.78" r="0.45" fill="none" stroke="#336fae" stroke-width="0.32"/>
<circle cx="323.98" cy="299.79" r="0.45" fill="none" stroke="#336fae" stroke-width="0.32"/>
<circle cx="338.59" cy="283.27" r="0.45" fill="none" stroke="#336fae" stroke-width="0.32"/>
<circle cx="328.38" cy="305.40" r="0.45" fill="none" stroke="#336fae" stroke-width="0.32"/>
<circle cx="332.00" cy="303.31" r="0.45" fill="none" stroke="#336fae" stroke-width="0.32"/>
<circle cx="321.27" cy="298.17" r="0.45" fill="none" stroke="#336fae" stroke-width="0.32"/>
<circle cx="330.03" cy="304.04" r="0.45" fill="none" stroke="#336fae" stroke-width="0.32"/>
<circle cx="340.72" cy="291.76" r="0.45" fill="none" stroke="#336fae" stroke-width="0.32"/>
<circle cx="338.83" cy="296.62" r="0.45" fill="none" stroke="#336fae" stroke-width="0.32"/>
<circle cx="324.45" cy="292.70" r="0.45" fill="none" stroke="#336fae" stroke-width="0.32"/>
<circle cx="337.27" cy="293.71" r="0.45" fill="none" stroke="#336fae" stroke-width="0.32"/>
<circle cx="339.23" cy="295.60" r="0.45" fill="none" stroke="#336fae" stroke-width="0.32"/>
<circle cx="340.06" cy="298.85" r="0.45" fill="none" stroke="#336fae" stroke-width="0.32"/>
<circle cx="340.47" cy="291.75" r="0.45" fill="none" stroke="#336fae" stroke-width="0.32"/>
<circle cx="339.65" cy="297.55" r="0.45" fill="none" stroke="#336fae" stroke-width="0.32"/>
<circle cx="340.47" cy="296.67" r="0.45" fill="none" stroke="#336fae" stroke-width="0.32"/>
<circle cx="333.89" cy="305.49" r="0.45" fill="none" stroke="#336fae" stroke-width="0.32"/>
<circle cx="330.10" cy="291.79" r="0.45" fill="none" stroke="#336fae" stroke-width="0.32"/>
<circle cx="312.91" cy="293.33" r="0.45" fill="none" stroke="#336fae" stroke-width="0.32"/>
<circle cx="334.03" cy="304.10" r="0.45" fill="none" stroke="#336fae" stroke-width="0.32"/>
<circle cx="339.77" cy="294.65" r="0.45" fill="none" stroke="#336fae" stroke-width="0.32"/>
<circle cx="338.92" cy="304.14" r="0.45" fill="none" stroke="#336fae" stroke-width="0.32"/>
<circle cx="331.82" cy="297.63" r="0.45" fill="none" stroke="#336fae" stroke-width="0.32"/>
<circle cx="336.62" cy="292.12" r="0.45" fill="none" stroke="#336fae" stroke-width="0.32"/>
<circle cx="331.90" cy="304.91" r="0.45" fill="none" stroke="#336fae" stroke-width="0.32"/>
<circle cx="339.71" cy="297.88" r="0.45" fill="none" stroke="#336fae" stroke-width="0.32"/>
<circle cx="339.27" cy="295.19" r="0.45" fill="none" stroke="#336fae" stroke-width="0.32"/>
<circle cx="336.93" cy="301.73" r="0.45" fill="none" stroke="#336fae" stroke-width="0.32"/>
<circle cx="340.27" cy="290.46" r="0.45" fill="none" stroke="#336fae" stroke-width="0.32"/>
<circle cx="339.17" cy="299.36" r="0.45" fill="none" stroke="#336fae" stroke-width="0.32"/>
<circle cx="332.07" cy="293.55" r="0.45" fill="none" stroke="#336fae" stroke-width="0.32"/>
<circle cx="332.45" cy="302.42" r="0.45" fill="none" stroke="#336fae" stroke-width="0.32"/>
<circle cx="339.32" cy="298.93" r="0.45" fill="none" stroke="#336fae" stroke-width="0.32"/>
<circle cx="335.75" cy="302.25" r="0.45" fill="none" stroke="#336fae" stroke-width="0.32"/>
<circle cx="336.91" cy="287.68" r="0.45" fill="none" stroke="#336fae" stroke-width="0.32"/>
<circle cx="330.00" cy="305.79" r="0.45" fill="none" stroke="#336fae" stroke-width="0.32"/>
<circle cx="337.73" cy="296.23" r="0.45" fill="none" stroke="#336fae" stroke-width="0.32"/>
<circle cx="336.95" cy="302.76" r="0.45" fill="none" stroke="#336fae" stroke-width="0.32"/>
<circle cx="339.21" cy="292.82" r="0.45" fill="none" stroke="#336fae" stroke-width="0.32"/>
<circle cx="326.37" cy="304.16" r="0.45" fill="none" stroke="#336fae" stroke-width="0.32"/>
<circle cx="340.35" cy="299.37" r="0.45" fill="none" stroke="#336fae" stroke-width="0.32"/>
<circle cx="340.43" cy="281.39" r="0.45" fill="none" stroke="#336fae" stroke-width="0.32"/>
<circle cx="334.71" cy="300.80" r="0.45" fill="none" stroke="#336fae" stroke-width="0.32"/>
<circle cx="328.89" cy="293.77" r="0.45" fill="none" stroke="#336fae" stroke-width="0.32"/>
<circle cx="335.10" cy="303.67" r="0.45" fill="none" stroke="#336fae" stroke-width="0.32"/>
<circle cx="338.65" cy="282.49" r="0.45" fill="none" stroke="#336fae" stroke-width="0.32"/>
<circle cx="337.71" cy="291.98" r="0.45" fill="none" stroke="#336fae" stroke-width="0.32"/>
<circle cx="325.27" cy="291.91" r="0.45" fill="none" stroke="#336fae" stroke-width="0.32"/>
<circle cx="332.28" cy="301.22" r="0.45" fill="none" stroke="#336fae" stroke-width="0.32"/>
<circle cx="326.89" cy="301.14" r="0.45" fill="none" stroke="#336fae" stroke-width="0.32"/>
<circle cx="331.87" cy="289.88" r="0.45" fill="none" stroke="#336fae" stroke-width="0.32"/>
<circle cx="337.65" cy="282.98" r="0.45" fill="none" stroke="#336fae" stroke-width="0.32"/>
<circle cx="340.49" cy="272.68" r="0.45" fill="none" stroke="#336fae" stroke-width="0.32"/>
<circle cx="340.37" cy="296.40" r="0.45" fill="none" stroke="#336fae" stroke-width="0.32"/>
<circle cx="334.33" cy="296.15" r="0.45" fill="none" stroke="#336fae" stroke-width="0.32"/>
<circle cx="329.91" cy="302.10" r="0.45" fill="none" stroke="#336fae" stroke-width="0.32"/>
<circle cx="339.45" cy="299.85" r="0.45" fill="none" stroke="#336fae" stroke-width="0.32"/>
<circle cx="335.00" cy="303.43" r="0.45" fill="none" stroke="#336fae" stroke-width="0.32"/>
<circle cx="340.50" cy="300.46" r="0.45" fill="none" stroke="#336fae" stroke-width="0.32"/>
<circle cx="317.07" cy="301.78" r="0.45" fill="none" stroke="#336fae" stroke-width="0.32"/>
<circle cx="333.92" cy="298.75" r="0.45" fill="none" stroke="#336fae" stroke-width="0.32"/>
<circle cx="340.35" cy="299.67" r="0.45" fill="none" stroke="#336fae" stroke-width="0.32"/>
<circle cx="339.52" cy="295.36" r="0.45" fill="none" stroke="#336fae" stroke-width="0.32"/>
<circle cx="334.20" cy="304.36" r="0.45" fill="none" stroke="#336fae" stroke-width="0.32"/>
<circle cx="340.77" cy="247.51" r="0.45" fill="none" stroke="#336fae" stroke-width="0.32"/>
<circle cx="340.73" cy="213.88" r="0.45" fill="none" stroke="#336fae" stroke-width="0.32"/>
<circle cx="339.52" cy="294.66" r="0.45" fill="none" stroke="#336fae" stroke-width="0.32"/>
<circle cx="336.46" cy="233.00" r="0.45" fill="none" stroke="#336fae" stroke-width="0.32"/>
<circle cx="339.00" cy="239.58" r="0.45" fill="none" stroke="#336fae" stroke-width="0.32"/>
<circle cx="340.34" cy="218.40" r="0.45" fill="none" stroke="#336fae" stroke-width="0.32"/>
<circle cx="340.64" cy="211.91" r="0.45" fill="none" stroke="#336fae" stroke-width="0.32"/>
<circle cx="336.35" cy="295.47" r="0.45" fill="none" stroke="#336fae" stroke-width="0.32"/>
<circle cx="337.22" cy="236.38" r="0.45" fill="none" stroke="#336fae" stroke-width="0.32"/>
<circle cx="334.35" cy="288.79" r="0.45" fill="none" stroke="#336fae" stroke-width="0.32"/>
<circle cx="340.06" cy="264.91" r="0.45" fill="none" stroke="#336fae" stroke-width="0.32"/>
<circle cx="326.37" cy="298.92" r="0.45" fill="none" stroke="#336fae" stroke-width="0.32"/>
<circle cx="340.01" cy="301.08" r="0.45" fill="none" stroke="#336fae" stroke-width="0.32"/>
<circle cx="333.64" cy="279.96" r="0.45" fill="none" stroke="#336fae" stroke-width="0.32"/>
<circle cx="334.90" cy="228.85" r="0.45" fill="none" stroke="#336fae" stroke-width="0.32"/>
<circle cx="340.76" cy="252.56" r="0.45" fill="none" stroke="#336fae" stroke-width="0.32"/>
<circle cx="340.12" cy="240.20" r="0.45" fill="none" stroke="#336fae" stroke-width="0.32"/>
<circle cx="329.55" cy="213.73" r="0.45" fill="none" stroke="#336fae" stroke-width="0.32"/>
<circle cx="336.60" cy="300.57" r="0.45" fill="none" stroke="#336fae" stroke-width="0.32"/>
<circle cx="340.45" cy="289.31" r="0.45" fill="none" stroke="#336fae" stroke-width="0.32"/>
<circle cx="331.64" cy="305.71" r="0.41" fill="none" stroke="#336fae" stroke-width="0.32"/>
<circle cx="336.55" cy="305.29" r="0.41" fill="none" stroke="#336fae" stroke-width="0.32"/>
<circle cx="329.22" cy="306.03" r="0.41" fill="none" stroke="#336fae" stroke-width="0.32"/>
<circle cx="326.64" cy="304.95" r="0.41" fill="none" stroke="#336fae" stroke-width="0.32"/>
<circle cx="322.56" cy="305.07" r="0.41" fill="none" stroke="#336fae" stroke-width="0.32"/>
<circle cx="334.36" cy="306.02" r="0.41" fill="none" stroke="#336fae" stroke-width="0.32"/>
<circle cx="337.14" cy="305.93" r="0.41" fill="none" stroke="#336fae" stroke-width="0.32"/>
<circle cx="326.07" cy="305.69" r="0.41" fill="none" stroke="#336fae" stroke-width="0.32"/>
<circle cx="334.54" cy="306.05" r="0.41" fill="none" stroke="#336fae" stroke-width="0.32"/>
<circle cx="334.65" cy="306.36" r="0.41" fill="none" stroke="#336fae" stroke-width="0.32"/>
<circle cx="327.84" cy="304.29" r="0.41" fill="none" stroke="#336fae" stroke-width="0.32"/>
<circle cx="328.51" cy="306.21" r="0.41" fill="none" stroke="#336fae" stroke-width="0.32"/>
<circle cx="331.58" cy="305.89" r="0.41" fill="none" stroke="#336fae" stroke-width="0.32"/>
<circle cx="334.36" cy="306.11" r="0.41" fill="none" stroke="#336fae" stroke-width="0.32"/>
<circle cx="335.54" cy="305.08" r="0.41" fill="none" stroke="#336fae" stroke-width="0.32"/>
<circle cx="336.33" cy="306.36" r="0.41" fill="none" stroke="#336fae" stroke-width="0.32"/>
<circle cx="326.73" cy="305.03" r="0.41" fill="none" stroke="#336fae" stroke-width="0.32"/>
<circle cx="327.17" cy="305.05" r="0.41" fill="none" stroke="#336fae" stroke-width="0.32"/>
<circle cx="328.33" cy="305.55" r="0.41" fill="none" stroke="#336fae" stroke-width="0.32"/>
<circle cx="331.06" cy="305.47" r="0.41" fill="none" stroke="#336fae" stroke-width="0.32"/>
<circle cx="328.35" cy="305.85" r="0.41" fill="none" stroke="#336fae" stroke-width="0.32"/>
<circle cx="335.42" cy="306.25" r="0.41" fill="none" stroke="#336fae" stroke-width="0.32"/>
<circle cx="334.92" cy="304.51" r="0.41" fill="none" stroke="#336fae" stroke-width="0.32"/>
<circle cx="321.10" cy="305.67" r="0.41" fill="none" stroke="#336fae" stroke-width="0.32"/>
<circle cx="337.21" cy="306.08" r="0.41" fill="none" stroke="#336fae" stroke-width="0.32"/>
<circle cx="339.58" cy="305.95" r="0.41" fill="none" stroke="#336fae" stroke-width="0.32"/>
<circle cx="333.84" cy="305.66" r="0.41" fill="none" stroke="#336fae" stroke-width="0.32"/>
<circle cx="326.29" cy="306.33" r="0.41" fill="none" stroke="#336fae" stroke-width="0.32"/>
<circle cx="336.55" cy="305.28" r="0.41" fill="none" stroke="#336fae" stroke-width="0.32"/>
<circle cx="332.31" cy="305.65" r="0.41" fill="none" stroke="#336fae" stroke-width="0.32"/>
<circle cx="330.17" cy="306.08" r="0.41" fill="none" stroke="#336fae" stroke-width="0.32"/>
<circle cx="337.22" cy="305.71" r="0.41" fill="none" stroke="#336fae" stroke-width="0.32"/>
<circle cx="324.51" cy="304.42" r="0.41" fill="none" stroke="#336fae" stroke-width="0.32"/>
<circle cx="333.83" cy="305.88" r="0.41" fill="none" stroke="#336fae" stroke-width="0.32"/>
<circle cx="328.33" cy="304.87" r="0.41" fill="none" stroke="#336fae" stroke-width="0.32"/>
<circle cx="340.21" cy="305.83" r="0.41" fill="none" stroke="#336fae" stroke-width="0.32"/>
<circle cx="338.76" cy="306.05" r="0.41" fill="none" stroke="#336fae" stroke-width="0.32"/>
<circle cx="335.54" cy="305.88" r="0.41" fill="none" stroke="#336fae" stroke-width="0.32"/>
<circle cx="324.76" cy="304.72" r="0.41" fill="none" stroke="#336fae" stroke-width="0.32"/>
<circle cx="340.25" cy="305.65" r="0.41" fill="none" stroke="#336fae" stroke-width="0.32"/>
<circle cx="315.00" cy="266.00" r="0.45" fill="none" stroke="#336fae" stroke-width="0.32"/>
<circle cx="324.00" cy="282.00" r="0.45" fill="none" stroke="#336fae" stroke-width="0.32"/>
<circle cx="325.00" cy="289.00" r="0.45" fill="none" stroke="#336fae" stroke-width="0.32"/>
<circle cx="323.00" cy="298.00" r="0.45" fill="none" stroke="#336fae" stroke-width="0.32"/>
<circle cx="323.00" cy="300.00" r="0.45" fill="none" stroke="#336fae" stroke-width="0.32"/>
<circle cx="316.00" cy="305.00" r="0.45" fill="none" stroke="#336fae" stroke-width="0.32"/>
<circle cx="318.00" cy="305.00" r="0.45" fill="none" stroke="#336fae" stroke-width="0.32"/>
<circle cx="358.45" cy="296.05" r="0.5" fill="#f0443c"/>
<circle cx="360.32" cy="304.77" r="0.5" fill="#f0443c"/>
<circle cx="359.25" cy="298.91" r="0.5" fill="#f0443c"/>
<circle cx="358.44" cy="299.88" r="0.5" fill="#f0443c"/>
<circle cx="358.82" cy="302.48" r="0.5" fill="#f0443c"/>
<circle cx="358.56" cy="302.79" r="0.5" fill="#f0443c"/>
<circle cx="358.42" cy="287.15" r="0.5" fill="#f0443c"/>
<circle cx="358.78" cy="299.90" r="0.5" fill="#f0443c"/>
<circle cx="361.50" cy="303.29" r="0.5" fill="#f0443c"/>
<circle cx="361.09" cy="270.01" r="0.5" fill="#f0443c"/>
<circle cx="360.02" cy="301.37" r="0.5" fill="#f0443c"/>
<circle cx="358.57" cy="299.57" r="0.5" fill="#f0443c"/>
<circle cx="360.29" cy="299.74" r="0.5" fill="#f0443c"/>
<circle cx="361.50" cy="300.19" r="0.5" fill="#f0443c"/>
<circle cx="359.09" cy="299.28" r="0.5" fill="#f0443c"/>
<circle cx="359.28" cy="280.92" r="0.5" fill="#f0443c"/>
<circle cx="363.41" cy="302.55" r="0.5" fill="#f0443c"/>
<circle cx="360.19" cy="298.60" r="0.5" fill="#f0443c"/>
<circle cx="362.22" cy="298.84" r="0.5" fill="#f0443c"/>
<circle cx="359.32" cy="291.30" r="0.5" fill="#f0443c"/>
<circle cx="361.43" cy="300.79" r="0.5" fill="#f0443c"/>
<circle cx="359.59" cy="285.78" r="0.5" fill="#f0443c"/>
<circle cx="376.10" cy="305.58" r="0.45" fill="#f0443c"/>
<circle cx="361.90" cy="306.26" r="0.45" fill="#f0443c"/>
<circle cx="361.09" cy="305.36" r="0.45" fill="#f0443c"/>
<circle cx="366.92" cy="304.91" r="0.45" fill="#f0443c"/>
<circle cx="358.81" cy="306.18" r="0.45" fill="#f0443c"/>
<circle cx="373.98" cy="305.59" r="0.45" fill="#f0443c"/>
<circle cx="375.56" cy="306.36" r="0.45" fill="#f0443c"/>
<circle cx="364.04" cy="305.74" r="0.45" fill="#f0443c"/>
<circle cx="378.58" cy="305.52" r="0.45" fill="#f0443c"/>
<circle cx="358.58" cy="305.65" r="0.45" fill="#f0443c"/>
<circle cx="365.20" cy="304.65" r="0.45" fill="#f0443c"/>
<circle cx="379.03" cy="306.33" r="0.45" fill="#f0443c"/>
<circle cx="372.35" cy="305.60" r="0.45" fill="#f0443c"/>
<circle cx="377.50" cy="304.99" r="0.45" fill="#f0443c"/>
<circle cx="358.76" cy="305.50" r="0.45" fill="#f0443c"/>
<circle cx="361.69" cy="305.94" r="0.45" fill="#f0443c"/>
<circle cx="360.65" cy="306.28" r="0.45" fill="#f0443c"/>
<circle cx="366.94" cy="305.86" r="0.45" fill="#f0443c"/>
<circle cx="358.44" cy="304.39" r="0.45" fill="#f0443c"/>
<circle cx="358.40" cy="305.91" r="0.45" fill="#f0443c"/>
<circle cx="359.02" cy="304.96" r="0.45" fill="#f0443c"/>
<circle cx="365.80" cy="305.36" r="0.45" fill="#f0443c"/>
<circle cx="361.52" cy="306.01" r="0.45" fill="#f0443c"/>
<circle cx="367.61" cy="305.16" r="0.45" fill="#f0443c"/>
<circle cx="364.45" cy="306.27" r="0.45" fill="#f0443c"/>
<circle cx="363.26" cy="306.06" r="0.45" fill="#f0443c"/>
<circle cx="376.28" cy="305.61" r="0.45" fill="#f0443c"/>
<circle cx="373.25" cy="305.92" r="0.45" fill="#f0443c"/>
<circle cx="376.48" cy="305.96" r="0.45" fill="#f0443c"/>
<circle cx="358.99" cy="306.34" r="0.45" fill="#f0443c"/>
<circle cx="370.02" cy="305.87" r="0.45" fill="#f0443c"/>
<circle cx="358.54" cy="305.58" r="0.45" fill="#f0443c"/>
<circle cx="378.58" cy="306.20" r="0.45" fill="#f0443c"/>
<circle cx="368.70" cy="305.28" r="0.45" fill="#f0443c"/>
<circle cx="362.61" cy="306.14" r="0.45" fill="#f0443c"/>
<circle cx="362.07" cy="305.41" r="0.45" fill="#f0443c"/>
<circle cx="358.76" cy="306.30" r="0.45" fill="#f0443c"/>
<circle cx="376.92" cy="306.20" r="0.45" fill="#f0443c"/>
<circle cx="360.11" cy="305.43" r="0.45" fill="#f0443c"/>
<circle cx="378.89" cy="305.86" r="0.45" fill="#f0443c"/>
<circle cx="364.96" cy="306.39" r="0.45" fill="#f0443c"/>
<circle cx="368.67" cy="306.06" r="0.45" fill="#f0443c"/>
<circle cx="370.70" cy="305.65" r="0.45" fill="#f0443c"/>
<circle cx="358.94" cy="304.82" r="0.45" fill="#f0443c"/>
<circle cx="369.32" cy="305.85" r="0.45" fill="#f0443c"/>
<circle cx="360.80" cy="304.57" r="0.45" fill="#f0443c"/>
<circle cx="378.03" cy="305.35" r="0.45" fill="#f0443c"/>
<circle cx="362.10" cy="306.23" r="0.45" fill="#f0443c"/>
<circle cx="366.10" cy="306.04" r="0.45" fill="#f0443c"/>
<circle cx="362.48" cy="305.70" r="0.45" fill="#f0443c"/>
<circle cx="364.83" cy="305.93" r="0.45" fill="#f0443c"/>
<circle cx="359.68" cy="306.09" r="0.45" fill="#f0443c"/>
<circle cx="364.92" cy="304.85" r="0.45" fill="#f0443c"/>
<circle cx="359.46" cy="306.32" r="0.45" fill="#f0443c"/>
<circle cx="369.01" cy="305.97" r="0.45" fill="#f0443c"/>
<circle cx="380.25" cy="305.84" r="0.45" fill="#f0443c"/>
<circle cx="362.30" cy="305.58" r="0.45" fill="#f0443c"/>
<circle cx="367.78" cy="305.78" r="0.45" fill="#f0443c"/>
<circle cx="365.91" cy="305.49" r="0.45" fill="#f0443c"/>
<circle cx="362.77" cy="306.09" r="0.45" fill="#f0443c"/>
<circle cx="360.19" cy="305.25" r="0.45" fill="#f0443c"/>
<circle cx="365.74" cy="305.75" r="0.45" fill="#f0443c"/>
<circle cx="363.29" cy="306.39" r="0.45" fill="#f0443c"/>
<circle cx="380.11" cy="304.85" r="0.45" fill="#f0443c"/>
<circle cx="367.73" cy="306.23" r="0.45" fill="#f0443c"/>
<circle cx="359.55" cy="305.71" r="0.45" fill="#f0443c"/>
<circle cx="358.62" cy="305.08" r="0.45" fill="#f0443c"/>
<circle cx="370.56" cy="305.20" r="0.45" fill="#f0443c"/>
<circle cx="370.07" cy="305.88" r="0.45" fill="#f0443c"/>
<circle cx="364.07" cy="305.76" r="0.45" fill="#f0443c"/>
<circle cx="360.96" cy="305.80" r="0.45" fill="#f0443c"/>
<circle cx="366.22" cy="305.33" r="0.45" fill="#f0443c"/>
<circle cx="373.16" cy="306.19" r="0.45" fill="#f0443c"/>
<circle cx="360.35" cy="306.27" r="0.45" fill="#f0443c"/>
<circle cx="364.92" cy="306.27" r="0.45" fill="#f0443c"/>
<circle cx="364.37" cy="305.82" r="0.45" fill="#f0443c"/>
<circle cx="369.81" cy="306.07" r="0.45" fill="#f0443c"/>
<circle cx="358.65" cy="305.25" r="0.45" fill="#f0443c"/>
<circle cx="363.73" cy="305.37" r="0.45" fill="#f0443c"/>
<circle cx="365.92" cy="305.18" r="0.45" fill="#f0443c"/>
<circle cx="357.50" cy="263.00" r="0.5" fill="#f0443c"/>
<circle cx="358.50" cy="283.00" r="0.5" fill="#f0443c"/>
<circle cx="361.00" cy="291.00" r="0.5" fill="#f0443c"/>
<circle cx="361.50" cy="297.00" r="0.5" fill="#f0443c"/>
<circle cx="381.00" cy="306.00" r="0.5" fill="#f0443c"/>
<circle cx="331.00" cy="207.20" r="0.50" fill="none" stroke="#336fae" stroke-width="0.32"/>
<circle cx="335.00" cy="207.20" r="0.50" fill="none" stroke="#336fae" stroke-width="0.32"/>
<circle cx="337.30" cy="207.20" r="0.50" fill="none" stroke="#336fae" stroke-width="0.32"/>
<circle cx="358.50" cy="207.20" r="0.55" fill="#f0443c"/>
<circle cx="359.20" cy="207.20" r="0.55" fill="#f0443c"/>
<text x="303.40" y="206.50" font-size="2.7" font-family='"Liberation Sans", sans-serif' text-anchor="start" fill="#222" font-weight="normal" textLength="5.4" lengthAdjust="spacingAndGlyphs">Down</text>
<text x="303.40" y="209.53" font-size="2.7" font-family='"Liberation Sans", sans-serif' text-anchor="start" fill="#222" font-weight="normal" textLength="13.6" lengthAdjust="spacingAndGlyphs">p &lt; 0.05: 2098</text>
<text x="303.40" y="212.56" font-size="2.7" font-family='"Liberation Sans", sans-serif' text-anchor="start" fill="#222" font-weight="normal" textLength="17.0" lengthAdjust="spacingAndGlyphs">log2FC &lt; -1: 2806</text>
<text x="303.40" y="215.59" font-size="2.7" font-family='"Liberation Sans", sans-serif' text-anchor="start" fill="#222" font-weight="normal" textLength="9.4" lengthAdjust="spacingAndGlyphs">Sig.: 1281</text>
<text x="378.00" y="206.50" font-size="2.7" font-family='"Liberation Sans", sans-serif' text-anchor="start" fill="#222" font-weight="normal" textLength="3.3" lengthAdjust="spacingAndGlyphs">Up</text>
<text x="378.00" y="209.53" font-size="2.7" font-family='"Liberation Sans", sans-serif' text-anchor="start" fill="#222" font-weight="normal" textLength="13.8" lengthAdjust="spacingAndGlyphs">p &lt; 0.05: 1828</text>
<text x="378.00" y="212.56" font-size="2.7" font-family='"Liberation Sans", sans-serif' text-anchor="start" fill="#222" font-weight="normal" textLength="16.8" lengthAdjust="spacingAndGlyphs">log2FC &gt; 1: 2487</text>
<text x="378.00" y="215.59" font-size="2.7" font-family='"Liberation Sans", sans-serif' text-anchor="start" fill="#222" font-weight="normal" textLength="9.4" lengthAdjust="spacingAndGlyphs">Sig.: 1125</text>
<line x1="298.0" y1="235.9" x2="299.0" y2="235.9" stroke="#888" stroke-width="0.35"/>
<text x="297.50" y="236.80" font-size="2.6" font-family='"Liberation Sans", sans-serif' text-anchor="end" fill="#444" font-weight="normal">200</text>
<line x1="298.0" y1="271.2" x2="299.0" y2="271.2" stroke="#888" stroke-width="0.35"/>
<text x="297.50" y="272.10" font-size="2.6" font-family='"Liberation Sans", sans-serif' text-anchor="end" fill="#444" font-weight="normal">100</text>
<line x1="298.0" y1="306.5" x2="299.0" y2="306.5" stroke="#888" stroke-width="0.35"/>
<text x="297.50" y="307.40" font-size="2.6" font-family='"Liberation Sans", sans-serif' text-anchor="end" fill="#444" font-weight="normal">0</text>
<line x1="304.2" y1="311.7" x2="304.2" y2="312.7" stroke="#888" stroke-width="0.35"/>
<text x="304.20" y="315.30" font-size="2.6" font-family='"Liberation Sans", sans-serif' text-anchor="middle" fill="#444" font-weight="normal">-10</text>
<line x1="326.8" y1="311.7" x2="326.8" y2="312.7" stroke="#888" stroke-width="0.35"/>
<text x="326.80" y="315.30" font-size="2.6" font-family='"Liberation Sans", sans-serif' text-anchor="middle" fill="#444" font-weight="normal">-5</text>
<line x1="349.4" y1="311.7" x2="349.4" y2="312.7" stroke="#888" stroke-width="0.35"/>
<text x="349.40" y="315.30" font-size="2.6" font-family='"Liberation Sans", sans-serif' text-anchor="middle" fill="#444" font-weight="normal">0</text>
<line x1="372.1" y1="311.7" x2="372.1" y2="312.7" stroke="#888" stroke-width="0.35"/>
<text x="372.10" y="315.30" font-size="2.6" font-family='"Liberation Sans", sans-serif' text-anchor="middle" fill="#444" font-weight="normal">5</text>
<line x1="394.9" y1="311.7" x2="394.9" y2="312.7" stroke="#888" stroke-width="0.35"/>
<text x="394.90" y="315.30" font-size="2.6" font-family='"Liberation Sans", sans-serif' text-anchor="middle" fill="#444" font-weight="normal">10</text>
<text x="349.35" y="318.40" font-size="3.3" font-family='"Liberation Sans", sans-serif' text-anchor="middle" fill="#222" font-weight="normal">log<tspan font-size="2.1" dy="0.7">2</tspan><tspan dy="-0.7"> FoldChange</tspan></text>
<text x="291.60" y="256.35" font-size="3.2" font-family='"Liberation Sans", sans-serif' text-anchor="middle" fill="#222" font-weight="normal" transform="rotate(-90 291.6 256.35)">-log<tspan font-size="2.1" dy="0.7">10</tspan><tspan dy="-0.7"> p-value</tspan></text>
<circle cx="405.70" cy="251.30" r="0.55" fill="#f0443c"/>
<text x="409.50" y="252.20" font-size="2.6" font-family='"Liberation Sans", sans-serif' text-anchor="start" fill="#444" font-weight="normal">Significant Up</text>
<circle cx="405.70" cy="254.83" r="0.55" fill="#336fae"/>
<text x="409.50" y="255.73" font-size="2.6" font-family='"Liberation Sans", sans-serif' text-anchor="start" fill="#444" font-weight="normal">Significant Down</text>
<circle cx="405.70" cy="258.36" r="0.55" fill="#f7b4c2"/>
<text x="409.50" y="259.26" font-size="2.6" font-family='"Liberation Sans", sans-serif' text-anchor="start" fill="#444" font-weight="normal">Up</text>
<circle cx="405.70" cy="261.89" r="0.55" fill="#7cc0f0"/>
<text x="409.50" y="262.79" font-size="2.6" font-family='"Liberation Sans", sans-serif' text-anchor="start" fill="#444" font-weight="normal">Down</text>
<circle cx="405.70" cy="265.42" r="0.55" fill="#cccccc"/>
<text x="409.50" y="266.32" font-size="2.6" font-family='"Liberation Sans", sans-serif' text-anchor="start" fill="#444" font-weight="normal">Non-significant</text>
<text x="0" y="0" font-size="16.6" font-family='"Liberation Sans", sans-serif' fill="#000" stroke="#000" stroke-width="0.5" transform="translate(425.25 197.60) scale(0.9 1)">G</text>
<defs><clipPath id="k1"><circle cx="470.7" cy="242.0" r="37.6"/></clipPath><clipPath id="k2"><circle cx="509.1" cy="242.0" r="37.6"/></clipPath><clipPath id="k3"><circle cx="490.45" cy="273.9" r="38.05"/></clipPath></defs>
<circle cx="470.7" cy="242.0" r="37.6" fill="#8b434a"/>
<circle cx="509.1" cy="242.0" r="37.6" fill="#c0674e"/>
<circle cx="490.45" cy="273.9" r="38.05" fill="#f59c70"/>
<g clip-path="url(#k1)"><circle cx="509.1" cy="242.0" r="37.6" fill="#a8441e"/></g>
<g clip-path="url(#k1)"><circle cx="490.45" cy="273.9" r="38.05" fill="#d86a3a"/></g>
<g clip-path="url(#k2)"><circle cx="490.45" cy="273.9" r="38.05" fill="#e8703a"/></g>
<g clip-path="url(#k1)"><g clip-path="url(#k2)"><circle cx="490.45" cy="273.9" r="38.05" fill="#e0652a"/></g></g>
<circle cx="470.7" cy="242.0" r="37.6" fill="none" stroke="#3a2a2a" stroke-width="0.6"/>
<circle cx="509.1" cy="242.0" r="37.6" fill="none" stroke="#3a2a2a" stroke-width="0.6"/>
<circle cx="490.45" cy="273.9" r="38.05" fill="none" stroke="#3a2a2a" stroke-width="0.6"/>
<text x="453.40" y="235.30" font-size="6.6" font-family='"Liberation Serif", serif' text-anchor="middle" fill="#2a1a1a" font-weight="normal" stroke="#2a1a1a" stroke-width="0.15">517</text>
<text x="489.90" y="228.70" font-size="6.6" font-family='"Liberation Serif", serif' text-anchor="middle" fill="#2a1a1a" font-weight="normal" stroke="#2a1a1a" stroke-width="0.15">253</text>
<text x="526.60" y="235.30" font-size="6.6" font-family='"Liberation Serif", serif' text-anchor="middle" fill="#2a1a1a" font-weight="normal" stroke="#2a1a1a" stroke-width="0.15">223</text>
<text x="490.00" y="253.90" font-size="6.6" font-family='"Liberation Serif", serif' text-anchor="middle" fill="#2a1a1a" font-weight="normal" stroke="#2a1a1a" stroke-width="0.15">1488</text>
<text x="465.90" y="270.00" font-size="6.6" font-family='"Liberation Serif", serif' text-anchor="middle" fill="#2a1a1a" font-weight="normal" stroke="#2a1a1a" stroke-width="0.15">284</text>
<text x="513.90" y="270.00" font-size="6.6" font-family='"Liberation Serif", serif' text-anchor="middle" fill="#2a1a1a" font-weight="normal" stroke="#2a1a1a" stroke-width="0.15">106</text>
<text x="490.00" y="293.60" font-size="6.6" font-family='"Liberation Serif", serif' text-anchor="middle" fill="#2a1a1a" font-weight="normal" stroke="#2a1a1a" stroke-width="0.15">409</text>
<text x="464.30" y="201.80" font-size="5.85" font-family='"Liberation Serif", serif' text-anchor="middle" fill="#222" font-weight="bold">OE_ADRB1vsCtrl</text>
<text x="517.60" y="201.80" font-size="5.85" font-family='"Liberation Serif", serif' text-anchor="middle" fill="#222" font-weight="bold">OE_ADRB2vsCtrl</text>
<text x="493.40" y="320.00" font-size="5.85" font-family='"Liberation Serif", serif' text-anchor="middle" fill="#222" font-weight="bold">OE_ADRB3vsCtrl</text>
</svg>
</body></html>
